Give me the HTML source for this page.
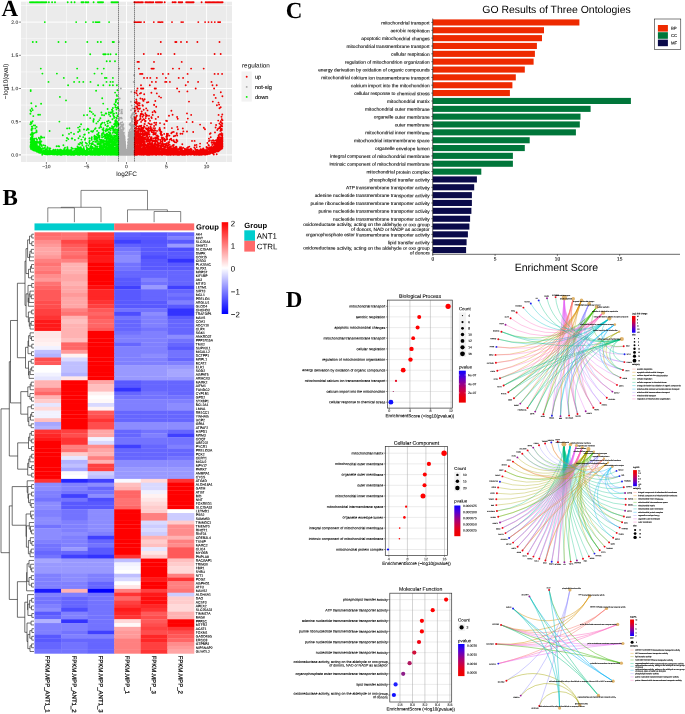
<!DOCTYPE html>
<html><head><meta charset="utf-8"><title>Figure</title>
<style>
html,body{margin:0;padding:0;background:#fff;width:685px;height:714px;overflow:hidden}
svg{display:block}
text{font-family:'Liberation Sans',Arial,sans-serif;text-rendering:geometricPrecision}
</style></head><body>
<svg width="685" height="714" viewBox="0 0 685 714">
<rect width="685" height="714" fill="#fff"/>
<rect x="21" y="1.7" width="211" height="160.3" fill="#EBEBEB"/>
<line x1="26.4" y1="1.7" x2="26.4" y2="162" stroke="#fff" stroke-width="0.5"/>
<line x1="66.5" y1="1.7" x2="66.5" y2="162" stroke="#fff" stroke-width="0.5"/>
<line x1="106.5" y1="1.7" x2="106.5" y2="162" stroke="#fff" stroke-width="0.5"/>
<line x1="146.5" y1="1.7" x2="146.5" y2="162" stroke="#fff" stroke-width="0.5"/>
<line x1="186.5" y1="1.7" x2="186.5" y2="162" stroke="#fff" stroke-width="0.5"/>
<line x1="226.6" y1="1.7" x2="226.6" y2="162" stroke="#fff" stroke-width="0.5"/>
<line x1="21" y1="138.3" x2="232" y2="138.3" stroke="#fff" stroke-width="0.5"/>
<line x1="21" y1="105.1" x2="232" y2="105.1" stroke="#fff" stroke-width="0.5"/>
<line x1="21" y1="71.9" x2="232" y2="71.9" stroke="#fff" stroke-width="0.5"/>
<line x1="21" y1="38.7" x2="232" y2="38.7" stroke="#fff" stroke-width="0.5"/>
<line x1="21" y1="5.5" x2="232" y2="5.5" stroke="#fff" stroke-width="0.5"/>
<line x1="46.4" y1="1.7" x2="46.4" y2="162" stroke="#fff" stroke-width="1"/>
<line x1="86.5" y1="1.7" x2="86.5" y2="162" stroke="#fff" stroke-width="1"/>
<line x1="126.5" y1="1.7" x2="126.5" y2="162" stroke="#fff" stroke-width="1"/>
<line x1="166.5" y1="1.7" x2="166.5" y2="162" stroke="#fff" stroke-width="1"/>
<line x1="206.6" y1="1.7" x2="206.6" y2="162" stroke="#fff" stroke-width="1"/>
<line x1="21" y1="154.9" x2="232" y2="154.9" stroke="#fff" stroke-width="1"/>
<line x1="21" y1="121.7" x2="232" y2="121.7" stroke="#fff" stroke-width="1"/>
<line x1="21" y1="88.5" x2="232" y2="88.5" stroke="#fff" stroke-width="1"/>
<line x1="21" y1="55.3" x2="232" y2="55.3" stroke="#fff" stroke-width="1"/>
<line x1="21" y1="22.1" x2="232" y2="22.1" stroke="#fff" stroke-width="1"/>
<path d="M131.3 151.6h0M131.4 153h0M123.1 152.6h0M119.4 148.5h0M124.7 154.2h0M119.3 145h0M119.3 144h0M134.4 149.4h0M128.9 150.1h0M122.3 144.2h0M125.5 150.5h0M134 153.1h0M132.8 146.3h0M132 153.3h0M124.8 153.6h0M119.5 150.9h0M127.4 150.1h0M122.9 153.1h0M132.5 153.3h0M119.6 152.8h0M129.3 147.5h0M132.4 144.3h0M122.2 140.9h0M132.8 134.9h0M132.4 148.1h0M118.9 151.5h0M129.8 143.4h0M118.6 151.2h0M125.5 153.8h0M121.8 149.6h0M131.4 153.5h0M123.6 141.4h0M120.9 152.2h0M129.6 152.8h0M131.2 143.2h0M122.3 152.3h0M131.3 134.4h0M122.3 151.2h0M118.8 152h0M133.4 154.7h0M119.9 145.8h0M132 132.7h0M133.6 154.7h0M124.9 142.1h0M133.4 152.1h0M127.4 153.5h0M122.4 134.1h0M130.3 145.7h0M129.3 145.9h0M129.4 148.9h0M125.9 152.1h0M122.1 149.3h0M128.7 150.8h0M120.3 153.2h0M129.5 152.5h0M128.6 151.7h0M124.5 154.6h0M131.2 154.4h0M121.7 152.8h0M124.8 152.1h0M131.2 125.7h0M124.6 138.2h0M129.9 137.3h0M128.3 147.3h0M133.5 144.4h0M134.3 145.8h0M130 149.1h0M131.4 117.3h0M121 146.2h0M129.9 132.2h0M132 153.4h0M124.9 141.3h0M127.3 149.8h0M133.8 148.7h0M123.6 152.7h0M118.6 132.4h0M125.2 151.2h0M128.6 147.4h0M133.4 152.2h0M133.2 149.4h0M134.2 153.5h0M121.5 152.5h0M131.6 147.6h0M121.1 130.9h0M125 152.3h0M119.7 145.1h0M132.2 138.6h0M131.7 149.2h0M120.8 146.7h0M126.9 154.6h0M122.7 134.7h0M120.3 154.4h0M132.3 151.6h0M123 153.2h0M119.5 147.5h0M118.6 134h0M121.7 149.7h0M124 150h0M133.3 148.8h0M132.7 127.7h0M125.8 151.5h0M129.1 154.8h0M132.2 137.1h0M123.9 148.9h0M131.2 153.4h0M128 154h0M130.3 137.2h0M129.6 133.9h0M118.7 142.4h0M119.2 154h0M120.9 138.6h0M122 113.4h0M121.8 150.2h0M119.4 138.3h0M122 144.1h0M128.1 153.7h0M132.6 146.9h0M124.1 152.9h0M124.4 152.9h0M125.2 149.1h0M129.4 138.9h0M131 110.1h0M133.5 144.9h0M124.5 137.5h0M129.8 147.8h0M124 149.2h0M131.6 151.6h0M122.2 150.1h0M132.4 147.5h0M130.1 152.9h0M123.6 149h0M119.4 152.6h0M119.3 153.7h0M131.8 151.7h0M118.9 132.4h0M128.1 151.7h0M130.1 153.2h0M128.3 147.3h0M122.5 149.9h0M129.2 154.9h0M121.6 146.6h0M134.3 130.8h0M130.4 146.9h0M133.7 149.4h0M123.2 154.1h0M122.7 145.8h0M119.3 151.4h0M118.8 149.7h0M122.5 127.2h0M132.2 147.9h0M121.2 141.8h0M129.5 153.1h0M122.5 153.8h0M119.6 153h0M121.6 147.6h0M129.3 154.5h0M127.3 152.1h0M122.9 147.8h0M133.2 152.7h0M121.8 153h0M130.2 152.8h0M122.6 149.5h0M121.6 148.7h0M123.7 144.1h0M120 153.2h0M133.4 149.5h0M124.4 151.9h0M121.4 151.8h0M118.6 147.7h0M119.5 142.6h0M122 154.5h0M125.2 148.5h0M134.1 147.3h0M132.7 154.1h0M122.4 148.4h0M128.3 143.5h0M133.2 147.9h0M120.2 154.2h0M132.1 148h0M124.9 152.3h0M131 150.4h0M123.7 152.1h0M128.5 148.7h0M120.2 147.1h0M130.6 152.4h0M131.6 118.8h0M124.7 153.8h0M133.6 153.5h0M124.5 141.1h0M132.5 149.4h0M125.2 152.3h0M124.5 146.3h0M124.3 154.3h0M119.5 152.4h0M123 144.9h0M122.2 146h0M119.6 138.2h0M119 153.5h0M121 152.8h0M133.1 141.8h0M120.7 152.4h0M133.6 150.8h0M120.4 138.7h0M125.1 149.2h0M131.3 146.7h0M118.9 146h0M119.7 149.4h0M133.3 112.8h0M129.4 146.5h0M122.7 143h0M122.5 152.8h0M132.7 147.7h0M133.6 146.5h0M119.7 153h0M126.9 154.2h0M121.5 145.3h0M125 149.3h0M130.3 147.9h0M129.9 146.5h0M121.6 152.8h0M123.8 137.8h0M124.7 152.9h0M129.4 150.6h0M131.1 139.1h0M125.6 152.2h0M119.6 147.3h0M124.4 154.4h0M133.6 151h0M127.4 150.5h0M131.3 145.7h0M122.7 145.3h0M123.6 148.5h0M132.6 151.5h0M133.8 148.9h0M120.8 143.2h0M131 151.8h0M126.1 154.3h0M126.1 154.6h0M132.5 153.8h0M120.6 148.6h0M122.5 154.4h0M124 143.6h0M131.5 127.5h0M124.9 142.7h0M131 117.2h0M118.8 128.5h0M134.4 148.6h0M133.7 153.2h0M129.3 149.6h0M121.7 118.4h0M129 134.8h0M121.6 148h0M124.5 145.9h0M119.1 144.9h0M119.7 134.6h0M121.1 154.5h0M121.5 136.7h0M131.9 154h0M122.4 144h0M131.7 150.5h0M118.7 151.1h0M119.5 154.1h0M119.5 147.7h0M133.3 149.3h0M131.5 147.9h0M118.8 144.6h0M133.3 152.1h0M122.2 149.3h0M122.8 151.8h0M127.8 154.8h0M121.8 149.4h0M134 137.6h0M124.4 147.1h0M127.6 150.8h0M123 151.8h0M130.2 152.5h0M134.3 145.4h0M128 150.4h0M119.9 153.5h0M131.4 147.5h0M129.1 142.3h0M128.9 141h0M122.7 138h0M123.4 135.8h0M119.7 152.6h0M127.9 150.9h0M121.5 137h0M122.6 132.5h0M132.8 147h0M122.4 154.3h0M129.7 154.7h0M134.4 138h0M132.8 153.4h0M131.2 139h0M123.8 154.8h0M127.8 154.9h0M127.8 148.4h0M120 151.8h0M129.6 148.9h0M130.3 151.4h0M119.8 142.4h0M121.9 109.8h0M134.2 142.2h0M123.3 141.2h0M122.6 125h0M119.7 138.8h0M123.5 150.8h0M127.5 151.3h0M119.2 139.7h0M123.2 150.5h0M122.6 149.1h0M121 140.9h0M131.1 141.3h0M133.8 146.5h0M133.1 143.2h0M119.6 153.8h0M124.1 154.4h0M124.6 153.4h0M130.2 149.2h0M130.4 139.7h0M132.8 148.3h0M126 153.9h0M122.4 144.8h0M133 114h0M132.6 143.7h0M120.6 144.1h0M121.9 152.4h0M129 153.9h0M131.6 145.9h0M133.8 148h0M118.9 148.8h0M121.6 153.4h0M125.3 146.8h0M130.9 152.8h0M127.4 154.7h0M122.4 143.5h0M128.9 144.3h0M127.8 152h0M133.6 137.7h0M121.6 138h0M120.6 150.9h0M124.2 145.7h0M123.7 154.5h0M121.3 146.8h0M129.8 154h0M131.6 140.6h0M118.7 147.3h0M133 154.5h0M120 147.3h0M123.4 148.5h0M125.3 153.9h0M122 146.7h0M130.1 151.5h0M131.9 152.8h0M122.2 151.4h0M121.2 141.1h0M120.9 149h0M133.5 143.3h0M132.1 154.5h0M131.8 148.3h0M125.1 145.7h0M131 152.7h0M124.8 153.3h0M120.3 149.8h0M119.2 148.6h0M129.2 150.6h0M121.6 146.5h0M133.7 143.9h0M127.5 150h0M132.8 149.1h0M123.3 129.7h0M118.7 154.1h0M122.1 151.2h0M121 151.5h0M123 140.7h0M130.3 133.8h0M124.5 153.9h0M124 141.3h0M122.3 154.8h0M134.4 152h0M121.3 153.3h0M131.9 151.4h0M130.9 137.6h0M128.1 153.8h0M120.2 150.7h0M127.6 154h0M134.3 133.6h0M130.1 154.6h0M125.6 152.4h0M132.4 148.6h0M118.7 148.3h0M121.7 149.1h0M133.8 151.5h0M128.9 151.7h0M131.7 149.7h0M127 154.3h0M119.2 152h0M127.1 154.6h0M128.6 141.2h0M120 153.8h0M133.5 150.7h0M119.6 140.8h0M119.3 145.5h0M120.2 153.9h0M129.4 151.5h0M132.7 149.1h0M121.1 154.9h0M132 154.3h0M122.1 138.9h0M130.7 152.3h0M120.4 148.4h0M132.3 146.7h0M124.2 151.2h0M131.2 146.2h0M125.8 154h0M133.5 142.9h0M124.9 154.4h0M131.6 130.9h0M119.8 149.8h0M120.9 133.4h0M125 146.8h0M122.4 141.7h0M129.4 148.4h0M122.4 151.3h0M129.8 153.9h0M129.8 150h0M125.3 150.4h0M121.3 150.5h0M131.8 152.1h0M124.2 154.2h0M123.2 144.3h0M133.3 137.7h0M123.4 151h0M121.7 149.3h0M124.9 146.7h0M129.4 150.6h0M118.9 153.5h0M133.3 137.8h0M125.9 151.8h0M125.7 154.6h0M122.9 146.4h0M131.5 115.7h0M120.1 150.4h0M124.1 135.7h0M124.3 140.6h0M120.2 147.9h0M132.7 151.8h0M121 152.9h0M130.1 153.6h0M125.3 149.6h0M129.3 145.4h0M118.8 150.9h0M125.9 152.1h0M118.6 152.6h0M118.8 154h0M123.9 154.7h0M120.4 151.9h0M124.3 151.9h0M131.6 152.8h0M130.7 152.6h0M118.6 153.8h0M123.9 141.4h0M131.5 136h0M127.5 149.7h0M131.3 141.5h0M129.5 138.3h0M119.7 149.2h0M134.1 152.6h0M127.4 153.9h0M122.7 150.2h0M132.9 141.8h0M134.4 140.1h0M124 152.8h0M119.6 150.4h0M130.7 149.3h0M128.8 146.2h0M122.3 124.9h0M131.7 154.2h0M127.2 152.5h0M133.3 139.7h0M131.6 141.2h0M120.2 150.9h0M122.3 122.1h0M132 146h0M119.1 150.2h0M120.6 151.8h0M133.1 150.2h0M131.4 145.5h0M122.6 152.1h0M123.9 147.2h0M119.2 150h0M120.6 144.6h0M118.8 147.5h0M127.9 151.2h0M128.3 151.3h0M120.9 139.3h0M131.8 137.3h0M128.1 151.4h0M129.1 152h0M121.8 145h0M131.3 125.5h0M125.1 143.1h0M120.6 144.9h0M122.6 149.8h0M130.1 153.9h0M125.8 152.2h0M130.6 133h0M125 154.5h0M118.8 152.7h0M127.5 153.7h0M133.5 126h0M119.2 154h0M125.9 154.2h0M128.9 145.6h0M120.2 153.8h0M119.8 135.7h0M119.7 117.8h0M123.9 149.5h0M121.4 152.6h0M133.5 147.8h0M122 150.5h0M134.2 148.5h0M124.1 145.8h0M131.8 141.9h0M130.9 146.4h0M132.3 142.1h0M131.9 152.8h0M120.9 143.3h0M132.7 149h0M120.5 151h0M119.3 132.5h0M123.3 146.1h0M120.7 144.9h0M128.4 151.7h0M123.6 153.3h0M127.6 151.1h0M122 138.8h0M132.9 126.7h0M128 150.8h0M130.1 147.5h0M134.3 152.6h0M123.9 140.9h0M120.3 150.3h0M122.4 148.7h0M121.1 138.6h0M125 144.5h0M130.3 152.1h0M130.7 154.6h0M120.3 151.2h0M121.1 143.5h0M124.3 154.4h0M132 145.7h0M127.1 154.5h0M123.2 141.2h0M128.2 146h0M123.9 140.8h0M128.1 142.8h0M130.5 151.5h0M124.2 144.5h0M120.6 133h0M122.7 148.6h0M119.2 138.7h0M119.5 151.2h0M119.9 139.1h0M132.8 149.4h0M130.2 154.4h0M127.9 148.5h0M131.2 154.7h0M121.4 150.1h0M124.2 154h0M132.1 114.3h0M127.1 154.5h0M120.6 150h0M119.3 139.1h0M119.1 140.8h0M130.6 144.2h0M132.8 127.1h0M120.9 147.4h0M131.4 153.3h0M119.2 140.4h0M131.8 143.1h0M129.7 139h0M122.1 146.9h0M133.3 150.8h0M122.9 153.5h0M122.8 144.3h0M130.8 144.7h0M127.7 149.4h0M127.6 154.3h0M120.3 152.3h0M120.3 154.1h0M134.1 152.7h0M129.7 130.1h0M128.3 154.5h0M122.3 154.3h0M121.1 135.6h0M127.8 152.2h0M118.7 145.3h0M119 154.8h0M124 144.6h0M127.9 150.5h0M133.3 136.4h0M123.4 144.7h0M133.7 150.8h0M123.3 151.5h0M119.3 148.1h0M120.3 151.4h0M118.7 152.7h0M131.2 144.9h0M124.6 150.8h0M129.4 153.8h0M132.3 143h0M120.2 127.8h0M129.2 133.1h0M119 154.7h0M124.4 139h0M125.3 151h0M130.1 150.3h0M131.9 121.9h0M133.8 154.5h0M130.9 137.1h0M131.6 151.6h0M133.4 149.5h0M124 137.4h0M119 139.5h0M125.8 152h0M119.5 146.9h0M122 138.8h0M125.1 144.8h0M125.1 149.6h0M130.7 151.5h0M125.9 154.6h0M129.8 141.2h0M118.9 154.5h0M130 132.6h0M130.6 141.1h0M118.8 134.7h0M124.1 145.9h0M128.7 147.2h0M120.8 149.8h0M131.4 145.9h0M134 143.3h0M131 149.8h0M131 152.9h0M133.4 142.8h0M133.7 148.2h0M123.8 141h0M128.8 150.2h0M120.1 151.8h0M133.1 151.6h0M119.5 153.3h0M123.1 136.5h0M127.7 154.2h0M122.1 150.4h0M124.1 144h0M129.1 154.7h0M131.7 141.7h0M128.4 141.2h0M130 134.6h0M118.8 149.6h0M129.3 142.6h0M133 151.6h0M120.7 129.7h0M131 143.8h0M131 153.3h0M119.9 136.4h0M123.5 151.7h0M124.4 151.2h0M134.3 154.3h0M127.6 154.8h0M131.2 128.7h0M124.8 152.2h0M120.6 145.3h0M134.1 143h0M121.1 151.8h0M132.9 131h0M134.1 152h0M120.5 152.1h0M125.9 151.8h0M131 153.4h0M134.4 150.6h0M122.5 152.1h0M119.1 147h0M134.1 130.9h0M118.6 113.8h0M133.8 143.7h0M132.7 154.8h0M132.8 140.3h0M125 154.5h0M121.8 153.4h0M125.4 148.7h0M129.8 141.3h0M121.6 132.1h0M126 153.5h0M133 153.3h0M127.9 153.1h0M133.3 154h0M130.5 151.5h0M120.7 152.2h0M128.8 152.4h0M121.5 150.9h0M119.7 151.6h0M128.1 153.5h0M118.7 151.7h0M119.4 147.1h0M121.4 149.9h0M129.1 139.4h0M123 124.8h0M122.4 137.5h0M127.3 154.4h0M126.9 154.3h0M132 153.9h0M131.6 148.4h0M133.4 135.4h0M120.3 137.5h0M119.5 134.3h0M130.5 147.8h0M124.9 145.9h0M119.4 154.7h0M123.7 134.3h0M122 131.3h0M129.1 148.1h0M130.2 148.7h0M122.7 150.2h0M129.1 153.1h0M122.2 139.8h0M132.6 151.2h0M121.2 144.8h0M123 151h0M131 128.9h0M120.7 152.5h0M125 141.7h0M133 149h0M129 144.2h0M127.5 152.9h0M120.9 150.6h0M120.2 123.7h0M128.2 153.3h0M133.2 143.9h0M119.9 149.9h0M125.3 150.8h0M124.4 154.8h0M118.9 140.9h0M131.7 146.2h0M128.4 148.1h0M122.4 146.6h0M133.8 153.7h0M133.2 154.6h0M129.6 148.9h0M120.5 153.9h0M128.6 153.9h0M118.6 145.3h0M123.1 150.4h0M131.1 139.3h0M128.8 142.9h0M125.7 153h0M130.2 136.5h0M121.5 148.5h0M132.8 140.5h0M131.9 138.7h0M133 141.8h0M133.7 126h0M131 153.6h0M123.2 150.2h0M133.1 129.8h0M131.4 154.5h0M120.1 153.3h0M134 142.6h0M122 134.9h0M121.3 142.5h0M127.4 149.1h0M132.2 144.9h0M122.9 141h0M121.9 154.6h0M131 144.9h0M127.5 151.4h0M127.6 149.1h0M131.4 148.2h0M130.9 151.9h0M124.3 140.2h0M134.4 140.7h0M131.9 146.1h0M123.6 128.8h0M132.8 141.5h0M123.1 144.9h0M125.9 153.8h0M130.7 153.8h0M129.8 148h0M129.5 152.8h0M121.9 150.2h0M123.9 154h0M130.5 135.8h0M127.7 153.3h0M133 154.7h0M119.7 150.7h0M134.2 150.6h0M123.3 124.2h0M120.2 152.4h0M119.7 154.3h0M134.3 152h0M131 149.8h0M134.1 149.8h0M132 135.9h0M125.4 151.9h0M121.6 152.9h0M127.1 153.3h0M122.4 139h0M121.1 134.7h0M127.4 149.8h0M134.2 149.7h0M131.3 141.8h0M118.9 154.3h0M121.3 124.8h0M129.8 132.4h0M134.3 154.4h0M127.3 151h0M126 154.3h0M118.7 151.7h0M125.5 152.8h0M132.2 139.3h0M119.5 148.6h0M133.6 150.2h0M133.8 150.3h0M118.8 139.9h0M121.7 152.3h0M134.1 135.1h0M131.2 148.4h0M122.8 151.7h0M124.7 149.4h0M129.3 154.7h0M119 146.6h0M121.2 148.6h0M131.1 146.5h0M123.4 151.3h0M122.3 139.8h0M133 152.1h0M130 146.7h0M132.2 153.5h0M131 154.4h0M121.5 144.3h0M129.6 151.6h0M127.3 154.6h0M130.1 151.4h0M129.3 153.8h0M131.1 149.1h0M119.5 134.3h0M121.2 131.8h0M132.6 121.7h0M129.4 147.5h0M132.3 153.4h0M119.5 142.4h0M118.8 151.6h0M121.1 145.2h0M119.3 150.8h0M121.6 151.7h0M122.6 148.6h0M119.7 118.2h0M128.9 136.3h0M127.8 151.1h0M129.4 154.8h0M134.1 152.6h0M122.4 151.3h0M123.4 153.4h0M131.5 149.7h0M128.9 151.9h0M130.5 143.8h0M122.3 151.1h0M120.7 141.1h0M126.1 154.7h0M132.9 151.2h0M122.7 153.3h0M130.7 143.9h0M129.7 150.1h0M124.4 141.3h0M129.7 146.5h0M133.2 144.8h0M121.9 150.1h0M122.7 154h0M124.8 151.2h0M121.7 150.2h0M130.2 131.9h0M132.1 124.2h0M133.2 133.9h0M121.5 151.3h0M129.6 153.8h0M124.6 148.9h0M133.4 154.8h0M121.7 147.8h0M122.6 147.4h0M120.4 142.1h0M125.8 152.8h0M129.5 150.2h0M132.8 141.3h0M131.3 154.6h0M122.9 150.4h0M128.1 147.4h0M129 152.2h0M120.7 126.4h0M128.9 147.2h0M132.4 151.3h0M123.3 149h0M120.8 152.7h0M132.2 118.8h0M120.5 148.4h0M121.9 153.5h0M120.2 151.2h0M134.2 154.3h0M130.6 152.7h0M120 152.9h0M132 146.2h0M119 147h0M119.5 152.2h0M122.5 145.4h0M119.2 144h0M121.2 154.6h0M119.6 149.2h0M120.8 150.6h0M120.1 153.7h0M125.3 152.9h0M131.7 149h0M131 154.2h0M119.6 152.6h0M133.6 153.7h0M119.6 146.1h0M118.8 151.4h0M130.4 153.7h0M128.5 154.7h0M130.6 151.2h0M122.9 154.2h0M132.7 152.8h0M132.4 154.4h0M119.3 142.9h0M133.7 142.1h0M130.8 147.3h0M132.1 144.3h0M131.2 143.6h0M133 138.5h0M132.8 133.4h0M123 144.6h0M121.3 145h0M128.9 154.5h0M125.6 154.8h0M132.2 139h0M121.1 151.1h0M124.5 145.4h0M133.8 151.8h0M129.6 152.7h0M121.2 133.9h0M121.6 152.9h0M124.7 154.3h0M133.5 149h0M122.9 154.9h0M121.9 140h0M122.5 154h0M122 153.6h0M120.3 144.4h0M131.6 149.1h0M129 153h0M122.6 154.7h0M125.2 154.3h0M132.5 154h0M122.7 152.7h0M120.1 150.6h0M124.7 153.5h0M119.9 149.8h0M130.8 154.9h0M134.4 148.4h0M119.8 151.4h0M124.3 151.9h0M133.7 125.1h0M120.5 154.8h0M131.4 149.9h0M120.3 154.7h0M131 147.3h0M131.1 145.5h0M131.3 153.4h0M123.7 142.3h0M127.1 154.3h0M120.6 148.3h0M134.3 152.4h0M130.2 148.2h0M124.8 151.6h0M123.8 154.1h0M133 150h0M121.1 152.9h0M133.6 143.8h0M125.9 154.3h0M126 154.1h0M118.8 153h0M123.7 147.7h0M119.3 151.9h0M118.8 141h0M118.7 151.9h0M128.4 148.7h0M118.7 152.3h0M133.7 152.3h0M128.5 152.8h0M130 143.1h0M119.2 143.4h0M121.9 148.8h0M133.2 140.1h0M124.2 152.3h0M121.7 149.6h0M125.4 154.4h0M123.7 148.4h0M120.9 154.2h0M130.9 151.9h0M122 140.4h0M133 152.2h0M130.2 134.1h0M132.2 154.5h0M130.1 150.5h0M132.6 142.4h0M133.7 148.8h0M118.7 149.1h0M122.7 126.5h0M132.9 114.5h0M133.2 150.1h0M124 141.5h0M131.8 151.3h0M122.7 147.5h0M125 154.3h0M131.7 154.6h0M124.8 150h0M129 152.5h0M121 137.5h0M121.9 153.2h0M134.1 108.6h0M121.6 154.2h0M121.2 142h0M118.8 143.7h0M119.8 144.8h0M128.3 148.7h0M132.5 129.3h0M134.2 147.2h0M124.2 150h0M125 141.4h0M132.1 149.5h0M130.4 147.9h0M132.1 152.5h0M124 152.7h0M120 133.9h0M129.3 137.9h0M131.2 153.7h0M128.6 151.1h0M122.9 152h0M129.7 140.2h0M122.1 150.6h0M131.3 138.2h0M133.5 147.6h0M123.7 152.4h0M128.2 151.5h0M123.8 153.9h0M132.7 140.5h0M123.6 150.2h0M131.1 147.8h0M130.5 123.3h0M120.3 134.9h0M131.7 105.6h0M124.5 152.6h0M124.9 149.8h0M130.5 138.5h0M121.1 150.2h0M130.6 149.7h0M127.1 152.7h0M121.3 117.7h0M129.3 146.5h0M128.3 150.1h0M128.7 152.6h0M133.3 151.2h0M119.8 149.4h0M119.3 150.8h0M124.4 153.2h0M128.8 153.5h0M131.5 148.9h0M123 154.4h0M132.8 154h0M133.2 132.8h0M133.2 143.9h0M128.5 152.1h0M119.7 149.5h0M122.9 154.6h0M131.8 151h0M121.4 151.9h0M125.6 149.4h0M129.3 153h0M125.1 153.8h0M127.8 153.7h0M127.5 152.5h0M120.6 147.8h0M119.2 144.3h0M128.6 150.2h0M127.4 151.5h0M134 152.9h0M121 141.1h0M119.9 127.7h0M131.8 131.5h0M132.7 151.9h0M133.9 153h0M132.7 154.2h0M124.9 152.9h0M127.6 150h0M128.7 136.1h0M131.7 149.7h0M130.8 154.8h0M119.1 149.9h0M133.1 150.7h0M125.2 147.6h0M130.2 147.8h0M134 152.7h0M128.9 153.8h0M122.8 145.5h0M128.2 154.9h0M121.5 154.8h0M121 152.1h0M130.7 141.5h0M125.4 150.6h0M125.5 153.2h0M128.2 139.2h0M128.5 153.3h0M131.2 153.6h0M123.4 142.6h0M128.1 153.3h0M120.1 142.9h0M132.2 125.7h0M128.2 142.8h0M125.1 152.6h0M131.7 144.5h0M124.6 153.8h0M130.6 148.7h0M118.8 139.2h0M123.6 147.5h0M130.4 153.4h0M129 152.3h0M120.1 146.7h0M124.3 148.1h0M131.5 138.3h0M120.3 134.2h0M121 149.9h0M123.4 154.1h0M125 154.7h0M129.8 154.1h0M124.8 152.1h0M130 134h0M122.2 149.4h0M124.3 143.2h0M130.8 147.9h0M125.5 152.5h0M125.3 152.4h0M120.1 138.8h0M119.3 148.1h0M121.1 143.2h0M130.2 133.4h0M130.4 138.3h0M134 147.7h0M130.4 125h0M121.8 145.2h0M121.9 146.9h0M122.6 152.9h0M133.1 154h0M125.4 152h0M120.4 153.5h0M128.2 148.1h0M118.7 148.2h0M128.7 141.7h0M122.2 141h0M133.8 147.5h0M128.6 136h0M120.4 141.7h0M122.9 148h0M123 152.5h0M133.3 151.7h0M124.2 136h0M129.2 146.6h0M129.9 131.9h0M128.8 134.1h0M121.4 153.5h0M133 119h0M121.3 154h0M127.5 149.2h0M133.1 146.4h0M134.2 154h0M124.2 141.9h0M127.4 152.7h0M128.9 132.5h0M122.3 154.1h0M125.1 152.7h0M128.1 152.2h0M121.9 152h0M130.6 148.7h0M134.4 149.8h0M118.6 127.9h0M134.4 153.5h0M131.1 151.5h0M119.8 150.7h0M122.9 145.3h0M119.2 148.5h0M129 154.5h0M132.8 126.3h0M133.7 116.8h0M122.4 148.8h0M123.8 148.2h0M121.7 148.9h0M122 148.9h0M129.3 153.5h0M130.7 152.3h0M133.9 140.3h0M125 153.9h0M133.6 143.7h0M119.4 110.9h0M123.3 151.5h0M130.2 147.9h0M123.7 144.1h0M120.6 153.3h0M133.7 126h0M133.8 151.3h0M133.3 151.7h0M121.1 149.7h0M123.7 148.4h0M124.6 153.5h0M125 150.6h0M131.6 153h0M134.4 147h0M130.5 154.2h0M130.7 153.6h0M123.3 151.3h0M134 150.7h0M124.8 154.6h0M133.9 141.5h0M130.4 152h0M123.8 140.7h0M121.8 153.2h0M130 148.2h0M129.2 143.5h0M127.7 153.4h0M122.9 150.4h0M133.1 147.6h0M133.1 150.6h0M131.3 151.7h0M130.4 145h0M121.2 113.3h0M120.8 154.6h0M124.4 152.3h0M133.7 154.8h0M120.6 148.9h0M119.5 150.9h0M121.7 147.5h0M122.6 150.8h0M120.5 128.1h0M130.6 145.9h0M127.8 152.3h0M131.6 152.2h0M124 141.2h0M133.6 151.6h0M125.9 152.4h0M129 135.2h0M131.1 141h0M124.5 154.3h0M131.6 152.1h0M119.2 154.8h0M127 153.8h0M120 151.5h0M127.6 154.5h0M134.1 154.6h0M129.5 144.5h0M123.6 151.8h0M128.2 149.8h0M130.9 151.4h0M130.5 134.2h0M130.4 149h0M131.3 134.7h0M125 153.4h0M130.4 153.8h0M124.1 143h0M125.6 152.3h0M134 145.1h0M130.2 145.6h0M134.2 146.8h0M128.9 154.5h0M127.6 149.3h0M128.9 148.2h0M119.2 154.9h0M125.4 154.3h0M122.5 145.9h0M133.5 151.4h0M130.1 151.3h0M120.5 143.4h0M121.4 141.7h0M119.2 133.2h0M131.1 147.7h0M130.3 149.6h0M123.8 145.9h0M121.3 152.9h0M122.7 149.2h0M128 148.4h0M120.7 122.8h0M119.1 153.4h0M123.1 150.8h0M134.4 151h0M120.8 134.4h0M129.2 149.8h0M133.4 153.2h0M132.6 145.3h0M128.8 144.4h0M130.2 141.5h0M132.4 149.5h0M124.7 144.4h0M127.4 154.1h0M118.8 153.6h0M132.3 149.8h0M132 149.3h0M132.4 142.4h0M121.3 153.6h0M122.3 150.2h0M123.3 149.5h0M121.1 152h0M118.7 152.5h0M121.3 150h0M121.3 151.7h0M132.7 129.3h0M119.5 153.7h0M119.3 143.3h0M134 145h0M118.7 145.7h0M121.7 112h0M130.4 145.9h0M128 142.5h0M125.2 144.5h0M133.7 145.9h0M120.3 144.8h0M127.8 153.4h0M131.9 150.8h0M132.8 151.7h0M120.1 151.4h0M127.6 147.2h0M122.4 139.4h0M124.3 146.8h0M120.4 143.4h0M120 153.7h0M134.1 147h0M124.1 148.1h0M132.9 151.5h0M131.8 127.7h0M128.4 154.5h0M133.7 132.5h0M122.8 154.3h0M131.6 153.6h0M119.9 152.2h0M130.2 143.6h0M130.6 154.2h0M129.7 142.7h0M128.9 149.1h0M134 150.1h0M121.6 143.3h0M123.4 154.3h0M130.7 145.1h0M131.2 138.8h0M120 150.5h0M121.6 132.8h0M128.6 141.3h0M129 141.6h0M131.1 148.8h0M124.6 149.9h0M123.2 154.7h0M130.4 146.7h0M120.5 153.2h0M125 147.2h0M132.6 153.6h0M129.4 151.4h0M120.4 144.7h0M119.4 154.3h0M132.6 126.2h0M122.1 137.1h0M128 151.9h0M122 144.3h0M133.7 144.4h0M122.9 129.8h0M128.5 149.7h0M124.1 150.1h0M121.8 147.6h0M120.7 145.1h0M123.6 150.8h0M134.1 154.1h0M125.2 146.4h0M119.8 135.6h0M132.5 148.6h0M128.7 153.7h0M125.1 148.5h0M132.3 131.5h0M128.1 149.3h0M123.8 139.9h0M120.8 152.3h0M134.2 148h0M129.5 145.3h0M125.1 149.7h0M124.4 147.3h0M122.2 151.5h0M131.8 143.6h0M119.2 150.8h0M127.3 150.5h0M127.5 149.5h0M121.1 154h0M119.3 150.3h0M127.3 151.5h0M125.4 150h0M130.4 153.1h0M127.8 153.1h0M124.7 148.1h0M128.3 145.5h0M128.4 154h0M123.2 147.9h0M122.4 145.5h0M132.5 139.3h0M127.1 153.7h0M123.1 124.9h0M132.5 145.5h0M124.5 137h0M121.2 148h0M122 150.2h0M123.1 154.3h0M130.3 153.6h0M122.9 151.8h0M133.2 151h0M120.5 144.2h0M125.2 147.5h0M129.8 153.4h0M134 153.5h0M131.7 153.8h0M124.3 151.3h0M123.6 147.2h0M119 142.6h0M121.4 144.5h0M120.3 149.1h0M129.1 145.5h0M119.4 130.2h0M119.3 139.7h0M130.7 153.6h0M119.3 133.8h0M127.9 152.3h0M119.3 119.7h0M125.5 153.3h0M134.3 154.2h0M123.4 143.4h0M134.2 153.5h0M128 151.2h0M131 152.9h0M123 128.7h0M127.4 154.6h0M124.2 145.1h0M121.1 151.8h0M133 153.3h0M134.3 146.4h0M123 151.6h0M129.8 133.6h0M119.7 109.9h0M120.8 153h0M119.3 154.4h0M128.5 143.8h0M133.4 126.6h0M127.1 153.8h0M119.3 147.3h0M131.4 147h0M121 145.7h0M124.4 152.8h0M125.6 152.6h0M124.7 154.1h0M134.2 148.2h0M129.8 152.7h0M120 141.7h0M123 152.9h0M124.6 149.7h0M125.9 154h0M129.6 124.5h0M125.8 153.9h0M120.3 148.6h0M133.2 151.2h0M128 146.6h0M120.1 141.9h0M122.8 150.6h0M128.2 152.2h0M128.2 148.6h0M118.8 149.4h0M133.1 152.8h0M123.3 154.2h0M132.7 141.4h0M132 153.5h0M133.2 152.3h0M121.5 154.7h0M121.9 146.9h0M129.5 153h0M131.6 131.5h0M122.8 152.1h0M118.8 153.4h0M133.6 149.2h0M119 151.7h0M129.2 146.4h0M132.1 151h0M124.1 154.4h0M121.5 125.8h0M124.2 146.8h0M129.3 153.6h0M132.9 154.7h0M123.4 142.6h0M121.4 150h0M120.1 152.2h0M129.7 140.9h0M123.6 142.1h0M119.3 149.5h0M124 149.7h0M121.4 148.5h0M122.5 124.6h0M121.8 150.7h0M128.6 151.5h0M124 150h0M123.8 150.6h0M130.1 152.1h0M128.7 152h0M130.6 154h0M119.3 149.8h0M131.2 147.9h0M130.2 150.7h0M132.6 153.9h0M128.9 153.1h0M121.9 146.6h0M123.2 145.7h0M119.8 151.7h0M118.9 134.4h0M122.1 153.7h0M122.6 147.9h0M122.4 131.6h0M118.7 127.4h0M118.7 153.9h0M134 138.5h0M130.2 139.4h0M123.4 145.5h0M121.3 141.7h0M122.3 142.6h0M123.1 146.9h0M118.7 144.1h0M128.3 150.8h0M123.9 139.5h0M120.6 132.4h0M132.3 138.5h0M131.3 150.7h0M130.9 146.9h0M121.9 147.6h0M134.1 148.4h0M127.2 153.2h0M119.5 151.2h0M120.6 131.2h0M124.5 149h0M130.8 142.2h0M132.3 145.4h0M134.3 153.1h0M129.1 144.2h0M132.5 151.7h0M129 140.1h0M133.3 152.5h0M134 154.7h0M123 153.1h0M122.1 150.6h0M132.3 154.3h0M132.6 152.3h0M121.6 135.5h0M119.6 151.2h0M118.7 152.5h0M127.8 145.3h0M123.1 150.2h0M130.8 149.8h0M130.2 135.8h0M123.9 132.8h0M130.7 151.3h0M123.7 141h0M131.7 150.8h0M129.5 146.3h0M123.6 153h0M127.8 152h0M132.2 153.4h0M120.2 148.4h0M133.1 154.6h0M130.7 148.5h0M122.2 154.7h0M118.8 147.5h0M127.1 152.7h0M119.6 140.6h0M133.5 125.7h0M124.6 151.6h0M118.7 124.7h0M129.5 153.7h0M127.5 153h0M133.7 151.5h0M130.4 152h0M129.6 153.8h0M127.4 153.1h0M133.9 152.2h0M132.1 153.5h0M120.6 141.9h0M120.6 150.6h0M130.2 138.8h0M123.2 150.8h0M121.3 129.8h0M119.3 154.3h0M121.9 153.5h0M130.4 152.3h0M128.2 152.6h0M130.1 151.8h0M129.2 146.9h0M121.8 132.6h0M119.3 153.9h0M119 145.6h0M119 153.3h0M121.4 141.3h0M129.4 138.7h0M119.3 109.8h0M128.4 150.1h0M124.5 154.9h0M123.7 128.2h0M131.9 151.8h0M130.7 154.3h0M128 151.2h0M134.2 142h0M131.1 154.6h0M118.6 153.6h0M131.2 154.6h0M122.6 141.2h0M129.1 154h0M134 137.1h0M120.5 145h0M129.9 152h0M129.1 146.1h0M125.1 152.2h0M133.1 147.7h0M119.9 141h0M123.1 149.2h0M131 150.6h0M132.6 154.5h0M131.4 147h0M123.9 152.8h0M122.6 147.5h0M131.6 149.6h0M133.2 137.7h0M128.9 141.2h0M121.1 142.8h0M128.5 152.8h0M132 120.8h0M132.5 141.9h0M129.8 150.2h0M130.2 145h0M123.5 147.5h0M129.6 153.8h0M124.7 139.6h0M124.9 149.9h0M129.1 150.6h0M127.1 152.1h0M127.6 154.6h0M122.1 153.4h0M129.6 151.3h0M120.1 142.8h0M124.7 147h0M121.9 149.3h0M129.9 142.1h0M120.5 148.5h0M119.6 142.7h0M120 147.8h0M128.2 146.2h0M119.2 153.6h0M119.7 150.7h0M123.7 141h0M123.7 139.7h0M120.6 148.6h0M130.2 151.8h0M131.7 146.8h0M125.6 149.6h0M128.2 147.5h0M121.7 146h0M131.8 141.8h0M119.5 134.4h0M122.9 146.4h0M127.9 150.1h0M119.9 154.4h0M127.3 154.4h0M125 147.3h0M132.2 154.3h0M124.4 145.4h0M124.6 148.9h0M131.5 148.6h0M131.5 135.5h0M133.7 152.6h0M119.8 148.4h0M118.6 148.2h0M129.8 147.8h0M131.1 150.9h0M121.8 145.4h0M120.8 154.5h0M134.4 124.4h0M130 153.4h0M119.9 153.2h0M127.9 150.3h0M124.1 152.2h0M123.1 153.3h0M123.1 147.3h0M129 151.2h0M125.3 145.6h0M127.7 150.1h0M130.8 132.6h0M119.3 137.6h0M118.9 42h0M120.9 88.5h0M131.3 91.8h0M133.7 81.9h0M119.7 98.5h0M132.5 108.4h0M121.7 111.7h0M130.9 101.8h0M134.1 75.2h0M119.3 68.6h0" stroke="#A9A9A9" stroke-width="1.9" stroke-linecap="round" fill="none"/>
<path d="M111.3 152.5h0M111 153.4h0M110 151.5h0M97.3 153h0M68 154.4h0M77.2 153.2h0M59.7 151.3h0M90 152.3h0M47.8 154.5h0M33.7 149.8h0M76.3 153.1h0M59.5 150.8h0M84.9 152.3h0M107.6 152.9h0M46.8 153.8h0M31.1 145.6h0M70 151.2h0M104.3 152.8h0M51.5 152.7h0M32.3 147.8h0M115.5 153h0M90.1 154.3h0M64.1 154.3h0M64.9 153.5h0M114.1 154.3h0M33.9 147.3h0M89.6 153.3h0M36.8 148.7h0M45.5 152.1h0M104.7 152h0M31.4 148.3h0M91.4 154h0M57.3 151.1h0M68.9 152.7h0M53.8 154.4h0M47.7 150.6h0M38.4 149.1h0M116.4 148.5h0M41.8 152.7h0M38.7 148.9h0M88.7 152.3h0M102.5 152.4h0M109 153.2h0M30.7 147.4h0M82.4 152.2h0M89.9 152.8h0M68.2 152.9h0M103.8 154.1h0M44.8 152.6h0M30.7 147.1h0M85.3 154.7h0M39.6 149.8h0M90.4 151.2h0M101.3 152.8h0M79.8 154.3h0M37.8 150.6h0M55.4 153.5h0M86.1 151.4h0M79.3 149.4h0M71.6 154.7h0M42 152.8h0M60.5 154.7h0M54.4 152.8h0M49.8 152.9h0M47.9 150.7h0M70.5 152.6h0M40.4 151.2h0M93.1 153.7h0M47.7 153.6h0M79.3 153.1h0M99.5 151.2h0M72.5 151.7h0M83.5 152.8h0M68.9 154h0M47.8 151.7h0M49.2 149.4h0M55.4 151.7h0M35.7 150.4h0M85.1 154.1h0M52.4 154.1h0M45.4 152.4h0M82.9 153h0M34.4 148.2h0M40.9 151.8h0M63 150.5h0M113.4 153.8h0M92.7 151.8h0M38.2 151.7h0M110 151.4h0M49.1 148.3h0M84 154.3h0M103.9 153.2h0M101.8 149.4h0M76.6 152.1h0M100.4 152.8h0M80.1 152.5h0M102.4 152.7h0M98.4 153.7h0M40.7 148.5h0M106.3 153.2h0M87.5 153.5h0M115.1 154.1h0M38.9 151.9h0M114.2 153.3h0M91.4 153.3h0M48.6 152.4h0M93.5 153.2h0M84.3 153.5h0M70.9 154.1h0M55.7 150.3h0M94.8 152.6h0M84.9 153.7h0M86.6 152.4h0M53.2 153.3h0M95.7 152h0M44.7 150.6h0M69 152.1h0M87.9 152.2h0M116.2 153.9h0M70.1 151.4h0M70.7 153.2h0M114.6 150.5h0M106.2 150.9h0M90.9 152h0M112.8 151.2h0M78 154.1h0M55.7 153.5h0M39.2 147.3h0M99.8 154.7h0M65 153.2h0M89.2 154.2h0M73.6 152.6h0M67.3 151.3h0M110.6 152.7h0M43.8 152.6h0M65 151.7h0M77.5 152.7h0M87.8 154h0M98.4 153.3h0M80.2 151.2h0M39.1 150.5h0M90.9 153.5h0M108.5 153.1h0M68.2 154.4h0M94.5 152.1h0M49.3 152.1h0M116.9 152.5h0M44.7 152.8h0M51.2 153h0M107.5 152.1h0M89.8 154.4h0M78.9 154.4h0M62.9 154h0M102.5 151.7h0M94.3 151h0M101.7 153.9h0M117.8 151.8h0M110.4 153.5h0M86.8 153.5h0M47.9 154h0M111.5 151.6h0M64.4 154.1h0M69.9 152.6h0M94.6 152.1h0M94.2 152.6h0M40.5 151.4h0M44.6 154h0M51.6 153.7h0M68.4 150.5h0M66.8 152.4h0M79.8 154.3h0M31.1 148.9h0M111.9 150h0M34 150.3h0M38.7 151.9h0M93.5 153.2h0M57.6 151.4h0M112.9 150.3h0M63.8 154h0M34.3 150.6h0M95.2 153.5h0M46 152.3h0M96.1 152.3h0M51.2 153.1h0M110.7 149.8h0M83.2 152.1h0M39.4 151.5h0M46.7 153.4h0M64.6 152.4h0M114 153.1h0M84.5 153.4h0M106.9 153.6h0M36.9 148.1h0M113.6 152.4h0M71.3 153h0M101.2 153.8h0M90.3 153h0M68.4 150.1h0M115.5 153h0M73.2 153.6h0M97.8 154.2h0M109.4 153.3h0M109.6 154.2h0M54 152.7h0M91.1 153.9h0M105.9 154.3h0M64.2 152.1h0M72.9 151.6h0M35.5 147.8h0M84.4 151h0M109.3 154.2h0M104.2 153.7h0M35.3 146.2h0M95.1 153.5h0M93.5 152.6h0M54.9 152.7h0M98.6 153.3h0M115.3 149h0M104.7 151h0M102.6 154.4h0M45.9 152.8h0M38.9 152.6h0M83.8 153.2h0M94.8 153.1h0M102.8 154h0M76 152.9h0M83.2 153.1h0M80.9 151.9h0M76.4 149h0M45.8 154.2h0M64.3 154.5h0M40.5 148.9h0M59.7 154.4h0M100 153.7h0M96.1 151.7h0M112.8 154.1h0M112.2 151.4h0M97.2 153h0M40.1 152.9h0M58.2 152.7h0M114.1 153.6h0M62.3 153.6h0M33.4 150.2h0M80.8 152.9h0M100.6 151h0M34.5 149.3h0M112.2 153.5h0M67 152.3h0M105.7 152.6h0M102.7 151.2h0M48.8 153h0M97.8 152.3h0M40.9 150.1h0M53.6 152.7h0M61.6 151.7h0M69.4 150.4h0M96.6 153.7h0M38.5 151h0M105.3 153.6h0M51.3 153.3h0M74 151.9h0M38.7 148.9h0M113.3 151.6h0M114.9 151.1h0M87 152.2h0M51.6 153.9h0M78.1 154.4h0M96.9 153.5h0M39.8 148.9h0M46.8 152.5h0M111.7 154h0M80.4 154.3h0M118.3 153.1h0M104.2 150h0M99.5 148.3h0M76.8 150.6h0M69.1 150.2h0M86.1 152.5h0M49.3 152.1h0M63.2 152h0M31.1 143.9h0M36.2 149.8h0M50.7 152.3h0M72.6 154.2h0M118.1 154.1h0M104.3 152.2h0M101.1 152.7h0M118 152.4h0M116.3 153.2h0M65.8 152h0M75.3 150h0M92 153.9h0M103.9 152.4h0M51 152.2h0M115.9 151.5h0M101.3 154.1h0M116.7 152.2h0M58.1 152.3h0M105 154.5h0M84 151.9h0M65.4 152.9h0M51.1 154h0M91.6 153.3h0M66.3 151.8h0M96.6 153.1h0M38.7 151.5h0M31.5 148.5h0M91.5 150.8h0M100.7 152.5h0M75.6 152.7h0M65.1 153.5h0M43.1 152.8h0M103.8 152.8h0M79.9 154.2h0M102.9 152.4h0M86.2 153.7h0M72.3 151.5h0M44.1 152.2h0M71.4 151.7h0M85.8 152.1h0M38.2 150.8h0M115.9 148h0M32.2 149.4h0M66.1 150.8h0M62.5 152.7h0M96.8 153.6h0M50.3 153.8h0M97.2 153.1h0M77.1 154.4h0M111.3 153.7h0M87.4 152.7h0M105 153.8h0M112.8 150.7h0M83.6 151.4h0M55.8 152h0M37.2 150.1h0M86.1 153.2h0M43.8 151.9h0M79.3 153.3h0M39 150.1h0M71.3 152h0M112.2 152.6h0M118.3 153.7h0M114.1 152.1h0M70.4 153.2h0M95.1 153.2h0M113 153.1h0M118.3 152.9h0M34.8 149h0M87.3 153.4h0M82.3 154.8h0M60.2 149.7h0M83.6 152.9h0M38.3 149.9h0M84 151.4h0M90.6 153h0M111.2 151.6h0M91.8 151.2h0M89.8 152.8h0M39.3 150.8h0M77.5 153.9h0M74.9 150.6h0M92.1 154.1h0M34.7 148.4h0M65.7 153.4h0M61.1 154.1h0M94.2 152.9h0M82.5 153h0M45.7 153.5h0M107.7 153.2h0M43.4 151.6h0M69.9 150.8h0M36.9 150.6h0M94.2 154.3h0M63.8 154h0M61.7 152.9h0M33.1 147.2h0M82.3 154.3h0M109.8 151.9h0M39.1 150.9h0M68.3 153h0M86.2 153.1h0M69.6 153.4h0M72.2 153.6h0M62.6 151h0M61.8 152.6h0M99.1 152.1h0M73.6 153.6h0M83.3 153.3h0M37.3 150.3h0M101.2 151.7h0M60.5 152.5h0M78.3 153.3h0M50.3 148.5h0M36.1 149.9h0M112.8 153h0M42.6 152.4h0M54.9 153.6h0M61.2 153.7h0M73.3 153.4h0M78.7 152.5h0M110.2 152.9h0M39.7 150.8h0M53.4 149.7h0M91.5 152.2h0M88.5 153.4h0M97.7 154.7h0M89.2 152.6h0M100.5 153.4h0M55.4 153.6h0M57.2 152.7h0M57.8 154.1h0M62.8 152.3h0M66.4 150.6h0M112.5 154h0M86.8 150.5h0M84.4 153.6h0M101.4 150.6h0M40.9 152h0M65.9 151.7h0M114.4 153.7h0M109 154.4h0M48.4 152.6h0M88.4 152.9h0M72.9 148.7h0M55.8 152.3h0M67.5 148.5h0M113.6 153.6h0M35.2 148.8h0M93.2 151.3h0M76.4 151.4h0M77.3 152.5h0M32.4 149.4h0M112.6 152.5h0M74.7 152.9h0M35.8 149.2h0M81 150.4h0M79.4 153.4h0M56.4 154.5h0M67 154.4h0M34.6 150.5h0M66.2 153.4h0M94.5 152.8h0M46.3 152.5h0M105.7 154.6h0M110.6 153.2h0M54.5 153h0M39 150.3h0M48.5 153.2h0M105.2 150.5h0M34.8 149.1h0M54.4 153.5h0M112.9 154.5h0M105.2 154.4h0M93.9 153h0M98.6 153h0M38.4 151.2h0M51.1 152.2h0M65.1 150.3h0M92.5 152.4h0M50.8 154h0M118.1 152.1h0M65.3 153.8h0M51.7 151.2h0M89.8 152.1h0M72.4 154.2h0M31 148.9h0M61.9 150.6h0M50.7 151.8h0M70.4 151.7h0M96.7 152.7h0M91.9 152h0M75.6 153h0M111.3 153.9h0M38.7 149.8h0M91.6 151.6h0M42.5 152.3h0M89.6 150.7h0M92.3 154.6h0M99.5 152.4h0M86.6 153.3h0M70.6 154h0M113.9 153.5h0M55 153.8h0M66.1 150.7h0M39.7 150.2h0M114.4 149.8h0M43.1 152.4h0M76.6 153.1h0M117.5 153.5h0M84.9 151.2h0M36.7 148.9h0M110.3 154h0M47.1 148.8h0M83.1 150.2h0M104.5 147.4h0M104 152.5h0M57.4 153.9h0M46.8 152.1h0M75.1 148.7h0M65.4 152.7h0M47 150.4h0M80.6 153.4h0M66 152.8h0M108 154h0M54.2 150.1h0M38.5 150.4h0M35.6 149.3h0M48.6 151.7h0M53.6 152.8h0M89.2 154.3h0M61.9 151.8h0M117.9 151.6h0M89.4 152.5h0M105.3 152.5h0M56.3 154.1h0M59.2 153.4h0M58.9 150.4h0M89.7 151.4h0M63.2 153.2h0M99.1 153.2h0M39.3 150.9h0M71.6 151.5h0M91.1 150.6h0M32.3 148.4h0M48.4 153.8h0M97.1 154.3h0M103.5 154h0M105.7 152h0M103.5 152.4h0M108.5 154.6h0M112.8 149.7h0M114.2 152.9h0M88.9 151.8h0M92.3 152.4h0M64.7 150.5h0M68.9 152.5h0M44.4 151.2h0M108.2 154h0M79.3 154.1h0M83.3 152.3h0M68.3 150.4h0M117.2 150.3h0M75.2 153.2h0M41 151.9h0M76.2 152.6h0M117.8 152.7h0M94.3 154h0M39.4 151.8h0M54.7 152.5h0M107.1 153.3h0M46.7 152.7h0M83.3 154.5h0M57.1 153.7h0M73.9 153.5h0M38.1 150.5h0M86.6 153.1h0M61 152.7h0M32.7 145.3h0M114.1 153.9h0M55 152.6h0M102.7 153.7h0M48.2 153.6h0M79.8 152.2h0M70.7 151.5h0M113.7 153.9h0M66.1 153.9h0M55.4 152.4h0M98.4 154.7h0M78.2 151.9h0M77.2 150.6h0M34.4 150.5h0M52.1 150.9h0M60.1 149.6h0M55.7 154h0M95.5 152.6h0M58.8 152.5h0M30.8 147.1h0M61.7 152.2h0M53.3 153.7h0M92.4 153.9h0M80.7 154h0M114.6 148.3h0M44.7 153.3h0M107.9 153.5h0M68.9 154h0M110.6 154.6h0M49.2 154.1h0M79.2 153.4h0M58.4 153.2h0M113.3 154h0M39 150.9h0M92.1 151.9h0M60.5 151.5h0M50.9 153.8h0M62 154.2h0M58.7 153.3h0M98.7 152.6h0M37.3 151.9h0M86 154.3h0M93.8 152.8h0M49.7 152.9h0M76.3 148.7h0M65.1 152.8h0M109 151.4h0M58.1 153.7h0M67.6 154h0M91.6 149.8h0M78.6 153.4h0M70.7 154.3h0M85.3 154h0M94.3 152.6h0M92.7 153.8h0M78.7 152.4h0M58.8 152.4h0M73.2 154h0M91 150.6h0M45.7 152.3h0M57.5 153.5h0M85.6 154.5h0M93 153.5h0M105.8 152h0M40.1 149.7h0M64.7 152.5h0M117.9 153.7h0M55.4 153.9h0M107.6 154.5h0M53.6 150.9h0M107.3 149.8h0M106.1 152h0M40.6 151.6h0M31.3 145.8h0M74.9 152.8h0M34.3 147.9h0M86.8 151.8h0M60.8 151.2h0M95 152.9h0M105.9 151.9h0M39.9 152.5h0M58.4 153.3h0M68.7 153h0M98.1 154h0M82 151.5h0M31.8 148.9h0M86.9 153.7h0M70.7 154.3h0M85.8 153h0M51.6 153.3h0M31.7 148h0M112.5 151.3h0M110 154.4h0M105.1 154.2h0M56.8 153.5h0M40.7 151.9h0M96.7 150.2h0M111.1 153.7h0M64.1 152.9h0M39.9 152.4h0M94.5 151.5h0M97.8 153h0M37.1 150.3h0M57.1 153.3h0M112.1 152.5h0M95.1 149.6h0M104.6 151.1h0M62.5 151.9h0M82.7 152.5h0M96.5 151h0M84.5 153.8h0M105.2 151.8h0M91.2 150.6h0M93 152h0M107.1 152.2h0M111.7 154h0M66.3 152.2h0M52.3 154h0M34.2 146.5h0M43.1 152.8h0M117.3 153.7h0M63.5 152.1h0M36.2 150.7h0M71.5 147.7h0M94.7 152.6h0M59.5 151.7h0M57.4 152.3h0M53.9 151.4h0M43.6 153.4h0M92.9 152.8h0M31.6 147.2h0M55.5 151.3h0M80.1 152h0M74.6 152.6h0M81.9 153.3h0M58.6 153.7h0M102.9 152.6h0M108.1 152.5h0M112.8 154h0M87 152.3h0M110.4 154.7h0M75.7 153.7h0M79.3 153.9h0M97.1 152.9h0M30.5 147h0M85 154.3h0M102.4 152.6h0M31.9 148.3h0M84.5 152.9h0M44.5 150.5h0M65.8 151.4h0M85.3 152.9h0M93.7 153h0M101.1 154.4h0M69.6 151.7h0M112.2 153.1h0M95.6 153.2h0M63.4 151.3h0M108.3 151.6h0M95 151.2h0M92.6 153.6h0M102.1 151.6h0M67.3 152h0M90.5 153.6h0M86.2 153.4h0M48.2 153.6h0M45.1 153.4h0M57.8 151.6h0M36.7 148.6h0M39.9 151.8h0M44.8 150.7h0M73.1 151.4h0M114.9 153.1h0M96.8 151.1h0M93.4 152.9h0M39.6 143.7h0M65.5 151.2h0M89.6 151.5h0M72.6 152.6h0M96.8 153h0M94.3 151.5h0M99.9 152.5h0M72.2 154.2h0M63 154.3h0M116.6 154.6h0M89.1 153.9h0M112.2 154.5h0M46.3 152.5h0M83.9 153.4h0M63.4 153.7h0M92.9 152.8h0M81 153.9h0M75 153.9h0M83 152.5h0M40.1 151.7h0M113.2 152.7h0M92.6 152.6h0M117.6 152.9h0M113.6 153.8h0M33 149.5h0M55.5 153.6h0M74.2 152.4h0M114 153.3h0M31.1 145.8h0M71.3 154h0M41.4 152.9h0M39.5 146.8h0M71.5 151.5h0M76.8 153.1h0M75.1 153.7h0M98.4 152.7h0M35.5 147.9h0M56.8 152.3h0M71.2 152.1h0M100.2 153h0M114 153.2h0M77.1 153.1h0M36.3 151.2h0M67.5 153.4h0M114.1 153.5h0M117.2 153.7h0M44.3 153.5h0M97.6 153.2h0M67.2 154.5h0M79.4 150.5h0M58 153.2h0M85 152.5h0M57.7 149.8h0M50.7 153h0M41.8 150.7h0M92.1 154.6h0M52.6 152.8h0M96.4 153.1h0M118 151.3h0M35.4 150.5h0M52.6 152.1h0M106.6 154h0M81.1 152.1h0M92.3 151.5h0M112.3 154.1h0M93.1 154.2h0M64.7 153h0M110.9 153.6h0M60.5 152.9h0M114.7 152h0M79.5 150.2h0M49.8 150.5h0M88 152.6h0M53.2 150.6h0M40.2 152.7h0M104.6 154.4h0M84.9 154h0M117.8 150.7h0M62.3 153.2h0M57.7 152.3h0M31.1 146.2h0M83.1 152.2h0M35.5 150.2h0M30.9 146.8h0M86 152.6h0M89.7 151.2h0M73.8 152.3h0M63 153.9h0M105.9 152.5h0M72.8 152.7h0M66.4 152.9h0M102.6 154.5h0M47.5 153.3h0M33.2 147.4h0M98.9 153.6h0M42.6 148.3h0M94.5 152.9h0M81.7 152h0M48.6 151.7h0M47.4 147.3h0M66.9 153h0M76.7 154.1h0M105.2 153.2h0M65.5 152.2h0M64.3 152.3h0M66.8 152.3h0M63 151.7h0M96.5 149.6h0M105.9 154.5h0M86.9 149.3h0M52.9 151.7h0M52.3 153.5h0M31.6 146.8h0M43.1 153.4h0M63.8 154h0M113.1 154.5h0M89.9 154.2h0M106.8 152h0M94.9 151.8h0M112.3 152.8h0M106.6 151.6h0M66.7 153.2h0M55.7 149.8h0M50.5 152.5h0M76.5 152.6h0M60.4 153.8h0M107.5 151.4h0M53.8 152h0M102.7 151.4h0M103.1 152.1h0M101.9 154.3h0M105.6 154.1h0M96.1 151.6h0M115.9 154.4h0M92.2 151.8h0M48.3 153h0M80.3 153.7h0M112.3 152.6h0M86.8 151.3h0M112.4 151h0M94.6 153.2h0M104.4 152h0M75.4 154.3h0M77 153.2h0M105.1 153.7h0M40.8 150.9h0M107.8 148.4h0M95.3 154.4h0M59.9 152.9h0M108.8 154h0M83.1 152.2h0M74.3 151.3h0M107.6 148.9h0M114.9 153.6h0M38.8 151.8h0M91.4 153.9h0M63.9 150.4h0M115.5 147.9h0M85.9 154.5h0M44.6 152.1h0M52.5 153.7h0M58.3 151h0M93.1 153.3h0M77.5 152.1h0M96.5 154.4h0M86.9 153.6h0M72.3 151.8h0M114.5 153.2h0M78.1 152.6h0M50.3 153.4h0M97.8 152.9h0M70.2 154.5h0M107.5 154.1h0M93.3 152.8h0M71.5 151.7h0M114 150.3h0M31.9 146.2h0M57.5 154.6h0M68.3 151.5h0M111.9 153h0M50.7 151.4h0M68.3 152h0M109.9 153.2h0M45 151.7h0M96.9 152.4h0M75.1 153.1h0M82.7 152h0M79.3 152.4h0M117.5 154.4h0M47.9 154.1h0M39.1 151.7h0M94.5 152.4h0M117.2 152.3h0M36.7 150.1h0M87.8 153.2h0M114.3 153.1h0M101.3 153.1h0M103.8 153.5h0M112.7 153h0M61.1 153h0M108.3 152.7h0M36.6 150.4h0M65.8 150.8h0M116.4 152.3h0M47.8 152.1h0M90.2 154.4h0M94.6 153.1h0M49 151.2h0M79.9 152.4h0M49.7 153.2h0M67.8 154.5h0M50.8 154.1h0M102.2 153.1h0M41.8 151.2h0M65.6 153.8h0M45.3 152.5h0M114.7 152.3h0M85.2 153.9h0M81.5 152h0M89.9 153.8h0M82.3 152.4h0M44.8 152.8h0M43.2 151.2h0M110 154.2h0M109.6 152.5h0M68.6 152.8h0M39.8 147.2h0M109.2 153.8h0M95.3 153.3h0M98.2 153h0M60.5 152.1h0M106.9 151.3h0M109.8 154.6h0M51.5 153.7h0M86.7 150.5h0M56.4 151.6h0M116.9 153.6h0M82 150.3h0M99 153.5h0M103 153.5h0M79.4 152.2h0M71.6 154.2h0M70.2 152h0M112 149h0M44.2 152.7h0M115.3 148.5h0M60.1 154.2h0M95.8 152.4h0M81.6 153.7h0M77.4 152.7h0M117.2 152.5h0M43.4 152.1h0M45.3 153.9h0M50.7 150.9h0M100.5 153.1h0M112.7 153.6h0M56.6 152.6h0M51.5 153.5h0M79.1 152h0M40.4 150.8h0M40.8 152.4h0M45.1 150.3h0M86 152.6h0M52.9 153.6h0M33.1 148.9h0M107.1 150.8h0M71.2 151.5h0M59 152.4h0M84.1 153.1h0M43.1 152.9h0M76.6 153.2h0M34.5 150.6h0M76.5 151.6h0M88.7 152.2h0M39.9 152h0M98.7 151.5h0M86.3 154.4h0M69.1 150.9h0M51.2 153h0M62.3 153.9h0M91.6 154.1h0M61.8 152.7h0M90 151.8h0M64.8 150.7h0M117.6 153.5h0M115.5 152.9h0M102.3 151.9h0M58.1 154.5h0M92.3 153.1h0M49.2 151.7h0M50.3 153h0M107.7 151h0M106.3 152.6h0M60.5 151h0M50.6 153.3h0M78.3 153h0M91.7 153h0M92.4 153.1h0M107.7 152.7h0M69.9 151.6h0M104.7 152.9h0M90.4 151.2h0M53 154.5h0M42.4 151.7h0M45.1 153h0M51.5 153.4h0M59.1 152h0M92.1 154.5h0M106.2 153.1h0M94.9 153.8h0M45.6 149.4h0M53.8 151.4h0M60 152.8h0M111.2 153.3h0M45.1 151.5h0M69.6 153.3h0M53.3 153.7h0M111.2 151.7h0M49.4 153.8h0M62.6 154.1h0M88 153.4h0M105.9 150.3h0M112.7 153.1h0M97.4 151.2h0M58.2 152h0M102.7 154.5h0M73.4 153.5h0M114.8 153.5h0M82 150h0M99.1 152.8h0M59.9 152.6h0M36.8 149.9h0M104.7 151.4h0M74.6 151.3h0M105.4 151.8h0M87.5 153.7h0M101.8 151.7h0M42.3 152.7h0M54.1 151.9h0M108.1 153.2h0M53.5 153.3h0M32.2 149.6h0M38.2 150.5h0M54 153.8h0M97.6 151.8h0M93 153h0M89.2 152.7h0M111.5 153h0M103.1 151.5h0M73.4 153.3h0M50.9 153.4h0M46.2 151.5h0M90.5 151.3h0M116.5 153.6h0M98.1 152.9h0M74.7 153.4h0M94.9 153h0M49.8 154.4h0M46.8 153.2h0M78.8 152.2h0M89.5 153h0M107.4 154.8h0M93.8 149.9h0M80.3 153.1h0M97.9 148.7h0M99.2 151.3h0M69.8 153.2h0M110 152.1h0M31.5 148.4h0M111.6 150.2h0M64.1 153.6h0M47.1 153h0M81.7 149.3h0M108.1 144.6h0M43.8 153.5h0M118.1 136.7h0M102.2 98.3h0M112.5 127.3h0M84.4 150.5h0M107.1 121.4h0M117.1 107.7h0M97 146.8h0M105.5 130.7h0M74.4 154.3h0M96.7 151.7h0M115.9 120.2h0M101 142.5h0M117.3 139.5h0M117.4 154.4h0M110.7 148.4h0M94.4 149.9h0M112.5 141.5h0M111 142.6h0M108.7 140.9h0M115.3 125.4h0M80.2 150.3h0M100.8 146h0M118.2 129.4h0M112.5 150.9h0M96.4 152.6h0M97.7 137.1h0M78.2 154.5h0M113.9 153.7h0M118.3 154.5h0M115.6 133.4h0M91.8 148.6h0M106.9 152.2h0M74.9 139.9h0M111.5 153h0M117.2 154h0M118 154.2h0M102.6 154.2h0M74.4 154.4h0M97.3 149.4h0M106.1 151.9h0M117.9 150.2h0M104.5 146.6h0M73.5 153h0M68.1 151.8h0M117.3 150.1h0M117.9 154.9h0M118.2 141.1h0M61 154.6h0M114.1 152.4h0M111.6 154.1h0M117.4 130.4h0M112.2 110h0M97.1 139h0M71.8 151h0M115.9 123.3h0M106.7 153h0M105.5 154.4h0M100.2 148.3h0M106.5 149.5h0M107.4 142h0M108.4 152.8h0M117.5 116.2h0M117.1 140.9h0M115.4 140.2h0M98.4 151.6h0M112.6 139.2h0M85.3 138.4h0M94.4 138.2h0M106.8 133.7h0M104.2 145.8h0M104.3 134.8h0M118.2 108.3h0M108.3 137.6h0M106.2 153.5h0M110.2 145.3h0M96.3 137.3h0M114.7 148.8h0M95.3 139h0M106.8 152.4h0M114.1 126.6h0M116.8 147.3h0M105.6 152.1h0M114.1 150.2h0M99.2 151.3h0M117.3 146.8h0M61.8 151.3h0M91 145.9h0M118.3 153.5h0M65.2 153.1h0M107.9 151.3h0M107.4 148h0M108.6 120.7h0M103.1 151.1h0M114 152.3h0M109.4 136.4h0M103.7 140.1h0M107.1 126.5h0M117.4 132.8h0M111 146.3h0M98 141.2h0M107.4 152.5h0M108.6 151.4h0M83.2 154.5h0M115.7 122.3h0M72.3 154h0M90.1 152h0M111.3 151.2h0M95.7 152.2h0M87.3 152.9h0M103.8 136.6h0M82.5 149.7h0M116.6 132.2h0M108.5 148.6h0M115.1 136h0M115.1 140.6h0M113.5 152.9h0M79.5 129.7h0M95.4 149.9h0M117.3 124.9h0M65.5 154.3h0M97.8 153.7h0M77.9 149.8h0M73.6 151.1h0M81 152.2h0M113.6 116.1h0M89.2 148.8h0M113.6 113.4h0M91.7 147.7h0M62.9 153.8h0M108.8 138.4h0M82.9 153.5h0M116.7 154.8h0M116.8 118.4h0M112.4 126.9h0M109 139.7h0M112.8 141.5h0M86.8 147.7h0M56.4 154.4h0M94.9 151.5h0M42.2 154.7h0M107.8 154.5h0M113.9 149.6h0M102.9 147h0M108.9 149.7h0M102.4 153h0M109 114.5h0M107.2 144.5h0M110.8 136.3h0M105.5 146.6h0M73.5 152.3h0M63.4 145.3h0M94.9 115.5h0M89.7 149.7h0M73.1 154.3h0M114.8 144.2h0M110.8 149.8h0M116.8 150.6h0M112.9 152.1h0M108.8 143.2h0M107.4 151.6h0M92.2 154.5h0M77.3 153.9h0M114.3 154.2h0M91.7 138.6h0M91.8 147.5h0M109.8 150.3h0M116.5 109.6h0M97.5 149.5h0M117.4 123.1h0M102.8 133.6h0M101.8 140.3h0M102.3 122.8h0M106.1 151.8h0M91.7 143.5h0M104.1 150.8h0M105.5 136.8h0M116.1 153.9h0M105.8 153.4h0M107.3 145.2h0M110.8 150.4h0M62.6 153.9h0M105.9 153.6h0M38 151.6h0M100.4 145.6h0M116 100.9h0M95 153.1h0M106.3 153.4h0M109.8 154.3h0M115.7 105.3h0M113 128.6h0M47.1 153.6h0M117.9 145.5h0M106.7 148.5h0M111.2 148.1h0M105.8 136.1h0M117.7 134.8h0M71.4 152.3h0M67.7 153.9h0M115.4 152.1h0M109.4 151.7h0M100.9 124.4h0M102.2 147.8h0M109.4 142.1h0M107.1 133.8h0M91.8 152.6h0M103.2 148.9h0M106.5 130.6h0M105.4 138.1h0M116 133h0M116 152.6h0M84.3 151.5h0M115.9 144.7h0M114 139.6h0M114.8 130.2h0M46.8 154.4h0M117.2 142.1h0M89.9 108.3h0M106.5 149.8h0M46.7 153.6h0M110.6 130.2h0M87.7 154.5h0M99.9 152.2h0M109.3 150.8h0M112.9 138.2h0M115 153.9h0M93.2 152.2h0M107.8 150.1h0M107.2 154.6h0M114.6 136.3h0M112.7 137.7h0M103.8 140.5h0M101.6 146.7h0M107.5 154.3h0M98.3 134h0M89.7 149.5h0M103.5 130.2h0M90.5 153.6h0M114.1 154.8h0M106.5 142.1h0M101.3 123.9h0M100.6 153.1h0M110.1 151h0M80.3 148h0M70.8 154.7h0M102.8 141.4h0M103.3 154.4h0M85 153h0M47.7 153.6h0M111.1 137.5h0M117.4 137.9h0M92.6 151.1h0M107 137.2h0M103.3 147.9h0M89.6 140.8h0M110.7 145.3h0M72.2 153.3h0M117.7 149h0M117.5 148.1h0M116.9 149.8h0M89.2 154.1h0M78.2 154.3h0M99.5 135.6h0M118.1 153.4h0M110.8 149.1h0M103 153.8h0M105.4 154.3h0M109 143.8h0M84.8 150.9h0M112.7 140.9h0M112 151.9h0M81.9 152.6h0M96.5 150.9h0M117.3 99.3h0M102 148h0M103.7 150.2h0M115.7 129.2h0M107.8 149.8h0M98.1 137.5h0M43.1 153.8h0M68.8 154.3h0M107.1 150.7h0M110.2 144.5h0M99.4 146.3h0M97.8 150.9h0M103.7 149.7h0M116.2 123.9h0M102 152h0M79 150.8h0M99.3 127.9h0M112 144h0M98.7 151.9h0M116.4 152.4h0M114.1 117.9h0M103.8 141.8h0M99.8 149.7h0M87.8 148.6h0M90.3 146.9h0M100.3 153.1h0M87.2 154.8h0M116.1 149.1h0M85.7 142.8h0M116.2 135.9h0M97.1 134.5h0M55.3 153.5h0M108.1 145.4h0M103 151.7h0M95 154.9h0M67.9 154.9h0M107.1 141.1h0M117.3 154.3h0M111.5 153.9h0M110.9 136.3h0M104 152.8h0M106.6 152.7h0M105.3 151.3h0M77.1 152.6h0M111.9 154h0M72.5 154.3h0M94.3 154.8h0M94.5 145.3h0M104.7 153.5h0M112.8 150.3h0M115.5 145.8h0M104.6 149.7h0M108.2 151.9h0M116.9 134.8h0M113.2 147.8h0M107.1 151.8h0M114.1 137h0M109.2 154h0M88.3 145.6h0M115.7 151.8h0M110 122.4h0M116.9 142.3h0M109.9 128h0M116.6 133.3h0M116.9 135.3h0M83.6 148.6h0M98.8 135.8h0M44.7 154.1h0M118.3 143.9h0M86.1 154.5h0M106.5 148.4h0M104.1 115.3h0M100 141.2h0M116.1 117.6h0M93.1 113.9h0M112.7 132.9h0M102.7 151.8h0M109.2 139.8h0M110.3 151.3h0M111.2 149h0M80.3 150.4h0M96.5 154.6h0M49.6 153.2h0M73.1 153.1h0M113.5 130.1h0M107.6 109h0M93.7 152.2h0M103.4 151.8h0M84.6 153.6h0M115.4 107.2h0M109.6 150h0M84.2 134.7h0M112.5 127h0M100.3 149.5h0M112.2 145.7h0M100.3 148.4h0M110.3 148h0M112.2 153.6h0M81.2 153.1h0M82.4 145.2h0M93.2 141.6h0M99.5 152.5h0M100.4 144.5h0M103.4 145h0M110.1 138.3h0M113.4 150.7h0M61.7 154h0M72.6 152.6h0M89.3 138.4h0M68.8 154.4h0M107.6 129.9h0M42.7 153.7h0M95 149.7h0M98.6 152.8h0M106.2 154.3h0M111.3 147.6h0M100.5 141.4h0M111.9 154.8h0M91.5 151.4h0M117.1 153.9h0M103.2 149.5h0M113.4 149.3h0M81.2 153.2h0M60.8 151.7h0M93.4 121.7h0M64.3 152.8h0M89.9 152h0M70.2 153.2h0M98 121.6h0M71.2 152.8h0M105 154.2h0M110.7 112.4h0M106 141h0M114.2 129.4h0M63.8 154.3h0M111.5 147.8h0M118.1 123.8h0M79.1 148h0M109.6 148.5h0M111.3 139.2h0M100.1 150.1h0M98.4 136h0M66.2 152.7h0M108.3 152.1h0M116.4 126.8h0M105.9 143.2h0M100.1 147.2h0M99.1 152.3h0M98.2 150.3h0M106.7 137.9h0M93.6 153.6h0M106.4 151.5h0M99.7 144.1h0M115.7 102h0M112 126.8h0M84.9 139.8h0M70.7 152.3h0M97.1 130.9h0M102.4 133.5h0M108.9 148.9h0M64.1 154.2h0M95.5 150.1h0M84.4 150.3h0M115.5 107.4h0M107 149.1h0M70.6 153.2h0M79.2 151.3h0M99.2 150.8h0M65 147.8h0M78.5 144.1h0M107.4 154.6h0M112 148.7h0M56.6 146.2h0M92.6 151.3h0M97.3 146.4h0M68.8 154.3h0M110.2 148.3h0M102 149.4h0M107.3 130.4h0M107.9 138.6h0M117.7 151.3h0M106.3 153.9h0M74.4 151.8h0M111.6 142.9h0M117.4 144.2h0M71.1 149.7h0M98.4 144h0M115.2 151.7h0M81.6 149.1h0M97.4 148.6h0M99.3 139.1h0M116.7 146.2h0M107.9 136.3h0M112.6 149.6h0M104.9 141.5h0M86.2 145.9h0M93.5 154.3h0M116.2 136.7h0M66.6 151.6h0M71.7 152.6h0M69.7 154.5h0M110.1 149.4h0M42.8 151.7h0M101.3 153h0M59.9 154.5h0M106.2 153.6h0M108.9 147.9h0M90.6 154.1h0M106.6 148.4h0M112.7 154.2h0M115.2 149.5h0M109.5 143h0M117 145.6h0M86.9 143.8h0M117.7 139.8h0M104 152.9h0M117.4 154.1h0M104.1 153.4h0M86.2 154.8h0M101.7 152.7h0M116.4 146h0M104.4 151.7h0M114.6 137.7h0M107.1 152.9h0M112 126.3h0M64.2 152.8h0M103.3 132.4h0M118.3 125.1h0M95.2 141.8h0M53.8 150.7h0M108.9 112.5h0M83.8 148.6h0M98.5 149h0M106.3 113.5h0M79 153.8h0M117.2 151.1h0M109.8 134.2h0M91.8 144.3h0M92.5 154.7h0M115.1 123.4h0M98.2 143h0M52.4 151.6h0M116.1 149.9h0M93.7 151.1h0M115.3 154.2h0M104.8 151h0M112.6 151.5h0M101 139.7h0M94.8 129.1h0M105.7 113.5h0M115.8 149.9h0M78.8 148.2h0M108.3 136.2h0M74.5 154.7h0M110.9 113.1h0M118 154.8h0M117.9 139.5h0M115 147.7h0M117.3 139.8h0M100.8 144.3h0M115 142.8h0M116 99.7h0M116.3 141.8h0M104.8 154.7h0M61.8 154.8h0M105.7 138.6h0M111.9 143h0M114.8 152h0M59.2 146.4h0M116.3 135.7h0M113.8 144.3h0M91 154.7h0M115.5 139.3h0M108.1 129.1h0M58.4 146.1h0M105 149.6h0M96.7 151.5h0M112.4 150.4h0M117.4 115.5h0M103.4 141.1h0M95.7 148.4h0M113.2 151.3h0M106.4 148.5h0M116.4 153.5h0M118.3 138.2h0M102.3 150.5h0M102.3 154.3h0M117.7 153.9h0M114.4 104.2h0M101.1 141.3h0M103.2 144.6h0M67.7 152.2h0M69.7 154.1h0M94.2 152.8h0M104 147.2h0M116.9 144.5h0M79 147.4h0M114.8 148h0M104.5 143.6h0M97.4 144h0M82.3 142.3h0M95.8 139h0M114.6 152.8h0M77.5 146.4h0M110.3 154h0M112.2 153h0M109.8 147.2h0M85.3 151.5h0M105.4 150.5h0M111 151.3h0M100 149.6h0M104.8 147.4h0M114.1 142.3h0M105.2 144.4h0M113.7 154.6h0M112 128.3h0M114.6 144.8h0M85.9 153h0M109.7 149.3h0M67.2 149.3h0M111.3 152.7h0M95.6 148.1h0M109.5 140.9h0M84.5 152.3h0M107.9 150.9h0M75.4 154.3h0M102 135.4h0M114.6 140.6h0M95.6 146.4h0M109.5 133.9h0M118.3 149.4h0M110.4 133.2h0M73.3 154.9h0M108.1 147.9h0M117.6 153.6h0M94.9 148h0M114.2 116.8h0M113.3 131.9h0M106.2 151.2h0M112.2 143.8h0M117.9 149.4h0M110.2 151.6h0M78.1 147.5h0M106.5 143.8h0M95.6 128.2h0M78.4 149.7h0M74.6 150.8h0M110.7 151.2h0M108.9 152.9h0M115.8 154.7h0M100.2 152.3h0M96 153h0M113.7 147.9h0M105.1 151.1h0M118.2 147.5h0M117.4 147.8h0M117.6 134.7h0M101.2 145.6h0M115 140.9h0M62 152.9h0M96.1 141.9h0M102 137.2h0M57.7 154.7h0M80.8 147.2h0M64.2 148.9h0M97.6 151.8h0M85.1 151.9h0M105.8 148.8h0M89.6 138.3h0M97.7 151.4h0M114.9 131.7h0M70.3 153.7h0M114.3 141.7h0M91 150.8h0M118.2 152.7h0M106.7 152.9h0M114.7 132.5h0M115.9 147.6h0M104.8 152.4h0M114.5 153.2h0M109.6 151.8h0M90.2 154.5h0M116.2 144h0M112.5 143.4h0M91.7 139.8h0M105.2 153.1h0M77.1 148.7h0M89.5 151.1h0M87.8 149.3h0M85.5 152.9h0M92.3 143.9h0M94.8 148.6h0M116.5 152.3h0M113.7 147.8h0M114.3 152.6h0M96.8 152.3h0M112.9 142.9h0M97.6 153.9h0M103.6 153.1h0M101.4 112.5h0M84.1 149.6h0M117.6 145.7h0M97.6 152.6h0M116.2 125.7h0M72.9 153.8h0M111.8 136.1h0M102 149.2h0M104.9 154.6h0M93.5 153.8h0M101.1 140.5h0M108.7 132.2h0M60.9 154.2h0M104.9 143.9h0M79.6 154.9h0M115.3 121.5h0M114 135.4h0M111.9 109.6h0M103.4 145.6h0M92.8 151.3h0M62.2 153.4h0M105.7 151.3h0M111.9 151.8h0M103.7 146h0M106.8 142.2h0M106.4 147h0M115.2 143h0M104.4 122.7h0M91.8 137.2h0M87.7 128.8h0M99.5 143.1h0M99.6 151h0M106.3 152.1h0M100.4 140.3h0M81.4 153.5h0M105.6 138.4h0M111 141.2h0M85 153.5h0M97.1 148.7h0M101.9 150.1h0M102.8 152.9h0M105.6 146.8h0M85.7 150.6h0M88.8 132.7h0M115.5 139.5h0M49 153.4h0M112.3 137h0M95.1 150.1h0M87.8 151.9h0M112 143.3h0M84 149.2h0M89.8 143.7h0M108.1 141.3h0M102 152.7h0M115.7 154.2h0M117.2 140.9h0M116.4 113h0M111.8 135.3h0M107.7 123.4h0M91.2 131.3h0M97.5 149.8h0M96 148.7h0M109 150.4h0M114.7 143.3h0M94.3 136.8h0M86.4 150.5h0M92.4 147h0M48.3 154.3h0M82.4 154.6h0M99.8 144.5h0M87.9 150.9h0M115.5 136.3h0M118.3 123.7h0M111.4 142.1h0M90.8 148.1h0M113.8 142.4h0M109 144.9h0M103.6 133.3h0M117 148h0M99.3 120.1h0M114 150.1h0M79.5 144.4h0M89 153.5h0M115.1 92.6h0M117.6 137.4h0M84.8 134.4h0M116.9 126.6h0M94.6 135.6h0M111.3 128.4h0M116.8 140.2h0M113.6 150.2h0M95.6 138h0M111 151.9h0M114.5 150.6h0M100.4 150.2h0M64.7 154.1h0M85.6 153.1h0M112.1 147.7h0M62.3 151.7h0M118 123.5h0M116.9 146.7h0M108.8 143h0M116.6 126.6h0M106.6 129.2h0M112.4 119.3h0M83.7 147.1h0M115 150.2h0M98.4 150.6h0M81.1 148.2h0M113 149.9h0M117.1 152.5h0M112.2 142.9h0M89.3 142.4h0M98.4 153.6h0M118.3 138.6h0M109.8 146.3h0M67.4 147.2h0M104.8 153.4h0M87.8 152.8h0M102.6 154.8h0M112.9 108h0M88.1 154h0M108 145.4h0M101.7 145.8h0M96.9 140.3h0M76.9 151h0M106.9 139.7h0M113 153.9h0M102.2 151h0M111.1 139.9h0M92.9 151h0M80.9 153.7h0M108.9 134.6h0M115.3 120.6h0M113.8 148.1h0M115.9 151.5h0M110.7 148.4h0M114.3 145.1h0M117.3 141.4h0M116.5 150.2h0M114.1 124.3h0M108.5 147h0M94.8 151.2h0M91.3 153h0M115.4 140.6h0M88.5 149h0M101.9 133.9h0M113.5 151.4h0M99.3 137.2h0M110.6 147.8h0M112 150.9h0M77.9 154.8h0M96.9 154.3h0M116.9 151.2h0M108.7 141.8h0M112.5 153.6h0M106.6 143.8h0M77.8 152.9h0M113.2 144.4h0M73.1 153.8h0M109.2 129.4h0M99.6 137h0M92.2 143.1h0M108.6 137h0M76.3 152.5h0M66.2 151h0M108.5 134.9h0M89.6 152.1h0M95.8 152h0M116.1 154.8h0M113.4 115.6h0M113 144.7h0M117.6 152.3h0M102.9 152.1h0M68.9 154.2h0M79.2 151.5h0M108.7 148.9h0M117.8 103.2h0M93.3 130.7h0M111.9 143.2h0M109.2 153.9h0M106.1 152.9h0M88.2 152.1h0M87.2 115h0M107.5 151.6h0M82.8 154.6h0M102.3 152.5h0M117.6 107.3h0M93 144h0M90.2 118.1h0M116.4 145.6h0M110.7 149.4h0M70.9 152.1h0M98.9 154.7h0M97.4 153.9h0M91.6 112.1h0M81.9 143.6h0M118.1 144.6h0M103 149.5h0M106.2 151.6h0M71.5 153.4h0M75.6 150.1h0M117.7 141.5h0M102.7 142.2h0M114.9 129.8h0M115.8 132.6h0M80 149.4h0M98 135.3h0M117.3 145.8h0M113.4 127.6h0M113.7 148.3h0M94.9 154.2h0M117.4 151.3h0M112.9 149.5h0M110.3 116.2h0M117.1 121.7h0M92.3 150.9h0M101.3 152.5h0M108.2 150.9h0M97.6 154.6h0M105.4 134.7h0M66 154h0M103.4 128.2h0M112.8 111h0M113.2 152.2h0M115.3 148h0M98.7 132.8h0M116.6 121.2h0M101.2 147.6h0M110.4 145.8h0M112.8 150.5h0M109.8 132.4h0M115.4 122.1h0M114.7 149.6h0M108 126h0M80.3 142.7h0M111.4 148.3h0M118 149.3h0M113.1 150.7h0M110.3 151.4h0M118.3 141.7h0M109.3 150.7h0M69.2 152.9h0M96.5 151.4h0M102.3 141.6h0M117.3 147.4h0M99.1 152.5h0M102.4 137.4h0M116.6 154.3h0M95.8 154.6h0M80.4 152h0M96.1 90.8h0M107.4 143.4h0M104 152.8h0M115.7 102.2h0M110.8 139.7h0M113.3 144.7h0M106.9 140.8h0M86.7 130.1h0M67.6 154.3h0M118.2 154.2h0M104.3 154.2h0M113.1 152h0M115 151.6h0M112.1 112h0M108.4 149.9h0M113.6 144.6h0M88.4 145.5h0M93.3 148.2h0M110.4 149.6h0M105.7 131.2h0M84.3 153.6h0M111.1 151.8h0M113 113.9h0M116.7 95.1h0M111.7 145h0M112.4 148.9h0M116 129.8h0M79.9 136.2h0M111.9 149.8h0M105.9 149.9h0M118 130.9h0M108.7 136.3h0M96.8 151h0M114.1 124.3h0M95 139.8h0M113.5 146.4h0M99.8 154.9h0M117 153.3h0M108.2 146.7h0M82.2 149.3h0M109.6 149h0M115.8 133.2h0M115.8 138.8h0M100.5 126.3h0M112.4 154.4h0M113 150.7h0M114.3 152.4h0M100.4 141.9h0M61 150h0M116.8 129.6h0M111.2 154.4h0M114 113.6h0M112.6 147.5h0M103.6 149h0M97.7 143.1h0M117 132.2h0M115.8 122.9h0M111.2 154.4h0M107.4 152.4h0M105.2 154.1h0M86.2 146h0M103.5 143.1h0M100.4 118.2h0M54.6 154.5h0M115.7 124h0M117.4 90.3h0M116.4 145.5h0M107.3 150.4h0M102.3 142.9h0M96.1 136.6h0M108.7 141.9h0M95.4 145.6h0M53.8 153.3h0M101.7 152.8h0M106.6 145.5h0M116 152.6h0M111.1 149.1h0M36.5 144.5h0M31.1 147.5h0M31.7 145.7h0M31.7 130.2h0M39.5 146.1h0M36.8 144.6h0M32.8 136.1h0M31.1 123.8h0M33.8 147.9h0M36 147.9h0M31.9 137.7h0M37.7 149h0M35.8 144.7h0M43.6 148.4h0M34.4 149.4h0M30.7 134.4h0M39 150.8h0M41.9 148.9h0M37.1 146.6h0M32.7 128.5h0M34.4 138.6h0M41.7 145.4h0M30.9 144.4h0M34.4 145h0M35.1 146h0M34.4 148.3h0M39.6 149.1h0M32.7 145.1h0M36.1 148.3h0M31.8 148.5h0M41.4 151.4h0M40.5 148h0M40.2 143.8h0M31.4 145.6h0M32.4 144.2h0M35 144.6h0M31.5 148.2h0M31.9 122.1h0M33.3 148.5h0M35.9 150.3h0M44.1 137.5h0M33.3 149.3h0M30.9 138.6h0M31 146.6h0M39.3 150.2h0M34.9 148.3h0M31 146.1h0M39.2 151.1h0M35 146.3h0M39 148.8h0M32.6 148.6h0M34.1 149.2h0M36.1 149.6h0M34.5 145.3h0M35 143.1h0M33.1 144h0M31.8 146.4h0M33.4 145.7h0M35.2 143.6h0M36.8 148.4h0M31.4 138.3h0M36.5 149.8h0M32.7 145.8h0M41.2 145h0M31.4 143.3h0M31.3 137.9h0M41.6 145.8h0M31.3 143.4h0M31.3 143.4h0M31.8 138.2h0M39.1 148.4h0M31.3 147.9h0M37.3 146h0M39.1 150.3h0M31.4 130h0M31.9 143.1h0M35.2 149.7h0M35.9 145.4h0M31.4 143h0M32.2 136.5h0M30.9 122.3h0M36 146.5h0M33 146.2h0M34.7 149.1h0M32.6 137.9h0M32.9 143.8h0M31 137.8h0M36.2 138.5h0M35.7 149.3h0M30.9 147.5h0M30.7 142.2h0M31.2 138.3h0M35 147.1h0M31.4 141.1h0M35.9 132.5h0M35.6 146h0M34.2 147.6h0M32 139.5h0M31.4 142.5h0M31.3 144.6h0M38.5 142.1h0M32.9 148.5h0M33.8 146.7h0M43 151.9h0M31.7 146.8h0M36.5 130.4h0M34.1 133h0M30.8 147.1h0M36.7 145.4h0M36.8 143.9h0M33.9 146.4h0M37.7 146.1h0M35.7 145.1h0M35.9 147.5h0M30.5 145.9h0M37.6 149.2h0M41.7 145.1h0M31.3 137.8h0M31 134.9h0M35.6 145.2h0M36 144.9h0M41.4 141.4h0M36.3 143.6h0M38.9 148.9h0M31.1 140.9h0M45.1 150.3h0M30.7 139h0M39 142h0M35.9 144.3h0M33.9 145.4h0M38.1 148.3h0M31.2 138.1h0M38 146.5h0M35.1 149.3h0M41 136.5h0M44.9 147.7h0M36.3 150h0M34.1 142.3h0M35.1 149.9h0M36.3 144.6h0M37.5 149.8h0M35.5 149.6h0M34.3 139.9h0M36.6 150.1h0M36.7 149.8h0M30.9 145.7h0M31 147.6h0M37 141.2h0M38.3 150.4h0M35.3 128.4h0M32.4 143.9h0M30.7 146.1h0M38.7 150.1h0M33.6 144.8h0M30.9 148h0M34.2 148.1h0M36.5 143.7h0M42.1 137.5h0M32.7 145.3h0M40.2 150.1h0M43.5 152.4h0M32.2 148.3h0M31.9 145.9h0M31.8 139.4h0M34.9 146.7h0M34.1 140.9h0M38.9 137.7h0M36.6 149.5h0M33.6 145.9h0M33.5 145.9h0M36.1 147.9h0M34.4 144.9h0M31.3 148.2h0M41.2 152h0M35.4 149.4h0M32 143.8h0M43.6 145.1h0M41 137.8h0M33.2 145.1h0M37.3 146.9h0M32.1 140.2h0M43.5 151h0M36.6 149.2h0M32 133.5h0M33.5 145.8h0M38.1 146.7h0M36.1 143h0M34.6 144.4h0M32.8 139.7h0M34 139.5h0M35.3 146.7h0M31.3 140.1h0M32.4 148.7h0M33.6 140.8h0M39 138.2h0M34.5 142.7h0M36.4 150h0M34.1 143h0M31.7 148.2h0M31.1 144.9h0M41.9 146.1h0M40.6 142.9h0M31.6 137.7h0M32.5 144.3h0M34.1 149.6h0M30.7 147.4h0M37 147.5h0M31.7 146.2h0M36.6 145.5h0M37.4 149.3h0M45.3 145.8h0M31 139.3h0M32.5 139.3h0M30.7 139.4h0M36.1 142.3h0M30.5 147h0M36.2 150h0M36.2 144.6h0M32.3 143.2h0M33.3 116.1h0M36 143.4h0M32.8 147h0M36.3 149.3h0M36.9 142.4h0M32.6 146.3h0M38 146.7h0M35.5 148.8h0M37.5 149.9h0M31.2 137.9h0M32.8 142.1h0M39.2 142.8h0M34.5 146.1h0M38.3 142.5h0M34.5 149h0M32.1 148.4h0M31.7 145.9h0M37.6 149.9h0M30.8 144.1h0M36.7 131.9h0M35.6 147.7h0M40 144.4h0M33.4 149.1h0M35.2 147.2h0M37.9 150.5h0M36.9 149.9h0M31.1 142.5h0M37 139.5h0M39.9 139.3h0M31.5 140h0M34 148.4h0M31.6 141.9h0M42.9 148.9h0M37.5 150.6h0M32.8 136h0M35.7 149.9h0M35.3 141.8h0M35.8 148.5h0M32.2 139.7h0M32.1 132.5h0M30.4 113.8h0M30.4 110.1h0M34.3 143.6h0M32.7 121.1h0M35.1 147.7h0M31.8 126.7h0M31.1 111.4h0M32.1 126.7h0M30.4 124.2h0M31.6 123.2h0M34 141.2h0M32.4 134.6h0M33.3 133.7h0M31.6 128.9h0M31.3 103.3h0M35.9 106.2h0M30.7 91.1h0M33.7 125.4h0M38.2 114.7h0M30.7 90.1h0M36.6 126.9h0M32.7 110.1h0M31.8 108.4h0M110.2 135h0M103.4 132.4h0M105.4 125h0M72.3 138.5h0M103.2 103.6h0M59.9 96.9h0M71.7 138.5h0M68.3 139.1h0M88.6 129.4h0M113 130h0M102.5 140.2h0M79.8 126.6h0M84 129.4h0M78.5 138.3h0M89.9 111.3h0M94.4 139.1h0M107.1 135.4h0M49.6 131h0M66.5 140.6h0M78.1 127.6h0M83.2 137.1h0M69 133.9h0M106.3 129.3h0M114.9 136.6h0M113.2 138h0M93.4 120.6h0M93.8 119.3h0M110.1 138.5h0M104.7 136.3h0M117.3 133.9h0M78.1 132h0M66 100.4h0M105 138.2h0M102.5 129.6h0M69.4 128.2h0M96.4 123.4h0M81.1 124.2h0M59.4 121.6h0M89.5 141.5h0M83.9 115.3h0M110.4 122.4h0M117 95.9h0M92.6 131.7h0M71.1 132.6h0M74 134h0M79.7 130.9h0M93.7 119.3h0M101.1 127.3h0M102 115h0M67.1 128.4h0M40 114.7h0M67 138h0M109 139h0M40.1 141h0M81.4 139.6h0M35.1 125.5h0M41.1 103.8h0M62.8 135.3h0M30 2.2h0M31.3 2.2h0M32.6 2.2h0M33.8 2.2h0M35.1 2.2h0M36.4 2.2h0M37.6 2.2h0M38.9 2.2h0M40.1 2.2h0M41.4 2.2h0M42.7 2.2h0M43.9 2.2h0M45.2 2.2h0M46.4 2.2h0M48.9 2.2h0M52.1 2.2h0M55 2.2h0M67.7 2.2h0M71.4 2.2h0M74.6 2.2h0M81.5 2.2h0M82.5 2.2h0M83.4 2.2h0M85.5 2.2h0M86.9 2.2h0M88.3 2.2h0M93.6 2.2h0M98 2.2h0M99.2 2.2h0M100.5 2.2h0M101.7 2.2h0M103 2.2h0M111.5 2.2h0M112.7 2.2h0M114 2.2h0M115.2 2.2h0M116.4 2.2h0M117.6 2.2h0M44.8 22.1h0M76.2 22.1h0M85.8 22.1h0M93.1 22.1h0M95.5 22.1h0M96.9 22.1h0M98.2 22.1h0M99.5 22.1h0M109.1 22.1h0M32.8 42h0M36.4 42h0M58.5 42h0M65.7 42h0M87.3 42h0M97.7 42h0M100.9 42h0M112.7 42h0M113.9 42h0M90.2 54.2h0M103.3 54.2h0M104.5 54.2h0M105.7 54.2h0M108.1 54.2h0M110.5 54.2h0M116.1 54.2h0M106.7 61.3h0M110 61.3h0M115 61.3h0M40.8 68.6h0M77.1 68.6h0M97.5 68.6h0M103.8 68.6h0M42.4 73.6h0M56.9 73.6h0M94.5 73.6h0M101.8 73.6h0M63.8 77.9h0M77.3 77.9h0M104.9 77.9h0M106.5 77.9h0M112.9 77.9h0M48.5 81.9h0M74.1 81.9h0M79.3 81.9h0M83.3 81.9h0M90.5 81.9h0M106.5 81.9h0M110.5 81.9h0M112.9 81.9h0M68.1 85.2h0M98.1 85.2h0M103.3 85.2h0M109.7 85.2h0M112.9 85.2h0M116.9 85.2h0" stroke="#00F000" stroke-width="1.9" stroke-linecap="round" fill="none"/>
<path d="M163.4 153.3h0M139.9 152.1h0M220.4 148h0M184 154.1h0M171.2 152.6h0M145.8 151.8h0M171.2 150.6h0M208.8 152.9h0M161.9 153.1h0M182.4 152h0M201.8 152.4h0M154.6 154.3h0M139.5 153.7h0M169.4 152.4h0M166.6 154h0M151 154.3h0M189.6 152.8h0M153.9 152.6h0M167.7 153.4h0M158.4 152.6h0M183.7 153.2h0M219.2 148.5h0M152.2 154h0M148.6 149.7h0M176 152.2h0M193.8 153.6h0M165.6 153.4h0M148.1 152.4h0M215.3 148.1h0M181.1 154.6h0M151.7 153.8h0M168.7 151.4h0M190 150.9h0M182.5 151.6h0M167.5 154.2h0M149.1 152.2h0M136.5 152.4h0M220.8 146.3h0M173.4 153.1h0M165.8 154.3h0M196.5 151.4h0M134.9 153.4h0M166.6 154.4h0M167 153.5h0M192.6 152.7h0M169.1 152.4h0M145.3 152.7h0M222.2 146.5h0M178.9 151.2h0M183.7 154.1h0M169.8 152.6h0M176.1 152.9h0M161.2 152.4h0M217.4 149.8h0M135.2 154.3h0M140.9 153.4h0M144.6 153.4h0M212.5 150.5h0M143 153.9h0M196.8 154.1h0M171.7 152.9h0M134.9 152.9h0M168.6 150.9h0M155.5 147h0M213.1 150h0M180.8 154h0M206.6 151.3h0M180 147.3h0M212.6 151h0M192.4 153.6h0M154.9 151.8h0M203.8 152.7h0M172.7 153.3h0M173 153h0M208.3 151.2h0M205.4 151.7h0M156.1 151.1h0M193.6 151.7h0M140.2 153h0M152.4 150.4h0M200.3 153.5h0M143.4 154.3h0M181.3 152.7h0M154.3 151.4h0M153.5 151.7h0M201.4 153.1h0M195.9 149.6h0M176.8 152.7h0M180.5 153.2h0M203.6 153.8h0M190.1 153.5h0M173.4 153.6h0M183 152.7h0M212.9 151.8h0M169.7 152.6h0M166.2 154.7h0M193.2 154.4h0M142 154.3h0M150.7 152.9h0M175.6 151.4h0M171.2 154.7h0M169.4 153.9h0M149.4 153.6h0M218.4 150.1h0M189.2 154h0M165 153.4h0M182.2 152.1h0M199.6 153.1h0M158.4 152.7h0M148.4 153.8h0M206.2 153h0M181.7 154.3h0M149.2 154.8h0M191.2 153.5h0M168.3 152.4h0M177 153.2h0M154.7 153h0M206.4 149.9h0M135.9 152.7h0M166.8 151.1h0M151.9 151.5h0M203.1 154.3h0M177.5 153.4h0M191.6 149.6h0M201.5 153.3h0M149.5 153.9h0M175.1 154.5h0M195 151.4h0M166.6 149.8h0M218.7 150.6h0M182.1 153.6h0M147.2 152.8h0M172.5 151.2h0M167.6 152.2h0M216 149.8h0M157 151.1h0M153.9 148.9h0M162.8 150.2h0M190 151.9h0M214.7 149.8h0M209.4 151.7h0M214.4 151.3h0M178.9 153.3h0M205.1 153.2h0M167.4 154.2h0M153.5 153.1h0M210.8 152.8h0M216.3 149.6h0M152.6 151.2h0M181.5 153.3h0M159.6 152.6h0M148.4 153.2h0M218.5 150.8h0M146 151.1h0M160.6 153.3h0M154 151.6h0M158.3 151.3h0M149 154h0M175.5 152.2h0M202 153.7h0M153.1 152.7h0M185.2 153.8h0M137 153.6h0M163.1 153h0M161.7 150.7h0M197.4 151.2h0M170.9 152h0M160.6 152.2h0M142.5 153.2h0M187.8 154.7h0M151.5 152.9h0M168.1 152.4h0M204.2 151.2h0M193.1 152.3h0M191.5 151.9h0M182.4 153.5h0M145.7 154h0M151.8 149.9h0M164 153.7h0M134.7 152.2h0M211.8 150.2h0M147.2 151.4h0M165.8 153.5h0M199 153.5h0M204.3 153.5h0M205.4 150.2h0M165.3 153.5h0M172.5 153.3h0M172.7 153h0M163.3 154.2h0M197 152.9h0M145.7 152.7h0M194.1 154.7h0M182 151.7h0M166.5 154.2h0M219.3 148.1h0M162.5 152.9h0M161.1 152.2h0M185.6 152.8h0M220.7 146.9h0M217.8 147.9h0M175.9 153.9h0M140.6 152.7h0M220.5 148.4h0M220.2 148.6h0M209.9 150.1h0M147 154.2h0M199.8 153.6h0M137.4 154.3h0M144.2 150.9h0M153.4 151.6h0M165.2 152.8h0M176.2 151.5h0M181.3 151.6h0M201.9 153.1h0M135.7 149.8h0M214.3 152h0M208.8 152.9h0M220.4 147.2h0M174.2 151.1h0M177.1 152h0M184.5 154h0M213.6 151.2h0M158.6 153.6h0M149.2 154.4h0M169.9 151.4h0M142 154.5h0M170.8 153.7h0M184.8 151.1h0M172.3 154.4h0M189.7 154.2h0M182.3 153.3h0M142.1 154h0M217.6 151.1h0M187.5 153h0M173.5 153.3h0M134.9 152.8h0M170.9 153.3h0M142 150.4h0M188 147.3h0M175.6 150.6h0M199 150.5h0M155.1 154.4h0M156.6 152.3h0M222 147.5h0M190.1 153.9h0M188 154h0M153.1 152.8h0M164.2 154h0M184.5 154.1h0M169.2 152.4h0M219.6 148.5h0M142.4 152.8h0M202 154.3h0M196.2 150.9h0M163 152.7h0M195.7 151.4h0M200.4 150.4h0M138.9 153.2h0M193.4 153.7h0M157.6 153.8h0M190.9 153h0M196 152.8h0M196.3 154.1h0M167.5 153.7h0M212.2 150.7h0M182.7 151.6h0M194.5 152.4h0M206.4 153.4h0M168.4 153.2h0M156.8 154.2h0M160.2 154.5h0M161.1 153.5h0M184.7 148.7h0M148.5 154.7h0M206.9 152.6h0M147.3 154h0M196.6 147.1h0M147.5 153.8h0M147.8 153.8h0M180.2 153.7h0M192.7 152.2h0M169.6 152.2h0M151.3 151h0M159.3 153.5h0M172.3 153.9h0M161.4 151.5h0M171.7 151.1h0M171.7 153.2h0M162.3 153.8h0M178.8 151h0M203.2 152.7h0M138.6 153.7h0M143.2 154h0M178.1 150.2h0M196.1 151.2h0M218.9 143h0M195.7 154.1h0M193.4 152.7h0M193.5 152.9h0M167.6 153.6h0M211.6 151.5h0M138.2 154.2h0M195.5 153.7h0M159.8 153.7h0M195.9 153.3h0M196.3 154.3h0M197.8 151.7h0M180.6 152.1h0M217.8 150.1h0M199.1 154.6h0M143.5 154.3h0M154.8 152.6h0M190.3 152h0M143.4 153.7h0M219.7 143.4h0M160.7 153.3h0M158.4 153.5h0M135.2 153.5h0M140.6 151.7h0M166.1 151.2h0M140.5 153.5h0M194.6 153.4h0M166.6 151.5h0M220.2 148.8h0M188.7 154.3h0M170.7 154.6h0M195.9 151.5h0M134.8 151.8h0M188.8 154.3h0M166.8 152.1h0M149.4 152h0M195 154.7h0M182.1 152.4h0M195.7 151.6h0M164.1 153.1h0M181.5 153.3h0M203.9 153.7h0M219.2 148.2h0M216.3 147.6h0M137.1 154.7h0M198.5 153.1h0M201.3 153.9h0M144.9 153.2h0M214.9 150h0M206.2 150.8h0M168.1 154h0M170 154.6h0M216.1 150.6h0M175.1 153.2h0M212.5 150.2h0M165.4 152.1h0M136.7 151.4h0M154.5 153.2h0M171.3 154.5h0M207.9 151.6h0M201.6 153h0M149.1 152.4h0M141.4 153.2h0M165.6 150h0M172.4 152.5h0M158 153.2h0M221 146.9h0M137.3 151.9h0M163.5 153.5h0M215 152.3h0M165.5 152.7h0M206.4 151.4h0M169.8 149.7h0M172.6 151.6h0M172.4 151h0M182.9 151.8h0M141.7 152.8h0M213.5 149.3h0M217 151.4h0M161.8 154.2h0M191.1 152.1h0M198.8 152.3h0M144 150.7h0M191 153.9h0M201.9 152.8h0M213.6 152.5h0M195 153.1h0M142.7 150h0M173.1 152.6h0M207 154h0M192.7 151.9h0M216.9 151.6h0M181.5 152.7h0M170.1 153.9h0M222.3 147.9h0M162.3 153.5h0M196.3 152.9h0M169.4 152.2h0M183.3 154.3h0M188.9 149.3h0M196.2 154.3h0M163.9 153.1h0M180.5 153.7h0M217.8 150.9h0M177.9 152.9h0M199.5 152.7h0M143.8 153h0M173.6 152.6h0M137.3 152.6h0M142.7 153.5h0M154.7 153.3h0M193.6 153.4h0M156 151.3h0M163 152h0M159.6 153.9h0M145.8 154h0M209.8 150.7h0M142.2 153.4h0M173.9 150.2h0M170.6 152.6h0M190.1 152.9h0M183.1 153.8h0M136.7 153.8h0M191 154.1h0M189 152.7h0M192.9 152.4h0M145.5 152.8h0M192 153.4h0M159.3 154.1h0M176.3 153.6h0M171.2 150.4h0M213.8 152.4h0M152.8 151.7h0M207.3 153.1h0M194.3 152.7h0M144 152.8h0M197.7 153.1h0M190.5 154.3h0M150 154.7h0M172.6 153.5h0M149.2 154.3h0M202.7 152.7h0M145 153.3h0M213.5 151.4h0M176.3 154.2h0M209.2 153.4h0M189 154h0M205.3 154h0M199.6 154.1h0M170.3 153.5h0M156.3 153.5h0M196.7 152.8h0M207.5 152.3h0M160.9 149.6h0M182.3 152.9h0M160.4 153.6h0M214.3 152.1h0M173 154.6h0M153.5 153.1h0M213.9 149h0M151.2 148.5h0M142.5 152.4h0M196.1 153.6h0M200.7 151.8h0M172.5 154.1h0M153 153.4h0M193 152.8h0M189.3 153.4h0M200.6 152h0M164.9 151.1h0M136 151.4h0M136.7 153.1h0M159.6 153.1h0M140.2 152.9h0M155.9 152.6h0M148.9 154h0M186.3 151.6h0M148 152.2h0M182.6 150.8h0M165.6 151.6h0M198.7 153.8h0M182.6 154.3h0M164.8 153.3h0M160.7 153.6h0M142.3 153.7h0M146.1 152.2h0M177.1 153h0M181.7 153.8h0M202.6 152.9h0M188.3 152.7h0M154.7 153.9h0M203.3 148.4h0M155.7 153.2h0M158.9 153.3h0M202.3 151.8h0M207.5 154.2h0M178 154.5h0M149 153.4h0M210.1 153.6h0M198.3 150.5h0M162 154.1h0M213.4 150.7h0M215.6 150.4h0M177.8 151.7h0M136.6 152.1h0M144.3 152.7h0M202.9 153.1h0M164.9 153.9h0M218.2 149.6h0M196 150.3h0M200.8 154.5h0M142.8 152.9h0M150.8 150.9h0M148.5 153.4h0M200.9 154.3h0M215.8 150h0M201.5 153.1h0M136.5 153.9h0M198.9 154.3h0M202.3 149.5h0M147.3 153.5h0M183.4 153.4h0M162.5 153.4h0M173.1 150.1h0M202.2 152.6h0M197.6 151.8h0M146.3 149.6h0M162.4 148.9h0M206.6 147.9h0M168.5 151.2h0M195.1 152.1h0M149.5 152.5h0M178.2 154h0M173.9 153h0M138.7 153.4h0M189.9 152h0M178.4 151.5h0M220.3 148.7h0M154.4 153.1h0M182.1 154h0M147.6 153.5h0M197 152.5h0M200.1 154.2h0M136.4 154h0M206.2 153.4h0M169.2 149.6h0M172.1 153.4h0M172.7 153.8h0M138.1 151.9h0M146.8 153.5h0M180.8 151.7h0M174.5 154.5h0M175.9 153.7h0M174.2 152.9h0M196.3 151.6h0M209.6 153.9h0M184.6 153.7h0M142.2 151.4h0M178.4 153.5h0M191.8 152.2h0M193.5 150.8h0M206.7 152.5h0M198.2 151.4h0M150.7 153h0M154.1 154h0M188.5 153.6h0M151 151.4h0M178.4 154.1h0M178.5 153.2h0M144.2 152.6h0M142.6 149.7h0M136.7 148.3h0M202.3 151.1h0M159.6 153.3h0M191.9 154h0M219.4 149.6h0M163.2 152.1h0M175.7 154.1h0M204.8 152.2h0M158.2 152.9h0M165.2 153.6h0M184.9 152.5h0M187.3 153.2h0M180.5 153.2h0M159.6 153.9h0M172.9 152.2h0M146.7 152.2h0M150.4 151h0M161.3 153.7h0M150.8 153.3h0M179.4 152h0M197.5 152.6h0M166.8 153.1h0M166 152.8h0M187.1 149.3h0M152.1 153.5h0M175.9 154.2h0M179.1 151.5h0M182 153.9h0M205 152.2h0M217.5 147.5h0M160.9 154.1h0M148.1 154.6h0M184.9 151.6h0M153.8 152.7h0M147.9 151.2h0M221.8 148.5h0M207.8 152h0M188.6 153h0M143.9 153.1h0M154.7 150.4h0M218.6 146.7h0M176.2 153.2h0M158.7 151.9h0M191.7 153.9h0M167.1 153.2h0M202 151.9h0M159.2 154.2h0M149.1 152h0M217.5 150.6h0M151.3 154.4h0M155.3 154.1h0M143.7 153.9h0M137.8 153.5h0M142.6 154.5h0M161.2 152.9h0M199.4 152.8h0M197.3 153h0M179.3 152.8h0M199.4 154.4h0M161.9 152.9h0M177 152.5h0M148.2 152.7h0M175.1 153.5h0M155.6 154.3h0M219.2 150.6h0M171.6 153.5h0M174.8 154.3h0M210.5 152.3h0M215.4 151.1h0M201.8 151h0M213 150.1h0M202.9 152.7h0M202.7 154.1h0M179.4 153.2h0M215.4 150.6h0M141.4 152.3h0M173.8 152.4h0M152.9 154.1h0M182.9 151.7h0M154.1 147.9h0M205.9 150.2h0M222 146.7h0M139.2 152.3h0M157.9 152.8h0M176 153.9h0M144.6 154.3h0M213.3 152.1h0M182.8 151.2h0M173.1 153.6h0M173.6 149.4h0M136.3 151.6h0M204.3 150.2h0M142 154.3h0M168.5 150.8h0M187.5 149.9h0M154 153.9h0M149.3 154.4h0M150.7 153.2h0M213.3 149.7h0M135.3 151.8h0M151.9 152.8h0M148.1 151.3h0M215 151.7h0M205.6 152.8h0M171 149.2h0M174.4 150.3h0M134.9 152.2h0M163.3 152.8h0M186.9 153.1h0M216.2 151.1h0M184.7 153.8h0M212.3 150.6h0M209.9 150.1h0M173.5 151h0M180.2 152.5h0M155.9 151.5h0M199.5 152.5h0M198.3 153.6h0M206.3 152.6h0M179.2 153.7h0M189.9 154.4h0M198.7 153.8h0M186.1 152.3h0M188.3 152.6h0M176.5 152.2h0M151.1 151.7h0M148.3 153.8h0M138.1 154h0M158.6 149.3h0M179.8 153.7h0M207.8 153.6h0M175.1 151.1h0M192 153.3h0M171.4 148.3h0M166.8 150.9h0M194 153.9h0M193.1 154.1h0M176.3 150.5h0M149.8 154h0M211.6 151.4h0M146.7 152.5h0M201.2 153.1h0M185.7 154h0M152.2 151.9h0M179.4 154.8h0M168.8 152.4h0M161.5 153.2h0M143 150.6h0M191.3 152.2h0M170.5 152h0M135.3 151h0M136.8 148.9h0M169.9 154.1h0M190.3 153.5h0M171.9 151.6h0M194.8 153.4h0M148.2 153.8h0M180.4 153.6h0M201 152h0M144.6 150.7h0M171.9 154.3h0M147.8 152.5h0M218.6 148.4h0M183.8 153.6h0M146.2 153.5h0M144.1 153h0M197.4 154.3h0M200.4 154.3h0M136.7 153.3h0M174.2 154h0M199.3 150.9h0M142.4 148.7h0M206.3 153.4h0M207.9 150.8h0M216.8 150.5h0M167 153.4h0M184.4 153.8h0M156.5 153.1h0M177.2 153.8h0M188.9 152.2h0M162.1 153.2h0M180.5 151.8h0M165.2 153.5h0M154.8 154h0M180.9 152.7h0M219.5 149.6h0M205.5 151.5h0M165.9 151.7h0M175.5 154.1h0M207.9 153.2h0M204.3 153.7h0M210.9 152.3h0M189.7 151.4h0M177.1 152.3h0M173.6 150.8h0M145.1 152.7h0M177.6 153.3h0M202.7 153.2h0M206 152.5h0M161.7 152.9h0M173.6 153.7h0M186.1 153.1h0M176.7 149.8h0M220.8 149.3h0M156.2 152.5h0M139.6 152.4h0M165.4 151.7h0M167 152.5h0M193 152.7h0M151.3 153.2h0M155.7 153.2h0M152.9 153.5h0M170.4 152.3h0M199.9 152.9h0M201.9 152.2h0M165.5 153.1h0M151.6 152.8h0M194.9 153.5h0M217.5 149.8h0M205.1 152.8h0M210.8 150.5h0M167.3 145h0M194 154.1h0M217.4 147h0M220.9 149h0M152.3 153.9h0M158.7 152.2h0M191.3 154.5h0M154.4 153.2h0M221.6 148.9h0M208 153.5h0M203.2 153.8h0M151.5 154.3h0M201.2 153.7h0M187.6 152.5h0M210.4 151.2h0M189.9 152.7h0M201.3 152.7h0M211.6 152.6h0M172 153.9h0M161.3 152.5h0M217 150.4h0M152.2 151.4h0M162.8 153.5h0M162.8 152.6h0M139.9 151.5h0M184.7 154.5h0M142.7 153.2h0M155.2 153.4h0M175.3 153.4h0M195.4 153.6h0M159.4 152.7h0M175.6 152.2h0M190.7 153h0M178 151h0M167.1 153.2h0M152.5 150.8h0M220.8 148.1h0M193.5 154h0M166.9 152.9h0M145.5 152.5h0M192.1 153.3h0M145.9 153.8h0M220.7 149.6h0M178.1 153.6h0M145.6 150.5h0M216.4 151.3h0M174.4 153.3h0M194 153.2h0M169.7 151.8h0M174.7 154.4h0M211.5 152.2h0M203.1 152.9h0M154.2 151.7h0M162.8 151.8h0M199 150.4h0M180.1 153.3h0M197.8 152.9h0M179.5 152.1h0M203.6 151.2h0M163.3 150.4h0M216.9 149.4h0M136.6 150.7h0M183.3 154.8h0M145.4 151h0M135.9 152.5h0M214.2 150h0M152 154.1h0M162 152.8h0M169.1 154.5h0M151.6 153.7h0M152.5 154.6h0M218.3 148.6h0M164.7 154h0M144 153h0M150.6 151.4h0M205.7 152.6h0M204.1 152.1h0M167.6 153.5h0M173.4 153.3h0M161.2 153.1h0M165.8 154.5h0M199.7 152.8h0M171.4 154.4h0M180.1 152h0M143.9 154h0M159.3 153.3h0M198.6 154.8h0M221.4 146.8h0M169.8 153.5h0M155.6 152.8h0M157.8 152.1h0M197.1 149.6h0M177.3 153.7h0M140.6 154.6h0M151.5 152.2h0M196.2 153.8h0M206.5 152.8h0M135.6 153.2h0M141.6 153.6h0M142.3 153.3h0M141.5 153.9h0M184.7 153.3h0M169.5 152.6h0M181 153.3h0M151.5 153.2h0M183.8 153.9h0M163.3 153.3h0M145.5 154.3h0M141.3 152h0M166.9 153.7h0M195.7 153h0M206 153.2h0M212.4 148.6h0M148.8 152.7h0M201.9 150.5h0M221.9 147.8h0M160.3 152.7h0M156.7 153.8h0M167.1 153.9h0M218.8 149.3h0M144 152.9h0M173.5 151.8h0M188.7 153h0M216.5 150.2h0M188.6 153h0M212.6 150.4h0M173.2 154.9h0M217.9 149.2h0M186.8 151h0M214.9 152.4h0M220.9 149h0M184.8 151.8h0M158.4 152.5h0M211.3 146.9h0M160.6 152.1h0M196.9 152.1h0M144 154.7h0M170.9 152.9h0M135.8 152.3h0M171.5 149.1h0M175.8 147h0M142.1 150h0M171.6 149.7h0M174.6 153.8h0M220.5 146.3h0M206.2 152.3h0M199.3 152.7h0M196.9 152.7h0M140.6 154.2h0M144.3 153.6h0M203.4 152.9h0M207.1 150.9h0M152.8 153.6h0M137.2 150.1h0M139.3 154.5h0M205.9 152.3h0M177.9 153.1h0M135.9 151.3h0M159.4 151.1h0M208.3 151.7h0M144 152.1h0M146.4 154.2h0M139.8 152.4h0M159.4 153.9h0M141.8 153.2h0M201 152.3h0M170 154.6h0M189.8 151.2h0M139.1 149.7h0M200.6 151.3h0M217.6 151.2h0M192.8 151.6h0M182.9 152.7h0M167.4 151.1h0M186.9 153.8h0M212.2 152.7h0M176.3 151.6h0M200.6 153.7h0M157.1 154.1h0M141.9 154.4h0M200.2 153.6h0M220 149.7h0M165.4 149.5h0M196 152.4h0M158.8 152h0M167.4 153.5h0M215.9 149.4h0M201.8 150.8h0M218.8 149.3h0M169.5 153.7h0M204.2 154.4h0M148 151.7h0M157.9 153.6h0M168.7 153.8h0M182 154.6h0M170.8 151.2h0M199.6 153.2h0M206.2 154.3h0M144.8 153.3h0M212.6 149.8h0M134.9 150.2h0M209.7 152.5h0M187.3 153.1h0M135.6 151.5h0M169.9 151.2h0M169.4 150.9h0M201.8 153.6h0M196.7 153.3h0M220.2 148.8h0M206.6 151.7h0M183.2 154.4h0M142.7 151.3h0M152 151h0M200.2 154.1h0M195.6 151.7h0M178.8 151.4h0M218.2 150h0M134.7 152.7h0M149.1 154h0M186.8 151.2h0M217.7 150h0M155.6 154h0M151.3 151.3h0M199 152.8h0M138.8 152.7h0M173.3 153.7h0M191.8 152.9h0M167.4 153.6h0M193.4 154.4h0M214.8 151.3h0M141.9 151.9h0M211.1 150h0M147.9 152.7h0M134.7 154.6h0M135 149.5h0M189.9 152h0M155.7 153.8h0M159.6 152h0M137.9 152.8h0M155.1 154.3h0M162.9 152.4h0M196.5 150.4h0M196.3 153.5h0M191.6 152.8h0M214.7 150.9h0M185.1 152h0M219.4 148.6h0M134.7 153.3h0M150.3 150.6h0M218.3 148h0M184.9 151h0M222 147.9h0M195 153.2h0M200 153.1h0M144.2 153.9h0M170.5 153.3h0M170.7 152.4h0M204.9 151.9h0M207.1 153.2h0M147.9 153h0M153.5 152.4h0M180.2 153h0M154.1 152.7h0M148.1 150.5h0M185.5 151.3h0M160.2 147.3h0M175.9 153.2h0M209.4 152.7h0M179.8 151.3h0M212.6 151.6h0M153 152.8h0M140.6 152.1h0M175.7 153h0M171.5 154.2h0M149.7 154.4h0M215.4 151.3h0M204.1 152h0M151.7 151.7h0M147.6 152.6h0M212.8 151.6h0M143 153.8h0M182.1 153.2h0M211.3 152.4h0M163 153.9h0M157.7 151.3h0M195.7 151.7h0M200.7 149.1h0M172.9 154.2h0M147.3 153.8h0M137.4 153.4h0M154.9 154.5h0M217.6 150.7h0M167.8 154.3h0M187.5 153.7h0M170.6 154.4h0M137.1 154.7h0M174.8 154.3h0M205.6 153.5h0M141.4 152.1h0M174.4 151.9h0M194.9 152.2h0M170.4 153.2h0M159.5 154.3h0M171.1 153h0M206.1 153.6h0M209.2 152.6h0M149.7 153.7h0M192.2 151.2h0M207.8 151.8h0M192.6 153.7h0M140 153.1h0M158.9 152.6h0M185 152.9h0M167.6 152.9h0M211.4 152.9h0M214.2 150.8h0M191.3 151.4h0M144.1 151.8h0M170.2 152.2h0M180.2 152.8h0M173.9 154h0M200.3 153.4h0M182.3 151.9h0M218.4 148.1h0M137.7 149.3h0M194.7 152.9h0M140.3 154.5h0M147 152h0M192.6 153.5h0M139.8 152.6h0M179.7 152h0M134.7 152h0M151.6 153h0M155.3 154.2h0M144.6 152.8h0M205.8 153.3h0M144 151h0M216.3 150.3h0M177 153.9h0M203.2 154h0M166.6 152.6h0M172.8 148.5h0M160.3 153.1h0M150.5 149.9h0M156.5 153.3h0M210.1 150.1h0M135 152h0M187.3 147.8h0M176.8 153.1h0M171.5 153.7h0M178.4 149.2h0M180.5 152.2h0M142.3 153.4h0M172.6 154h0M166.1 151.5h0M171.1 152.1h0M207.3 152.3h0M157 150.5h0M181.9 154.2h0M151.3 151.3h0M151.4 153.2h0M157.8 154h0M171.6 151.7h0M156.2 147.8h0M215.8 150.7h0M170.1 152.4h0M206.1 150.3h0M171.1 154.3h0M202.5 151.4h0M196.2 152.5h0M185.1 152.4h0M181.5 153.3h0M149.6 152.7h0M197.1 153.8h0M153.3 154.2h0M215.4 150.1h0M151 152.2h0M137.7 152.1h0M194.6 151.4h0M169.2 154.5h0M185.1 153.2h0M215.6 147.8h0M134.8 152.5h0M156 153.1h0M190 153.2h0M199.3 153.9h0M171.1 154h0M213.2 152.2h0M202.4 154.6h0M166.1 151.5h0M219.7 146.5h0M185.9 152.2h0M179.6 152.9h0M203.6 149.1h0M147.4 154.4h0M148.3 154h0M211.8 152h0M176.6 149.3h0M168.4 151.5h0M143.9 153.4h0M151.1 151.9h0M157.9 153.3h0M188.8 153.1h0M212.5 151.1h0M210.6 147.1h0M167.4 154h0M163.5 151.5h0M208.1 153.1h0M175.5 153.7h0M189.8 149.9h0M202.4 150.5h0M205.1 153.7h0M203.3 151.4h0M196 151.3h0M190.2 150.8h0M187.6 154.2h0M149.6 152.4h0M178 153.7h0M144.2 154h0M221.1 148.5h0M156.4 152.5h0M162.3 149.7h0M180.7 152.9h0M172.7 153.7h0M197.2 153.7h0M172 149.7h0M216.5 149.5h0M179.4 151.8h0M168.6 153.1h0M184.7 152.6h0M191.4 152.6h0M190.9 153.9h0M160.9 154h0M200 152.6h0M204.4 152.4h0M174.6 149.1h0M138.9 154.2h0M171.6 154.1h0M165.2 153.5h0M155.8 151.8h0M140 153.3h0M149 152.8h0M184.2 151h0M140.8 151.7h0M220.5 148.1h0M167 152.4h0M165.4 147.4h0M141.1 152.9h0M143.7 153.9h0M212.9 150.9h0M169.4 153.4h0M192.2 153.5h0M181.7 148.9h0M221.7 148.1h0M146.4 153.5h0M188.3 152.2h0M214.5 151.2h0M163 150.1h0M134.9 153h0M146 150.7h0M178.5 153.3h0M167.2 152.1h0M181.9 154.6h0M161.6 151.4h0M141.1 152.1h0M173.4 151.5h0M208.3 148.7h0M154 151.6h0M213.4 152.5h0M175.4 151.3h0M149.5 153.8h0M154.1 153.4h0M211.7 150.8h0M192.9 151.8h0M146.2 152.1h0M206.6 151.3h0M181.6 153.6h0M212.9 152.5h0M151.7 154.1h0M212 151.8h0M207.1 152.1h0M141.4 153.3h0M221.9 148.6h0M205.9 154.1h0M166.6 152.5h0M193 152.4h0M179.9 149.2h0M203.1 151.9h0M222.3 146.5h0M137 154.1h0M204.7 152.9h0M171.5 151.5h0M178.3 152.7h0M162 150.7h0M144.7 154h0M177.4 153.5h0M177.6 153.4h0M183.3 151.5h0M153.8 153.6h0M188.4 151h0M151.9 152.6h0M140.4 153.9h0M190.2 154.4h0M187.1 153.2h0M209 153.7h0M139.3 152.3h0M181.9 153.6h0M173.1 153.7h0M215.5 150.2h0M145.5 153.1h0M218.9 149.3h0M166.6 151.3h0M139.3 153.6h0M142.1 154.1h0M220.5 149.2h0M139 152.1h0M140.1 152h0M208.5 150.9h0M162.7 154.5h0M179.8 154h0M178.7 152.4h0M210.7 151.7h0M139.5 153.7h0M152 154.7h0M143.2 152.8h0M161.3 154.4h0M185.5 151.5h0M157.7 150.9h0M215.7 150h0M184.4 152.9h0M191.8 152.6h0M170.4 150.6h0M165.1 150.1h0M137.5 153.6h0M168.2 153.8h0M204.1 152.6h0M159.5 153.4h0M160 152.3h0M138.3 153.1h0M189.3 146.6h0M197.8 151.2h0M156.7 151.9h0M156.3 154.1h0M168.2 149.1h0M201.5 152.3h0M217.1 150.5h0M189.1 154.2h0M167.2 148h0M172.9 153.5h0M163.2 148.8h0M140.5 150.7h0M137 154.3h0M157.2 154.1h0M200.7 151.8h0M202.6 150.6h0M152.8 152.5h0M143 152.7h0M217 149.2h0M142.9 148h0M220.4 149.4h0M202.1 154h0M212.6 150.9h0M153.8 154.1h0M180.5 150.1h0M156.5 153.9h0M161.9 154.2h0M171.2 152.7h0M167 153.2h0M135.9 152.4h0M219.3 149.7h0M197.6 153h0M204.5 151.9h0M197.6 153.5h0M141.5 150.6h0M149.6 151.1h0M134.7 151.9h0M207 152.5h0M216.9 146.6h0M160.6 154.2h0M190.7 153.9h0M149.4 152h0M168.3 154h0M203.7 152.4h0M194.3 147.4h0M136.6 150h0M149.9 152.7h0M150 153.4h0M166 152.9h0M146.7 153.1h0M156.8 152.1h0M217 147.5h0M143.4 152.5h0M188.9 152.7h0M197.2 153.4h0M141.9 153.3h0M214.7 149.5h0M213.6 150.8h0M190.4 153.6h0M172.5 153.5h0M135.9 152.8h0M217.7 150.2h0M197 151.3h0M219 147.7h0M205.7 151.8h0M210.2 149.6h0M145.8 153.1h0M147.1 152.1h0M154.9 152.6h0M158.1 153.7h0M179.5 153.6h0M220.8 145.6h0M184.9 152.6h0M181.2 153.6h0M217.1 151.2h0M156.7 153.1h0M217.5 150.5h0M187.4 151.6h0M201.6 149.9h0M210.2 152.2h0M149.4 151.7h0M148.4 153.9h0M153.1 152.1h0M168.9 153.8h0M144.4 151.2h0M144.8 153.6h0M186.4 150.9h0M160.1 153.6h0M203.8 150.5h0M163.5 154.1h0M164.6 153.8h0M187.6 153.6h0M168.8 154.5h0M218.9 149.9h0M205.9 153.2h0M213.1 151.9h0M149.6 152h0M169 150.2h0M207.8 150.1h0M220.5 146.3h0M203.3 150.5h0M196.7 154.5h0M217.9 150.8h0M142.2 150.2h0M144.3 154.2h0M137.5 95.3h0M145.6 137.4h0M155.3 146.7h0M179.5 152.1h0M138 139.9h0M136.2 102.8h0M155.2 130.5h0M137.2 140.8h0M136.3 149.2h0M157.4 141.4h0M142.5 140.8h0M164.5 140.5h0M144.6 151.9h0M148.4 140.6h0M152.2 145.1h0M134.7 151h0M134.8 147.1h0M136.3 149.6h0M151.7 118.1h0M155 146.7h0M134.7 108.4h0M137 152.7h0M144.4 151.3h0M172.3 154.3h0M166.3 151.2h0M154.8 150h0M136.3 149.9h0M135.7 123.2h0M165.5 154.2h0M147.1 154h0M152.6 112.2h0M143.9 126.1h0M143.7 154.7h0M156.3 147.1h0M136.9 151.1h0M159.2 143.6h0M176.9 140.7h0M182.1 149.9h0M166.4 152.8h0M155.4 142.8h0M167.2 152.2h0M138.5 143h0M158.5 153.1h0M143.3 154.2h0M155.4 153.4h0M169.2 142.3h0M160.9 148.2h0M170.5 153.7h0M160.1 148.3h0M155.7 150.3h0M139.4 129.2h0M161.8 145.5h0M213.5 149h0M141.1 129.9h0M134.8 144.7h0M138.1 136.6h0M187.8 151h0M137.2 123h0M166.3 150.7h0M137.4 104.3h0M151.2 140.4h0M139.2 136.5h0M151.7 124.2h0M166.4 153h0M147.1 149.8h0M150.5 144.6h0M141.2 143h0M147.3 134.5h0M143.5 100.9h0M215 151.8h0M149.9 149.6h0M139.6 142.1h0M164.4 148.3h0M143.2 100.4h0M158.5 145.4h0M145.9 153h0M156.9 148.8h0M138 143.5h0M178.1 154.6h0M146.7 154.6h0M136.3 106.8h0M146 114.6h0M143.9 145.6h0M142 127.8h0M144.8 153.1h0M169.7 139.8h0M171.1 138.7h0M155.4 112.3h0M152.9 153.3h0M214.9 150.7h0M144 135.4h0M163.6 145.4h0M146 154.5h0M138.7 153.2h0M143.4 152h0M148.9 144.9h0M138.3 141.3h0M152.1 147.6h0M148.9 118.8h0M138.2 105.3h0M137.2 148.3h0M163.6 152h0M139.7 119.5h0M183.6 151.5h0M178.5 153.6h0M146.1 150.6h0M153.1 147.4h0M147.8 151.1h0M150.7 139.5h0M138.3 140.5h0M136.6 133.3h0M138.7 141.5h0M156.3 146.9h0M188.9 153.9h0M162.1 151.6h0M160.9 147.2h0M165.8 152.7h0M202.8 153.1h0M150.3 140.8h0M136.7 152.4h0M140.5 118.8h0M161.1 152.8h0M153 132.5h0M199.5 151.6h0M144.7 131.6h0M136.7 90.7h0M168.1 151.5h0M135.7 153.9h0M170.1 149.1h0M137.2 153.5h0M147.9 153.9h0M135.1 133.8h0M176.6 150.1h0M139.9 93.6h0M167.1 151.3h0M134.7 147.6h0M173.8 145h0M140.4 138.5h0M151.8 146.6h0M148.2 140.1h0M160.1 129.5h0M151.2 152.5h0M139.8 154.2h0M161.8 138.9h0M141.7 145.3h0M199.9 146.6h0M142.9 131.4h0M139.3 136.3h0M137.3 107.8h0M140.7 141h0M193.7 153.2h0M140.4 152.1h0M144.8 150.6h0M138.1 145.9h0M179.1 148.8h0M134.8 154.1h0M181.3 150.7h0M171.1 152.7h0M144.3 154.1h0M138 141.1h0M146.2 151h0M158.1 150.4h0M200.9 149.4h0M143 114.4h0M151.8 145.5h0M176.2 147.9h0M136.3 154.5h0M155.1 149.5h0M138.2 111.3h0M146.1 115h0M162.2 146h0M166.2 154.7h0M141.9 154.7h0M142.7 129.7h0M139.6 153.1h0M169.1 152.6h0M145.8 152.3h0M155.4 141.7h0M140.3 134.2h0M134.7 137.7h0M136.7 141.9h0M135.9 136.8h0M135.2 138.5h0M140.4 98.5h0M145 137.7h0M139.2 149.6h0M139.4 141.1h0M210.4 148.4h0M148.1 134.6h0M140.5 153.7h0M137.9 136h0M143.6 145.4h0M144.4 149.8h0M148.5 152.9h0M143.5 152.7h0M147 149.7h0M144.8 151.4h0M144.7 142.3h0M136.1 153.4h0M136.2 146.9h0M167.2 152.9h0M140.3 153h0M136.7 128.6h0M141.1 154h0M154.5 148.1h0M163 144h0M150.7 148.5h0M150 139.8h0M147.6 148.3h0M136.7 154.2h0M157.8 147.1h0M155.5 144.3h0M136 128.8h0M144.5 148.5h0M135.2 135.8h0M166.1 153.2h0M153.3 128.1h0M136.6 131.7h0M139.5 134.3h0M164.5 138.8h0M145.6 148.9h0M142.7 128.8h0M138.3 126.5h0M140.9 131.4h0M147.9 151.7h0M139.5 153.1h0M142.2 133.9h0M140.2 151.5h0M151.2 130.6h0M147.1 132.6h0M140.6 145.9h0M141.3 149.5h0M137.6 148.2h0M153.3 134.6h0M136.6 143.4h0M152.1 148h0M151.7 143.7h0M167.3 136.5h0M167.8 154.5h0M163.5 154h0M191.2 150.3h0M151 148.1h0M147.2 146.7h0M136.1 122.6h0M135.9 119h0M144.8 149.1h0M169 153.8h0M138 147.1h0M170 154.8h0M201.5 154.7h0M149.8 142.5h0M195.2 149h0M151.7 147.7h0M160.9 134.8h0M135.6 150.6h0M150.8 139.2h0M139.1 151.1h0M139 147.9h0M202.6 151.2h0M162.3 154.2h0M136.1 138.4h0M155.3 142.8h0M180.9 154.1h0M134.7 117.6h0M146.4 135.6h0M161.5 152.3h0M144.8 131.6h0M147.6 143.7h0M145.9 152.4h0M144.4 119.7h0M148.5 127.4h0M143.8 141.8h0M164.6 149.9h0M138.6 148.9h0M155.9 141.7h0M141.9 154.5h0M141 145.4h0M154.9 149.5h0M145.1 139.3h0M138.2 152h0M136 154.7h0M142.9 137.6h0M157.8 153.2h0M171.2 148.7h0M153.1 153.7h0M170.4 152.3h0M138.7 150.6h0M141.4 144.5h0M143.7 109.8h0M144.3 154.6h0M169.2 152.2h0M145.3 153.9h0M147.3 144.6h0M135 128.2h0M137.5 132.7h0M138.4 143.7h0M140.7 139.9h0M137.8 130.9h0M151.4 143.4h0M170.5 139h0M165.3 152.9h0M154 152.6h0M161.3 152.6h0M150 152.2h0M138.1 145.9h0M139.2 145.5h0M137.3 151.1h0M139.2 146.4h0M136.2 143.3h0M143.3 139.5h0M135.6 125.1h0M136.5 149.9h0M152.1 153.3h0M155.7 147.5h0M146.8 147.8h0M176.4 142.4h0M181.8 148.6h0M141.7 111.5h0M150.2 146.2h0M135.8 147.8h0M169.2 152.5h0M134.9 137.5h0M154.8 147h0M168.2 153.2h0M173.6 141.2h0M142.9 141.1h0M154.9 147.7h0M194 151.3h0M163 149.7h0M159.4 130.5h0M158.4 136.7h0M151.9 152.7h0M171.8 140.3h0M148.2 130.5h0M147.6 151.4h0M139.1 152.2h0M179.4 151h0M154 130.7h0M143 147h0M143.7 151.1h0M158.4 146.5h0M144.1 144.1h0M143.7 115.2h0M143.6 149.5h0M143.1 146.4h0M139.1 128.5h0M154.2 150.5h0M154.1 104.6h0M212.5 153.3h0M141 153.1h0M134.7 142.7h0M136.8 121.6h0M173.7 140.3h0M146.1 132.2h0M155.6 134h0M141.8 150.7h0M144.4 150.2h0M153.1 146.2h0M137.9 139.1h0M169.6 153.3h0M168.5 153.9h0M137.7 139.1h0M156.9 145.2h0M141.5 144.3h0M197.4 154.6h0M165.4 151.5h0M158.5 151.4h0M134.8 120h0M140.3 149.5h0M215 152.3h0M146.7 134.8h0M156.4 140.6h0M181.9 154.1h0M174.6 147.7h0M142.5 128.1h0M158 144.8h0M160.1 139.7h0M213.8 154.5h0M150.8 138.3h0M137.6 154.4h0M147.6 150.7h0M144.1 138.9h0M144 133.1h0M149.5 148.6h0M141.1 153.2h0M147.3 150.8h0M134.8 139.8h0M159.7 127.9h0M164.8 152.8h0M143.1 141.3h0M178.7 152.2h0M148 137.5h0M135.7 152.9h0M160.1 145.4h0M138.2 138.4h0M148.9 132.2h0M180.7 154.1h0M188.7 151.8h0M154.4 111h0M144.2 145.6h0M184.2 152.6h0M167.8 151.3h0M154.4 151.4h0M138.9 103h0M139.6 128.7h0M135.9 103.1h0M173.4 146h0M135.5 143.8h0M140.1 149.7h0M177.6 150.5h0M154.4 130.2h0M151.4 92.7h0M149.5 134.3h0M146.5 129.3h0M172.3 153.8h0M147.2 138.9h0M139.7 149h0M140.2 146h0M150 150.1h0M136.3 136.7h0M159.6 149.2h0M150.9 151.7h0M159.7 149.5h0M173 145.1h0M179.6 152.7h0M162.8 143.2h0M135.8 125.4h0M135.3 138.8h0M167.2 146.7h0M155.9 133h0M135.6 147.1h0M145.7 144.9h0M157 138.2h0M151.4 117.3h0M157.3 146.1h0M161.5 147.5h0M138.9 152.6h0M137.1 153.3h0M151.7 145.9h0M138 141.5h0M156 153.5h0M153.7 149.2h0M141.4 127.5h0M149.6 136.4h0M174.9 142.2h0M196.5 144.9h0M140.3 137.5h0M138 143.9h0M182.1 154.7h0M139.5 108.9h0M139.2 140.1h0M158.8 154.5h0M153.7 153.1h0M176.6 147.1h0M136.2 138h0M141.4 128.2h0M199.9 150.2h0M165.3 154.4h0M147.2 149.8h0M180.8 151.2h0M155.3 137.4h0M182.3 144.2h0M173.9 141.4h0M148.4 129.4h0M176.8 151.4h0M135.6 150.7h0M144.1 131.2h0M171.9 152.5h0M154.1 126h0M143.5 143h0M139.4 136.1h0M179.8 152h0M148.6 139.6h0M164.5 141h0M168.4 148.4h0M151.3 145.8h0M135.3 144.5h0M144.8 148.4h0M183.3 154.6h0M137.1 103.7h0M139 134h0M170 154.1h0M148 133.2h0M155.1 149.2h0M190.4 153.3h0M157 144.1h0M152 151.7h0M146.4 133h0M135.6 136h0M190.5 150.5h0M159.7 149.4h0M134.7 151.4h0M135.9 132.4h0M141.9 153.7h0M139.8 126h0M144.4 153.2h0M159.8 152.7h0M156.2 150.9h0M150.1 150.8h0M142.9 105.7h0M166.9 150.6h0M141.8 144.1h0M152.6 143.8h0M151.7 132.1h0M134.9 146.3h0M142.5 149.9h0M154.2 147.1h0M135.3 153.2h0M166.8 153.4h0M156 124.8h0M139.6 143.3h0M161.1 133.3h0M205.9 151.8h0M161 146.5h0M136.3 151.4h0M152.5 130h0M150.7 145h0M139.9 143.4h0M191.6 153.4h0M134.7 145.1h0M144.4 126.8h0M190.4 152.4h0M198.1 153.8h0M135.9 139.8h0M162.3 141.2h0M137.3 132h0M142.5 141.7h0M139.5 147.1h0M153.9 152.6h0M155.3 101h0M139 151h0M138.3 108.6h0M140.6 153.5h0M134.7 154.2h0M176.5 153.6h0M145.2 144.2h0M149.7 147.4h0M208.9 151.7h0M146.1 154.2h0M158.2 151.3h0M140.8 113.9h0M174.5 152.1h0M140.2 152.7h0M176.5 154.5h0M134.7 152.7h0M188.7 151h0M135.8 141.4h0M145.5 150.7h0M134.7 117.9h0M141.9 133.9h0M152.8 152h0M141.5 131.4h0M149.7 123.9h0M165.3 140.7h0M152.1 145.7h0M156.4 150.1h0M136.8 133.7h0M144.8 138.7h0M151.1 143.9h0M143.8 142.3h0M152.6 152.2h0M137.8 148h0M149.4 146.4h0M143.6 119.1h0M163.4 150.3h0M166.9 152.2h0M142.3 134.8h0M184.1 150.5h0M146.5 141.8h0M154.5 153.1h0M171.9 128.1h0M138.7 153.6h0M142.7 144.7h0M145.6 153h0M143.6 144.5h0M149.6 148.9h0M152.6 145.3h0M160.2 147.7h0M144.8 124.1h0M136 150.5h0M141.4 138.5h0M137.2 148.3h0M158.7 143.3h0M139.9 134.4h0M159.8 151.2h0M139.5 146.1h0M142.7 150h0M181 150.2h0M147.2 136h0M137.6 152.8h0M135.6 124.6h0M152 150.6h0M172.2 145.9h0M161.9 153.3h0M179.2 152.8h0M152.7 145.6h0M204.6 151.1h0M204.5 149.9h0M158.4 153.1h0M144.5 135.5h0M149 153.3h0M185.2 149.2h0M172.7 153.4h0M171.8 152.8h0M136 127.7h0M138.5 128.5h0M146 152.9h0M199.8 154.9h0M173.6 148.1h0M135.6 134.2h0M139.1 133.2h0M158.2 116.9h0M149.7 151.9h0M138.7 153.9h0M153.4 147.7h0M153.3 140.7h0M183.4 151.3h0M199.7 153.7h0M137.9 120.6h0M144.6 130.7h0M141.9 144.7h0M143.9 149.7h0M158.4 154.5h0M144.6 145.6h0M147.8 130.8h0M155.7 124.5h0M144.5 147.7h0M137.6 148.4h0M137.3 140.2h0M138 134.8h0M171.6 148.3h0M147.5 110.4h0M139.6 103.3h0M154.5 153.2h0M145.5 145.1h0M140.9 152.2h0M143.9 148h0M135 130.4h0M149.3 150.7h0M140.2 152h0M181.9 149.8h0M140.1 143.6h0M151.2 147.2h0M143.8 137.8h0M135.5 149.3h0M146.2 152.9h0M141.1 148.9h0M176.8 133.3h0M190.7 154.1h0M149.5 154.6h0M148.4 145.6h0M143.1 143.8h0M135.1 139.8h0M139.6 152.4h0M145.1 148.2h0M178.6 152.8h0M160.6 131.2h0M146.7 153.4h0M135.3 122h0M177.6 154.6h0M167.4 152.1h0M179.7 154.1h0M200.1 143.6h0M135.8 147h0M154.1 105h0M143.1 147.5h0M161.3 154.1h0M140.9 143.2h0M137.6 153.5h0M152.2 152.1h0M167.4 146.6h0M161.9 134.9h0M146.1 146.1h0M143.6 143.6h0M153.3 154.6h0M135.5 143.6h0M165.2 143.9h0M139.8 152.1h0M153.7 145.3h0M135.7 130.4h0M159.6 154.2h0M149.9 146.7h0M144.2 147.9h0M140 146.6h0M152.7 114.9h0M138 147.7h0M138.9 152.3h0M157.4 137.4h0M158.9 148.4h0M151.4 140.4h0M163.8 149.5h0M138.6 136.9h0M149.1 148.5h0M137.6 154.1h0M203.9 152.9h0M150 120.7h0M143.2 151.7h0M149.2 144.3h0M144.8 152.9h0M153.2 141.4h0M160.5 145.5h0M151.8 151.7h0M142.3 140.8h0M138.7 148.5h0M147.4 129.1h0M139.5 153.5h0M160.8 145.2h0M155.6 134.5h0M170.5 153.7h0M135.2 151.8h0M186.1 153.8h0M194.8 145.2h0M209.5 148.3h0M157.9 149.1h0M144.5 141.3h0M141.1 146.3h0M136 139.7h0M138.6 152h0M151 124.6h0M148.8 154.8h0M163.5 146.5h0M164.3 144.3h0M134.7 150.6h0M169.7 147.8h0M139.8 151.7h0M135.3 137.5h0M136 146.9h0M141.1 121.9h0M162.3 153.1h0M156.7 150.6h0M147.4 153.5h0M148.9 148.5h0M142.9 154.2h0M169.4 135.6h0M167.2 139.2h0M166.5 154.5h0M186 149.3h0M143 142.5h0M136.5 122.9h0M162.8 154.3h0M138.9 144h0M136.6 126.3h0M138.7 149.8h0M180.8 153.2h0M178.4 151.5h0M165.8 145.4h0M175.1 149h0M141.9 137.2h0M137.4 148.5h0M137.3 132.6h0M155.6 152.6h0M151.1 128h0M146.3 151.9h0M143.6 127.9h0M137.3 140.5h0M156.2 122.8h0M176.9 152.9h0M143.2 128.5h0M164.7 140.3h0M143.6 154.7h0M135.2 139.4h0M136.1 106.5h0M174.8 152.5h0M149.8 154.3h0M136.1 148.7h0M136.6 146.4h0M134.7 92.5h0M135.1 153.6h0M137.3 140.5h0M169 115.8h0M143.2 134.5h0M143.3 148.3h0M136.1 106.4h0M143 138.7h0M170 146.9h0M136.7 154.6h0M136.5 153.6h0M173.5 149.4h0M134.8 153.9h0M146.8 150.1h0M144.5 145.2h0M139 152.1h0M138.6 152.8h0M135.8 133.7h0M147.4 149.5h0M166.3 136.7h0M154 132.8h0M148.4 128.3h0M146.6 145.5h0M163.9 153.6h0M138 146h0M136.1 148.8h0M137 102.9h0M135.3 144.7h0M150.1 150.3h0M141.3 125.8h0M142.3 150.4h0M162.2 150.8h0M141.3 148.4h0M148.3 140h0M140.4 154.2h0M164.8 150.2h0M157.4 153.2h0M144.4 134.7h0M134.9 111.2h0M182 152.8h0M141.7 150.6h0M139.6 147.7h0M159.3 149h0M195.7 151.1h0M135 144.5h0M151.7 130.9h0M162 154.9h0M141.3 141.4h0M137.3 151.6h0M166.8 153.1h0M168.4 143.3h0M139.7 139.9h0M164.6 151.6h0M168.4 142.1h0M141.6 151.4h0M150.2 143.2h0M142.1 154.1h0M148.7 150.7h0M146.8 154.7h0M139.8 126.3h0M147.5 150.2h0M143 152.2h0M171.2 148h0M153.8 138.5h0M134.7 150.7h0M161.2 141.6h0M150.2 128.4h0M142.3 139.4h0M146.7 136.1h0M139 139h0M158.2 152.7h0M140.4 126.6h0M138.4 137.8h0M134.7 124h0M145.6 121h0M154 148.2h0M169.7 144.9h0M168.3 145.4h0M158.1 138.9h0M173 150.5h0M176.2 146.8h0M186.7 154.2h0M137.1 146.4h0M141.5 151.5h0M136.3 145.7h0M167.3 145.2h0M184.9 150.8h0M145.4 132.7h0M141.3 144.2h0M139.6 144.4h0M171.9 149.2h0M143.1 151.4h0M158.1 139.8h0M136.7 149.6h0M136.8 150.7h0M136.9 148.6h0M135.9 140.1h0M169.3 144.6h0M146.2 108.4h0M151.6 150.3h0M143.4 140.3h0M146.9 140h0M154.2 133.4h0M157.7 135.6h0M156.8 93.4h0M138.6 146.5h0M136 154.4h0M175.2 135.7h0M137.4 144.2h0M138.7 153.5h0M135.3 140.3h0M167 121h0M145.1 151h0M136.4 133.7h0M161.9 135.2h0M142.2 120.3h0M153.3 133h0M138.2 146.9h0M192.2 153.1h0M181.1 147.1h0M136 153.5h0M177.4 141h0M154.7 152.2h0M149 146.7h0M145.9 128.2h0M170.4 147.9h0M140.8 153.8h0M142.4 136.5h0M145.1 152.4h0M145.8 153.2h0M145.6 120.9h0M181.7 153.2h0M142.8 129.1h0M148.2 141.6h0M176.3 147.3h0M152.4 150.1h0M155.8 151.1h0M149.4 149.9h0M136.9 137.9h0M145.1 121.6h0M153.4 133.3h0M140.5 129.9h0M156.1 152h0M141.8 150.8h0M174.6 152h0M166.3 151.5h0M194.7 153.5h0M136.7 142.8h0M138.8 153.7h0M155 145.4h0M140.9 146.8h0M147.1 141.2h0M182.8 153.4h0M176.2 152.9h0M140.1 147.7h0M153.5 134.4h0M147.5 153.4h0M173.2 148h0M142.2 139.9h0M135.8 128.2h0M152.7 153.1h0M142.2 152.7h0M191 153.3h0M141.9 138.4h0M134.9 131.4h0M197.9 153.2h0M147 115.8h0M140.7 136.7h0M169.3 152.2h0M137.4 154.2h0M178.7 154.5h0M136.5 116.3h0M135.6 142.8h0M136.3 152.5h0M162.7 153.1h0M141.1 134h0M144.5 149h0M140 108.4h0M136.9 135.8h0M154.9 147.9h0M162.7 139.8h0M144.9 147.8h0M146.5 145.5h0M169.3 142.1h0M141.9 154.8h0M141.3 137.8h0M148.4 137.9h0M141.4 130.2h0M135.8 149.2h0M135.5 136h0M174.5 150.4h0M157.2 136h0M164.3 154.6h0M177.2 154.7h0M139.7 150.6h0M155.7 118.9h0M145.8 152.3h0M140.7 131.5h0M153.2 152.4h0M139.3 148.2h0M137.2 128.9h0M182.9 153.4h0M142.2 151.9h0M142.9 133.2h0M178.4 154.8h0M146.6 140.5h0M141.8 150.8h0M139.2 153.1h0M141.9 151.5h0M151.2 129.4h0M147.1 115.4h0M150.6 153.8h0M146.2 151.9h0M145.4 133h0M145.5 149.7h0M178 153.9h0M169.8 147h0M152.1 142.2h0M138.5 134.3h0M142.7 133.2h0M185.6 151.2h0M149.7 142h0M153.6 147.7h0M134.9 102.1h0M156.6 152.8h0M208.1 149.3h0M157.7 150.7h0M144.1 147.9h0M136.2 124.5h0M160.5 133.2h0M144.2 143.8h0M134.8 153.7h0M137.4 108.9h0M149.6 149.2h0M177.8 154.6h0M196.7 154.7h0M168 154.9h0M145.3 151.9h0M144.1 154.2h0M146.6 139.6h0M138.3 151.5h0M144.2 144.6h0M197.2 150h0M148.2 151.7h0M136.5 142.7h0M165.6 144.2h0M147.2 154.9h0M145.6 133.6h0M143.1 150.3h0M138.2 135.7h0M160.1 142.9h0M149.1 153.9h0M152.5 144.3h0M141.4 151.7h0M139.5 152.2h0M138.6 151.4h0M142.2 148.9h0M139.1 129.7h0M159.2 129.4h0M140.4 116.7h0M161.5 146.3h0M143.8 139.8h0M216.3 145.8h0M143.9 130.6h0M180.4 154.2h0M135.2 131h0M154.1 153.6h0M142.8 134.1h0M184.8 154.9h0M181.1 153.2h0M142.6 153.2h0M137.3 146.5h0M142.6 116.8h0M136.4 152.9h0M167.4 134.7h0M161.7 137.5h0M191.5 151.4h0M148.6 131.3h0M152.1 146.6h0M197.9 154.1h0M140.8 150.2h0M140.5 146.1h0M134.8 144.3h0M142.2 153.5h0M137.8 143.3h0M150.6 138.6h0M167 138.5h0M181.2 154h0M145.8 150.6h0M141.1 114.4h0M147.9 145h0M212.6 149.6h0M178.4 152.9h0M142.1 152.9h0M166.7 143.2h0M180.8 148.2h0M143.2 136h0M136.6 139.1h0M157.3 152.7h0M152.6 153.2h0M141.2 141.9h0M180.8 152.5h0M172.8 150.1h0M189.4 153.2h0M139.5 146.5h0M163.8 151.9h0M175.2 149.5h0M140 135.3h0M140.5 144h0M143.4 135.8h0M183.1 154.6h0M145.2 151.7h0M154.2 148.8h0M173.9 152.6h0M139.7 141h0M185.8 153.9h0M216.7 154.2h0M155 128.2h0M156.9 154.5h0M151 153.7h0M135.4 110.5h0M152.4 149.6h0M157.7 148.7h0M142.4 144.2h0M183.1 147.7h0M160.9 152.5h0M145.4 113.2h0M143.7 154.2h0M180 149.4h0M164.4 146.6h0M143.4 152.9h0M144.6 147.9h0M134.7 154.8h0M145.7 153.4h0M135.4 146.4h0M141.6 152h0M158.3 138.9h0M136.8 149.8h0M141 131.1h0M154.3 122.7h0M162.7 153.8h0M188.9 150.8h0M145.1 150h0M147.2 141.1h0M138.9 147.1h0M155.6 139h0M137.6 151.6h0M153 149.3h0M150.5 149h0M151.8 138.4h0M139.6 153.8h0M141.2 148.9h0M139.6 147.7h0M140.4 115.4h0M137.8 153.4h0M136.8 140.6h0M146 116.2h0M166.2 139.6h0M142.8 150.9h0M138.2 133.9h0M141.6 148.2h0M138 138.2h0M136.7 151.5h0M218.4 151.2h0M140.8 151.8h0M158.5 150.6h0M135.7 149.8h0M163 137.6h0M146.3 139.8h0M140.4 135.8h0M144.5 123.9h0M173.9 153h0M173.7 152.9h0M167.7 135.1h0M205.1 154.7h0M183 154.3h0M158.6 149.6h0M155.7 152.8h0M139 152.6h0M149.2 143.5h0M182.2 150.3h0M155.4 145.1h0M187.7 152.4h0M160.6 141h0M137.2 153.4h0M161.3 144h0M157.9 142.6h0M161.4 144.9h0M146.9 152.5h0M190.2 153.7h0M163.8 150.3h0M134.7 122.3h0M164.2 138.9h0M138.6 143.5h0M176.2 151.5h0M143 144.5h0M164.3 152.9h0M156.2 154.9h0M158.7 144.4h0M188.8 150.7h0M136.7 101.5h0M176.5 148.1h0M168.7 147.5h0M139.5 139.4h0M138.7 151.9h0M135.9 122.6h0M141.4 151.9h0M160.5 152.1h0M154.7 143.8h0M134.8 150.4h0M147.7 146.2h0M158.1 143.4h0M185.6 154.5h0M151.6 140.4h0M139.6 133.5h0M136 117.3h0M142.9 139.7h0M140 136.9h0M153.9 154h0M139.5 105.4h0M140.7 148.1h0M147.4 137.9h0M155.6 141.9h0M155 151.2h0M144.7 152.9h0M143.1 130.8h0M143.7 134.1h0M137.1 133.1h0M162.9 151.8h0M149.1 149.9h0M134.8 152.7h0M142.9 127.6h0M135 141.7h0M153.7 149.3h0M160.8 153.7h0M136.7 143.1h0M148.1 147h0M160 123.1h0M151.6 154.3h0M136.5 93.3h0M143.5 144.1h0M140.8 133.4h0M146.9 138.1h0M144.4 131.4h0M145.8 147.6h0M155.3 153.4h0M143 144.2h0M149.8 153.9h0M143.8 144.6h0M136.9 142h0M136.3 99.5h0M151.7 118.1h0M168.1 150.8h0M135.1 153.6h0M215.6 150.6h0M136.6 145.9h0M159.1 151.5h0M152.8 146.3h0M150 130.5h0M142.5 141.7h0M153.5 149.8h0M170.6 146.7h0M190.9 148.7h0M148.2 153h0M158.4 151.7h0M139.7 146.9h0M162.9 150.2h0M139.2 149.6h0M179.2 153.4h0M177.6 153.3h0M165.3 146.9h0M142.4 137.8h0M139.3 142h0M160.1 145.6h0M168.1 153.8h0M166 154.3h0M147.6 141.6h0M138.8 131.3h0M136.7 123.3h0M158 148.8h0M144.5 135.6h0M152.9 149.9h0M144.5 144.4h0M136 135.3h0M142.3 152.4h0M142.4 98.9h0M151.3 153.6h0M157.2 146.3h0M139.7 145.4h0M193.8 154.3h0M136.6 133.5h0M157.6 151h0M138.5 132.5h0M171 151.7h0M137.6 152.9h0M162.3 153.4h0M140.5 153h0M171 154.1h0M137.2 150.6h0M147.1 152.4h0M143.7 146.6h0M197.1 151.4h0M154 141.3h0M143.1 144.6h0M137.6 143.4h0M168.1 152.8h0M139.1 137.9h0M156.5 149.2h0M156.4 138.1h0M136.9 115.7h0M137.1 107h0M177.7 149.2h0M164 148.9h0M162.2 142h0M154 151.3h0M163.7 145.4h0M144.5 146.5h0M135.8 113.4h0M190.3 154.6h0M215.1 145.9h0M222.1 143.1h0M214.1 142.1h0M215.1 151.1h0M221 147.8h0M219.2 149.4h0M218.8 142h0M211.2 152h0M218 147h0M220.2 148.9h0M216.2 147.7h0M221.6 147.4h0M215.9 142.7h0M216.3 149.9h0M220.5 134.2h0M220.8 121.3h0M222.4 146.5h0M217.9 143h0M214.8 150.3h0M217.4 148.6h0M218.6 144.8h0M218.6 146.4h0M215.8 144.3h0M216.9 149h0M215.3 148.1h0M212 150.5h0M215.7 148.6h0M214.8 147.6h0M221.8 147.1h0M216.6 145.2h0M209.2 147.4h0M215.8 148.2h0M217.8 149.6h0M222 143.4h0M218.9 146.4h0M219.9 144.7h0M214.7 144.4h0M210.7 148.9h0M221.1 126.1h0M218.6 148.2h0M217.4 148.6h0M214.1 143.6h0M215.6 145.6h0M211.4 148.6h0M219.4 146.9h0M217.6 139.5h0M215.5 146.8h0M217.5 149.8h0M221.6 146.3h0M222.2 136.6h0M222.1 138.1h0M221.7 143.3h0M215.4 147.3h0M214.9 147.9h0M221.1 148.2h0M221.4 138.7h0M216.1 150.2h0M221.4 146.9h0M215.4 147h0M210.6 133.2h0M219.1 145.8h0M221.7 145.1h0M212.5 149.4h0M221.6 134h0M217.3 144.9h0M221.7 145.9h0M217.4 148.6h0M208.7 151.5h0M215 132.4h0M219 145h0M221.4 145.6h0M213.3 151.4h0M222.3 146.8h0M219 138h0M220.4 146.6h0M217.8 144.8h0M220.9 143.8h0M212.2 149.8h0M220.9 145.8h0M218.3 148.9h0M219.7 149h0M213.5 151.6h0M222.1 135.7h0M212.8 148.7h0M215.4 150h0M218 142h0M218 142.2h0M212.7 151.4h0M208.9 141.1h0M222.4 134h0M210.3 148.1h0M220 148.9h0M222.4 137.8h0M214.6 150.7h0M212.4 148.7h0M218.1 145.1h0M217.1 148.3h0M222.5 139.1h0M220.9 138.7h0M217.6 149.2h0M215.6 140.4h0M216.2 145.3h0M211.1 151.2h0M214.7 146.8h0M206.5 147h0M221.4 139.9h0M221.2 130.6h0M222.3 147.8h0M216.8 148.6h0M218.5 148.9h0M211.6 142.8h0M211.3 147.9h0M213.6 147.5h0M218.7 135.2h0M218.8 144.6h0M213.3 142.7h0M217.5 148.4h0M218.3 147.4h0M222.1 147.7h0M216.1 147h0M220.9 134.4h0M218.4 146.9h0M218.9 146.7h0M220.6 147.8h0M222.2 146.7h0M219.8 148.6h0M221.3 145.9h0M219.1 146.5h0M218.4 144.5h0M218.8 141.7h0M222.4 144.5h0M219.4 123.6h0M219.3 146.1h0M218.5 143.7h0M219.8 144.9h0M207.4 143h0M220.1 144.6h0M218.9 142.9h0M216.2 150.2h0M221.5 133.1h0M221.8 119.2h0M217 150.2h0M218.7 146.7h0M219.4 128.1h0M218.8 149.7h0M219.6 127.2h0M212.9 151.7h0M217.8 149.7h0M214 143.8h0M217.2 143.5h0M209.8 140.5h0M217.3 150h0M218.4 140.4h0M222.4 143.6h0M212.5 147.2h0M215.3 149.3h0M212.8 147.4h0M209.5 149h0M219.6 148.3h0M206.1 153.1h0M213.3 147.4h0M220.4 145.2h0M216.3 147.8h0M210.3 148.1h0M217.7 142.8h0M212.9 150.2h0M220.2 142.4h0M221.4 137.7h0M219.5 144.5h0M216.6 140.3h0M215.8 149.7h0M215.7 146.9h0M216.5 149.1h0M213.3 148.3h0M220.4 144.9h0M220.4 148.4h0M216.2 149.1h0M217.6 138.4h0M215.6 148.3h0M212 149.7h0M219.3 148.5h0M221.8 143.7h0M216.5 141.3h0M219.1 147.5h0M213 150.4h0M212.4 147.7h0M221.8 135.3h0M222.3 135.5h0M221.9 130h0M208.4 151.4h0M222.2 142.7h0M217 142.4h0M222.1 141.3h0M221 146.5h0M222.2 142.3h0M222.4 146.6h0M221.8 139.9h0M218.5 136h0M222.5 146.2h0M220.9 141.6h0M217.8 137.7h0M214.5 150.2h0M215.5 148.1h0M215.6 143.7h0M214.1 151h0M210.2 148.5h0M219.2 140.7h0M212.5 147.9h0M221.5 142.4h0M215.2 149.3h0M221.2 145.7h0M218.2 144.8h0M219.5 141.1h0M206.4 152.9h0M217.4 145.2h0M214.6 144.6h0M211.6 142.5h0M219.7 144.6h0M219.7 149.1h0M218.7 142.1h0M219.1 137.2h0M216.9 150.3h0M221.6 143.3h0M220.8 130h0M222.3 147.5h0M213.9 146.1h0M213.3 151.2h0M217.7 143.9h0M217 150.2h0M218.1 149.5h0M211.3 151.7h0M212 140.8h0M212.5 150.5h0M212.8 150.8h0M208.5 144.9h0M220.2 127.3h0M220.9 143.6h0M214.7 147.5h0M222.2 144.9h0M220.7 139.9h0M220.7 145h0M215.8 146.7h0M213.7 150.5h0M219.7 147.8h0M222.5 140.9h0M221.6 145.9h0M218.3 137.9h0M215.7 150.8h0M222.1 145h0M212.9 147.6h0M218.7 149.1h0M221.5 135.3h0M212.8 151.1h0M222.2 147.5h0M215.3 150.9h0M215 146.2h0M214.7 148.6h0M218.3 149.1h0M221.9 147.2h0M221.4 143.3h0M212.2 145.1h0M210.4 148.4h0M218.6 148.1h0M211.9 148.9h0M222 143.2h0M219.8 149h0M220.7 148.2h0M220.2 144.1h0M221.8 143.1h0M212.5 150.5h0M215.8 148.3h0M216.5 145.3h0M221.6 143.3h0M219.7 142.2h0M221 144.1h0M211.4 148.7h0M216.3 148h0M208.8 152h0M217.7 148.4h0M217.8 147h0M221.4 142.1h0M220.6 137.7h0M220.4 144h0M220.5 147.8h0M220.2 143.1h0M210.5 150.5h0M215.5 145h0M220.2 139.5h0M213.7 148.6h0M211.9 147.8h0M219.2 147.9h0M216.6 147.9h0M221.9 147.1h0M211.5 150.6h0M222.3 139.4h0M221.1 147.3h0M220.7 147.5h0M222.4 141.6h0M214.2 150.5h0M218.2 147.7h0M220.3 148.9h0M219.1 145.6h0M207.2 147.5h0M211.1 149.4h0M222.1 146.3h0M222.1 146.4h0M212.4 144.7h0M216.3 148.7h0M219.3 142.3h0M211.9 151.4h0M220.7 143.3h0M209.9 147.9h0M211.1 147.6h0M220 140.2h0M219.4 148h0M213.1 140.3h0M215.5 142.9h0M222.3 145.6h0M209.8 152.2h0M220.3 147.3h0M220.6 147.5h0M220.8 146.5h0M221.5 144h0M221 143.6h0M218.1 128.7h0M208.9 145.4h0M221.2 146.1h0M219.4 148.6h0M217.7 148.9h0M215.1 143.6h0M221.7 128.8h0M220.5 122.1h0M220.9 129.2h0M220.7 128.9h0M220.1 134.6h0M217.9 142.8h0M222.3 114.5h0M221.4 125.9h0M218.6 139.4h0M221.5 116.8h0M218.8 144.3h0M217.9 144.4h0M218.2 140.9h0M222.3 123.8h0M219.7 134.1h0M222.5 120.3h0M220.5 124.6h0M219.4 142.7h0M219.8 137.3h0M222.2 126.2h0M221.8 123h0M220.8 130.6h0M221.7 125.7h0M220.4 130.9h0M216.1 125h0M220.8 92.3h0M215.6 127.5h0M222.4 96.3h0M219.5 108.3h0M219.1 104.6h0M218.5 102.6h0M219.5 127.8h0M216.9 105.3h0M218.2 120.6h0M215.7 97.9h0M218.6 114.9h0M220.7 107.3h0M146.3 128.4h0M150.5 126.7h0M161 97.6h0M157.2 135.7h0M139 129.4h0M176.6 140.4h0M159.1 96.4h0M144.6 99.3h0M154.4 141h0M171.4 110.8h0M145.4 138.1h0M147 125.6h0M160.1 130.7h0M177.2 135.5h0M152 139.1h0M200.1 124.6h0M141.7 131.3h0M172.3 132.3h0M213.8 140.6h0M148.6 128.1h0M157 130.9h0M211 123.1h0M156.8 135.9h0M166.8 135.2h0M148.4 102.1h0M182.4 133.7h0M164.5 127.9h0M210.7 137.3h0M205 129.2h0M148.5 123.1h0M179.2 91.6h0M144.2 94.2h0M166.9 133.8h0M155.8 139.9h0M212.8 101.6h0M186.6 122.1h0M208.9 138.6h0M164.3 124.3h0M187.8 118.6h0M214 94.9h0M161.5 132h0M203.8 127.7h0M171.3 133.2h0M193.2 132h0M177.9 129.2h0M176.6 139.8h0M209.8 133.9h0M217.3 130h0M149 115.8h0M172.6 114.7h0M180.5 133.8h0M154.7 134h0M145.7 118.1h0M142.5 105.1h0M151.6 137.3h0M149.9 141.5h0M143.3 137.9h0M177.7 118.7h0M192.6 122h0M167.5 136h0M182.8 128.4h0M135.8 120.6h0M141.7 113.7h0M177.3 126.9h0M176.7 133.8h0M168 134h0M141 93h0M164.2 133.9h0M191.2 114.9h0M189 101.6h0M166.1 120.8h0M156.2 106.8h0M187 131.5h0M192 140.9h0M221.1 134.4h0M147 102.5h0M177.1 117h0M173.8 136.2h0M194.6 140.9h0M151.1 137.6h0M162 134.9h0M173.7 131.9h0M146.1 134.5h0M183.4 131.4h0M187 113.4h0M187.4 91.4h0M134.4 2.2h0M135.8 2.2h0M137.2 2.2h0M138.6 2.2h0M140 2.2h0M141.4 2.2h0M142.8 2.2h0M145.4 2.2h0M146.7 2.2h0M148 2.2h0M149.4 2.2h0M150.7 2.2h0M152 2.2h0M153.3 2.2h0M155.9 2.2h0M157.1 2.2h0M158.3 2.2h0M159.5 2.2h0M160.7 2.2h0M162 2.2h0M164.7 2.2h0M172.6 2.2h0M174.2 2.2h0M175.7 2.2h0M178.7 2.2h0M179.9 2.2h0M181 2.2h0M182.2 2.2h0M186.2 2.2h0M187.4 2.2h0M188.7 2.2h0M189.9 2.2h0M191.1 2.2h0M192.4 2.2h0M193.6 2.2h0M201.6 2.2h0M205.7 2.2h0M207 2.2h0M208.3 2.2h0M209.6 2.2h0M210.9 2.2h0M212.2 2.2h0M213.5 2.2h0M214.8 2.2h0M216.1 2.2h0M217.4 2.2h0M218.7 2.2h0M220 2.2h0M221.3 2.2h0M222.6 2.2h0M134.4 22.1h0M135.7 22.1h0M137.1 22.1h0M138.4 22.1h0M139.7 22.1h0M141 22.1h0M144.2 22.1h0M153.8 22.1h0M158.2 22.1h0M159.7 22.1h0M161.1 22.1h0M162.6 22.1h0M172 22.1h0M181.3 22.1h0M183 22.1h0M198.3 22.1h0M205.1 22.1h0M208.5 22.1h0M211.6 22.1h0M214.8 22.1h0M218.1 22.1h0M219.1 22.1h0M220.2 22.1h0M160.8 42h0M175.3 42h0M176.4 42h0M181 42h0M186.9 42h0M197.4 42h0M219.5 42h0M143.8 54h0M158.2 54h0M160.8 54h0M174.5 54h0M214.6 54h0M220.7 54h0M137.5 61.9h0M138.2 61.9h0M138.9 61.9h0M154 61.9h0M181.7 61.9h0M138.9 68.6h0M151.5 68.6h0M152.7 68.6h0M153.8 68.6h0M172.9 68.6h0M179.2 68.6h0M191.1 68.6h0M203.7 68.6h0M140.1 73.9h0M141.3 73.9h0M142.4 73.9h0M162.9 73.9h0M168.4 73.9h0M187.6 73.9h0M214.6 73.9h0M218.1 73.9h0M222.1 73.9h0M144 77.9h0M147.2 77.9h0M150.3 77.9h0M156.8 77.9h0M165.9 77.9h0M178.7 77.9h0M183.1 77.9h0M151.9 81.9h0M155.9 81.9h0M165.2 81.9h0M166.4 81.9h0M169.9 81.9h0M188 81.9h0M198.1 81.9h0M211.5 81.9h0M141 85.2h0M149.8 85.2h0M185.7 85.2h0M212.5 85.2h0M216.7 85.2h0M137.5 88.5h0M141 88.5h0M142.1 88.5h0M143.3 88.5h0M154.7 88.5h0M155.9 88.5h0M177.1 88.5h0M195.7 88.5h0M214.1 88.5h0" stroke="#F00000" stroke-width="1.9" stroke-linecap="round" fill="none"/>
<line x1="118.5" y1="1.7" x2="118.5" y2="162" stroke="#000" stroke-width="0.75" stroke-dasharray="0.9 1.1"/>
<line x1="134.5" y1="1.7" x2="134.5" y2="162" stroke="#000" stroke-width="0.75" stroke-dasharray="0.9 1.1"/>
<line x1="19" y1="154.9" x2="21" y2="154.9" stroke="#333" stroke-width="0.6"/>
<text x="18.2" y="156.7" font-size="5" text-anchor="end" fill="#333" transform="rotate(0.1 18.2 156.7)" stroke="#333" stroke-width="0.09">0.0</text>
<line x1="19" y1="121.7" x2="21" y2="121.7" stroke="#333" stroke-width="0.6"/>
<text x="18.2" y="123.5" font-size="5" text-anchor="end" fill="#333" transform="rotate(0.1 18.2 123.5)" stroke="#333" stroke-width="0.09">0.5</text>
<line x1="19" y1="88.5" x2="21" y2="88.5" stroke="#333" stroke-width="0.6"/>
<text x="18.2" y="90.3" font-size="5" text-anchor="end" fill="#333" transform="rotate(0.1 18.2 90.3)" stroke="#333" stroke-width="0.09">1.0</text>
<line x1="19" y1="55.3" x2="21" y2="55.3" stroke="#333" stroke-width="0.6"/>
<text x="18.2" y="57.1" font-size="5" text-anchor="end" fill="#333" transform="rotate(0.1 18.2 57.1)" stroke="#333" stroke-width="0.09">1.5</text>
<line x1="19" y1="22.1" x2="21" y2="22.1" stroke="#333" stroke-width="0.6"/>
<text x="18.2" y="23.9" font-size="5" text-anchor="end" fill="#333" transform="rotate(0.1 18.2 23.9)" stroke="#333" stroke-width="0.09">2.0</text>
<line x1="46.4" y1="162" x2="46.4" y2="164" stroke="#333" stroke-width="0.6"/>
<text x="46.4" y="168.2" font-size="5" text-anchor="middle" fill="#333" transform="rotate(0.1 46.4 168.2)" stroke="#333" stroke-width="0.09">−10</text>
<line x1="86.5" y1="162" x2="86.5" y2="164" stroke="#333" stroke-width="0.6"/>
<text x="86.5" y="168.2" font-size="5" text-anchor="middle" fill="#333" transform="rotate(0.1 86.5 168.2)" stroke="#333" stroke-width="0.09">−5</text>
<line x1="126.5" y1="162" x2="126.5" y2="164" stroke="#333" stroke-width="0.6"/>
<text x="126.5" y="168.2" font-size="5" text-anchor="middle" fill="#333" transform="rotate(0.1 126.5 168.2)" stroke="#333" stroke-width="0.09">0</text>
<line x1="166.5" y1="162" x2="166.5" y2="164" stroke="#333" stroke-width="0.6"/>
<text x="166.5" y="168.2" font-size="5" text-anchor="middle" fill="#333" transform="rotate(0.1 166.5 168.2)" stroke="#333" stroke-width="0.09">5</text>
<line x1="206.6" y1="162" x2="206.6" y2="164" stroke="#333" stroke-width="0.6"/>
<text x="206.6" y="168.2" font-size="5" text-anchor="middle" fill="#333" transform="rotate(0.1 206.6 168.2)" stroke="#333" stroke-width="0.09">10</text>
<text x="126.5" y="176" font-size="6.4" text-anchor="middle" fill="#000" transform="rotate(0.1 126.5 176)">log2FC</text>
<text x="7.7" y="81.5" font-size="6.4" text-anchor="middle" fill="#000" transform="rotate(-89.9 7.7 81.5)">−log10(qval)</text>
<text x="242" y="67.4" font-size="6.35" fill="#000" transform="rotate(0.1 242 67.4)">regulation</text>
<rect x="241.5" y="71.5" width="10.3" height="30.1" fill="#F2F2F2"/>
<circle cx="246.7" cy="76.7" r="0.95" fill="#F00000"/>
<text x="254.9" y="78.7" font-size="5.66" fill="#000" transform="rotate(0.1 254.9 78.7)" stroke="#000" stroke-width="0.09">up</text>
<circle cx="246.7" cy="86.9" r="0.95" fill="#A9A9A9"/>
<text x="254.9" y="88.9" font-size="5.66" fill="#000" transform="rotate(0.1 254.9 88.9)" stroke="#000" stroke-width="0.09">not-sig</text>
<circle cx="246.7" cy="96.9" r="0.95" fill="#00F000"/>
<text x="254.9" y="98.9" font-size="5.66" fill="#000" transform="rotate(0.1 254.9 98.9)" stroke="#000" stroke-width="0.09">down</text>
<text x="1.5" y="16.1" font-size="23" font-weight="bold" fill="#000" style="font-family:'Liberation Serif','Times New Roman',serif">A</text>
<rect x="34.5" y="232.30" width="26.88" height="4.09" fill="#FF6C6C"/>
<rect x="61.1" y="232.30" width="26.88" height="4.09" fill="#FF7373"/>
<rect x="87.7" y="232.30" width="26.88" height="4.09" fill="#FF3939"/>
<rect x="114.2" y="232.30" width="26.88" height="4.09" fill="#6060FF"/>
<rect x="140.8" y="232.30" width="26.88" height="4.09" fill="#5959FF"/>
<rect x="167.4" y="232.30" width="26.88" height="4.09" fill="#6666FF"/>
<rect x="34.5" y="236.09" width="26.88" height="4.09" fill="#FF7373"/>
<rect x="61.1" y="236.09" width="26.88" height="4.09" fill="#FF7373"/>
<rect x="87.7" y="236.09" width="26.88" height="4.09" fill="#FF3939"/>
<rect x="114.2" y="236.09" width="26.88" height="4.09" fill="#5959FF"/>
<rect x="140.8" y="236.09" width="26.88" height="4.09" fill="#5959FF"/>
<rect x="167.4" y="236.09" width="26.88" height="4.09" fill="#8080FF"/>
<rect x="34.5" y="239.89" width="26.88" height="4.09" fill="#FF8C8C"/>
<rect x="61.1" y="239.89" width="26.88" height="4.09" fill="#FF4646"/>
<rect x="87.7" y="239.89" width="26.88" height="4.09" fill="#FF2020"/>
<rect x="114.2" y="239.89" width="26.88" height="4.09" fill="#4040FF"/>
<rect x="140.8" y="239.89" width="26.88" height="4.09" fill="#5353FF"/>
<rect x="167.4" y="239.89" width="26.88" height="4.09" fill="#5959FF"/>
<rect x="34.5" y="243.68" width="26.88" height="4.09" fill="#FF9999"/>
<rect x="61.1" y="243.68" width="26.88" height="4.09" fill="#FF5959"/>
<rect x="87.7" y="243.68" width="26.88" height="4.09" fill="#FF1313"/>
<rect x="114.2" y="243.68" width="26.88" height="4.09" fill="#6060FF"/>
<rect x="140.8" y="243.68" width="26.88" height="4.09" fill="#5959FF"/>
<rect x="167.4" y="243.68" width="26.88" height="4.09" fill="#9999FF"/>
<rect x="34.5" y="247.47" width="26.88" height="4.09" fill="#FFA6A6"/>
<rect x="61.1" y="247.47" width="26.88" height="4.09" fill="#FF6666"/>
<rect x="87.7" y="247.47" width="26.88" height="4.09" fill="#FF0D0D"/>
<rect x="114.2" y="247.47" width="26.88" height="4.09" fill="#7373FF"/>
<rect x="140.8" y="247.47" width="26.88" height="4.09" fill="#5959FF"/>
<rect x="167.4" y="247.47" width="26.88" height="4.09" fill="#4D4DFF"/>
<rect x="34.5" y="251.27" width="26.88" height="4.09" fill="#FFA6A6"/>
<rect x="61.1" y="251.27" width="26.88" height="4.09" fill="#FF7373"/>
<rect x="87.7" y="251.27" width="26.88" height="4.09" fill="#FF0D0D"/>
<rect x="114.2" y="251.27" width="26.88" height="4.09" fill="#8080FF"/>
<rect x="140.8" y="251.27" width="26.88" height="4.09" fill="#5959FF"/>
<rect x="167.4" y="251.27" width="26.88" height="4.09" fill="#5959FF"/>
<rect x="34.5" y="255.06" width="26.88" height="4.09" fill="#FF9999"/>
<rect x="61.1" y="255.06" width="26.88" height="4.09" fill="#FF6666"/>
<rect x="87.7" y="255.06" width="26.88" height="4.09" fill="#FF1919"/>
<rect x="114.2" y="255.06" width="26.88" height="4.09" fill="#8C8CFF"/>
<rect x="140.8" y="255.06" width="26.88" height="4.09" fill="#4D4DFF"/>
<rect x="167.4" y="255.06" width="26.88" height="4.09" fill="#5959FF"/>
<rect x="34.5" y="258.86" width="26.88" height="4.09" fill="#FF8080"/>
<rect x="61.1" y="258.86" width="26.88" height="4.09" fill="#FF8080"/>
<rect x="87.7" y="258.86" width="26.88" height="4.09" fill="#FF1919"/>
<rect x="114.2" y="258.86" width="26.88" height="4.09" fill="#8C8CFF"/>
<rect x="140.8" y="258.86" width="26.88" height="4.09" fill="#5959FF"/>
<rect x="167.4" y="258.86" width="26.88" height="4.09" fill="#3333FF"/>
<rect x="34.5" y="262.65" width="26.88" height="4.09" fill="#FF7373"/>
<rect x="61.1" y="262.65" width="26.88" height="4.09" fill="#FFB2B2"/>
<rect x="87.7" y="262.65" width="26.88" height="4.09" fill="#FF0000"/>
<rect x="114.2" y="262.65" width="26.88" height="4.09" fill="#7373FF"/>
<rect x="140.8" y="262.65" width="26.88" height="4.09" fill="#5959FF"/>
<rect x="167.4" y="262.65" width="26.88" height="4.09" fill="#5959FF"/>
<rect x="34.5" y="266.44" width="26.88" height="4.09" fill="#FF8080"/>
<rect x="61.1" y="266.44" width="26.88" height="4.09" fill="#FFB2B2"/>
<rect x="87.7" y="266.44" width="26.88" height="4.09" fill="#FF0000"/>
<rect x="114.2" y="266.44" width="26.88" height="4.09" fill="#7373FF"/>
<rect x="140.8" y="266.44" width="26.88" height="4.09" fill="#5959FF"/>
<rect x="167.4" y="266.44" width="26.88" height="4.09" fill="#5959FF"/>
<rect x="34.5" y="270.24" width="26.88" height="4.09" fill="#FF7373"/>
<rect x="61.1" y="270.24" width="26.88" height="4.09" fill="#FFB2B2"/>
<rect x="87.7" y="270.24" width="26.88" height="4.09" fill="#FF0000"/>
<rect x="114.2" y="270.24" width="26.88" height="4.09" fill="#6666FF"/>
<rect x="140.8" y="270.24" width="26.88" height="4.09" fill="#6666FF"/>
<rect x="167.4" y="270.24" width="26.88" height="4.09" fill="#6666FF"/>
<rect x="34.5" y="274.03" width="26.88" height="4.09" fill="#FF8C8C"/>
<rect x="61.1" y="274.03" width="26.88" height="4.09" fill="#FFA6A6"/>
<rect x="87.7" y="274.03" width="26.88" height="4.09" fill="#FF0000"/>
<rect x="114.2" y="274.03" width="26.88" height="4.09" fill="#6666FF"/>
<rect x="140.8" y="274.03" width="26.88" height="4.09" fill="#6666FF"/>
<rect x="167.4" y="274.03" width="26.88" height="4.09" fill="#6666FF"/>
<rect x="34.5" y="277.82" width="26.88" height="4.09" fill="#FF9999"/>
<rect x="61.1" y="277.82" width="26.88" height="4.09" fill="#FFA6A6"/>
<rect x="87.7" y="277.82" width="26.88" height="4.09" fill="#FF0000"/>
<rect x="114.2" y="277.82" width="26.88" height="4.09" fill="#5959FF"/>
<rect x="140.8" y="277.82" width="26.88" height="4.09" fill="#8080FF"/>
<rect x="167.4" y="277.82" width="26.88" height="4.09" fill="#6666FF"/>
<rect x="34.5" y="281.62" width="26.88" height="4.09" fill="#FF7373"/>
<rect x="61.1" y="281.62" width="26.88" height="4.09" fill="#FFB2B2"/>
<rect x="87.7" y="281.62" width="26.88" height="4.09" fill="#FF0000"/>
<rect x="114.2" y="281.62" width="26.88" height="4.09" fill="#5959FF"/>
<rect x="140.8" y="281.62" width="26.88" height="4.09" fill="#7373FF"/>
<rect x="167.4" y="281.62" width="26.88" height="4.09" fill="#6666FF"/>
<rect x="34.5" y="285.41" width="26.88" height="4.09" fill="#FF6666"/>
<rect x="61.1" y="285.41" width="26.88" height="4.09" fill="#FFA6A6"/>
<rect x="87.7" y="285.41" width="26.88" height="4.09" fill="#FF0D0D"/>
<rect x="114.2" y="285.41" width="26.88" height="4.09" fill="#4040FF"/>
<rect x="140.8" y="285.41" width="26.88" height="4.09" fill="#9999FF"/>
<rect x="167.4" y="285.41" width="26.88" height="4.09" fill="#4040FF"/>
<rect x="34.5" y="289.21" width="26.88" height="4.09" fill="#FF5959"/>
<rect x="61.1" y="289.21" width="26.88" height="4.09" fill="#FFA6A6"/>
<rect x="87.7" y="289.21" width="26.88" height="4.09" fill="#FF2626"/>
<rect x="114.2" y="289.21" width="26.88" height="4.09" fill="#5959FF"/>
<rect x="140.8" y="289.21" width="26.88" height="4.09" fill="#6666FF"/>
<rect x="167.4" y="289.21" width="26.88" height="4.09" fill="#6666FF"/>
<rect x="34.5" y="293.00" width="26.88" height="4.09" fill="#FF5959"/>
<rect x="61.1" y="293.00" width="26.88" height="4.09" fill="#FF9999"/>
<rect x="87.7" y="293.00" width="26.88" height="4.09" fill="#FF2626"/>
<rect x="114.2" y="293.00" width="26.88" height="4.09" fill="#5959FF"/>
<rect x="140.8" y="293.00" width="26.88" height="4.09" fill="#6666FF"/>
<rect x="167.4" y="293.00" width="26.88" height="4.09" fill="#7373FF"/>
<rect x="34.5" y="296.79" width="26.88" height="4.09" fill="#FF5959"/>
<rect x="61.1" y="296.79" width="26.88" height="4.09" fill="#FFA6A6"/>
<rect x="87.7" y="296.79" width="26.88" height="4.09" fill="#FF2626"/>
<rect x="114.2" y="296.79" width="26.88" height="4.09" fill="#5959FF"/>
<rect x="140.8" y="296.79" width="26.88" height="4.09" fill="#6666FF"/>
<rect x="167.4" y="296.79" width="26.88" height="4.09" fill="#6666FF"/>
<rect x="34.5" y="300.59" width="26.88" height="4.09" fill="#FF4D4D"/>
<rect x="61.1" y="300.59" width="26.88" height="4.09" fill="#FFA6A6"/>
<rect x="87.7" y="300.59" width="26.88" height="4.09" fill="#FF3333"/>
<rect x="114.2" y="300.59" width="26.88" height="4.09" fill="#5959FF"/>
<rect x="140.8" y="300.59" width="26.88" height="4.09" fill="#5959FF"/>
<rect x="167.4" y="300.59" width="26.88" height="4.09" fill="#8080FF"/>
<rect x="34.5" y="304.38" width="26.88" height="4.09" fill="#FF4D4D"/>
<rect x="61.1" y="304.38" width="26.88" height="4.09" fill="#FFA6A6"/>
<rect x="87.7" y="304.38" width="26.88" height="4.09" fill="#FF4040"/>
<rect x="114.2" y="304.38" width="26.88" height="4.09" fill="#5959FF"/>
<rect x="140.8" y="304.38" width="26.88" height="4.09" fill="#5959FF"/>
<rect x="167.4" y="304.38" width="26.88" height="4.09" fill="#5959FF"/>
<rect x="34.5" y="308.17" width="26.88" height="4.09" fill="#FF4040"/>
<rect x="61.1" y="308.17" width="26.88" height="4.09" fill="#FF8080"/>
<rect x="87.7" y="308.17" width="26.88" height="4.09" fill="#FF5959"/>
<rect x="114.2" y="308.17" width="26.88" height="4.09" fill="#7373FF"/>
<rect x="140.8" y="308.17" width="26.88" height="4.09" fill="#7373FF"/>
<rect x="167.4" y="308.17" width="26.88" height="4.09" fill="#3333FF"/>
<rect x="34.5" y="311.97" width="26.88" height="4.09" fill="#FF4040"/>
<rect x="61.1" y="311.97" width="26.88" height="4.09" fill="#FF7373"/>
<rect x="87.7" y="311.97" width="26.88" height="4.09" fill="#FF6666"/>
<rect x="114.2" y="311.97" width="26.88" height="4.09" fill="#4D4DFF"/>
<rect x="140.8" y="311.97" width="26.88" height="4.09" fill="#8C8CFF"/>
<rect x="167.4" y="311.97" width="26.88" height="4.09" fill="#3333FF"/>
<rect x="34.5" y="315.76" width="26.88" height="4.09" fill="#FF3333"/>
<rect x="61.1" y="315.76" width="26.88" height="4.09" fill="#FFB2B2"/>
<rect x="87.7" y="315.76" width="26.88" height="4.09" fill="#FF5959"/>
<rect x="114.2" y="315.76" width="26.88" height="4.09" fill="#7373FF"/>
<rect x="140.8" y="315.76" width="26.88" height="4.09" fill="#8080FF"/>
<rect x="167.4" y="315.76" width="26.88" height="4.09" fill="#5959FF"/>
<rect x="34.5" y="319.55" width="26.88" height="4.09" fill="#FF1919"/>
<rect x="61.1" y="319.55" width="26.88" height="4.09" fill="#FFBFBF"/>
<rect x="87.7" y="319.55" width="26.88" height="4.09" fill="#FF6666"/>
<rect x="114.2" y="319.55" width="26.88" height="4.09" fill="#6666FF"/>
<rect x="140.8" y="319.55" width="26.88" height="4.09" fill="#8080FF"/>
<rect x="167.4" y="319.55" width="26.88" height="4.09" fill="#6666FF"/>
<rect x="34.5" y="323.35" width="26.88" height="4.09" fill="#FF1919"/>
<rect x="61.1" y="323.35" width="26.88" height="4.09" fill="#FFB2B2"/>
<rect x="87.7" y="323.35" width="26.88" height="4.09" fill="#FF6666"/>
<rect x="114.2" y="323.35" width="26.88" height="4.09" fill="#6666FF"/>
<rect x="140.8" y="323.35" width="26.88" height="4.09" fill="#8080FF"/>
<rect x="167.4" y="323.35" width="26.88" height="4.09" fill="#6666FF"/>
<rect x="34.5" y="327.14" width="26.88" height="4.09" fill="#FF1919"/>
<rect x="61.1" y="327.14" width="26.88" height="4.09" fill="#FFB2B2"/>
<rect x="87.7" y="327.14" width="26.88" height="4.09" fill="#FF5959"/>
<rect x="114.2" y="327.14" width="26.88" height="4.09" fill="#6666FF"/>
<rect x="140.8" y="327.14" width="26.88" height="4.09" fill="#7373FF"/>
<rect x="167.4" y="327.14" width="26.88" height="4.09" fill="#6666FF"/>
<rect x="34.5" y="330.94" width="26.88" height="4.09" fill="#FFE6E6"/>
<rect x="61.1" y="330.94" width="26.88" height="4.09" fill="#FFB2B2"/>
<rect x="87.7" y="330.94" width="26.88" height="4.09" fill="#FF0000"/>
<rect x="114.2" y="330.94" width="26.88" height="4.09" fill="#7373FF"/>
<rect x="140.8" y="330.94" width="26.88" height="4.09" fill="#8080FF"/>
<rect x="167.4" y="330.94" width="26.88" height="4.09" fill="#6666FF"/>
<rect x="34.5" y="334.73" width="26.88" height="4.09" fill="#FFE6E6"/>
<rect x="61.1" y="334.73" width="26.88" height="4.09" fill="#FFB2B2"/>
<rect x="87.7" y="334.73" width="26.88" height="4.09" fill="#FF0000"/>
<rect x="114.2" y="334.73" width="26.88" height="4.09" fill="#8080FF"/>
<rect x="140.8" y="334.73" width="26.88" height="4.09" fill="#8080FF"/>
<rect x="167.4" y="334.73" width="26.88" height="4.09" fill="#8C8CFF"/>
<rect x="34.5" y="338.52" width="26.88" height="4.09" fill="#FFECEC"/>
<rect x="61.1" y="338.52" width="26.88" height="4.09" fill="#FFBFBF"/>
<rect x="87.7" y="338.52" width="26.88" height="4.09" fill="#FF0000"/>
<rect x="114.2" y="338.52" width="26.88" height="4.09" fill="#8080FF"/>
<rect x="140.8" y="338.52" width="26.88" height="4.09" fill="#8080FF"/>
<rect x="167.4" y="338.52" width="26.88" height="4.09" fill="#7373FF"/>
<rect x="34.5" y="342.32" width="26.88" height="4.09" fill="#FFF2F2"/>
<rect x="61.1" y="342.32" width="26.88" height="4.09" fill="#FF6666"/>
<rect x="87.7" y="342.32" width="26.88" height="4.09" fill="#FF0000"/>
<rect x="114.2" y="342.32" width="26.88" height="4.09" fill="#6666FF"/>
<rect x="140.8" y="342.32" width="26.88" height="4.09" fill="#8080FF"/>
<rect x="167.4" y="342.32" width="26.88" height="4.09" fill="#6666FF"/>
<rect x="34.5" y="346.11" width="26.88" height="4.09" fill="#F2F2FF"/>
<rect x="61.1" y="346.11" width="26.88" height="4.09" fill="#FF6666"/>
<rect x="87.7" y="346.11" width="26.88" height="4.09" fill="#FF0000"/>
<rect x="114.2" y="346.11" width="26.88" height="4.09" fill="#8080FF"/>
<rect x="140.8" y="346.11" width="26.88" height="4.09" fill="#8080FF"/>
<rect x="167.4" y="346.11" width="26.88" height="4.09" fill="#5959FF"/>
<rect x="34.5" y="349.90" width="26.88" height="4.09" fill="#BFBFFF"/>
<rect x="61.1" y="349.90" width="26.88" height="4.09" fill="#FF9999"/>
<rect x="87.7" y="349.90" width="26.88" height="4.09" fill="#FF0000"/>
<rect x="114.2" y="349.90" width="26.88" height="4.09" fill="#8080FF"/>
<rect x="140.8" y="349.90" width="26.88" height="4.09" fill="#8080FF"/>
<rect x="167.4" y="349.90" width="26.88" height="4.09" fill="#7373FF"/>
<rect x="34.5" y="353.70" width="26.88" height="4.09" fill="#B2B2FF"/>
<rect x="61.1" y="353.70" width="26.88" height="4.09" fill="#FFF2F2"/>
<rect x="87.7" y="353.70" width="26.88" height="4.09" fill="#FF0000"/>
<rect x="114.2" y="353.70" width="26.88" height="4.09" fill="#8080FF"/>
<rect x="140.8" y="353.70" width="26.88" height="4.09" fill="#8C8CFF"/>
<rect x="167.4" y="353.70" width="26.88" height="4.09" fill="#7373FF"/>
<rect x="34.5" y="357.49" width="26.88" height="4.09" fill="#FF4D4D"/>
<rect x="61.1" y="357.49" width="26.88" height="4.09" fill="#D9D9FF"/>
<rect x="87.7" y="357.49" width="26.88" height="4.09" fill="#FF0000"/>
<rect x="114.2" y="357.49" width="26.88" height="4.09" fill="#8080FF"/>
<rect x="140.8" y="357.49" width="26.88" height="4.09" fill="#8080FF"/>
<rect x="167.4" y="357.49" width="26.88" height="4.09" fill="#6666FF"/>
<rect x="34.5" y="361.29" width="26.88" height="4.09" fill="#FF5959"/>
<rect x="61.1" y="361.29" width="26.88" height="4.09" fill="#BFBFFF"/>
<rect x="87.7" y="361.29" width="26.88" height="4.09" fill="#FF0000"/>
<rect x="114.2" y="361.29" width="26.88" height="4.09" fill="#8080FF"/>
<rect x="140.8" y="361.29" width="26.88" height="4.09" fill="#8080FF"/>
<rect x="167.4" y="361.29" width="26.88" height="4.09" fill="#8080FF"/>
<rect x="34.5" y="365.08" width="26.88" height="4.09" fill="#FFFFFF"/>
<rect x="61.1" y="365.08" width="26.88" height="4.09" fill="#BFBFFF"/>
<rect x="87.7" y="365.08" width="26.88" height="4.09" fill="#FF0000"/>
<rect x="114.2" y="365.08" width="26.88" height="4.09" fill="#9999FF"/>
<rect x="140.8" y="365.08" width="26.88" height="4.09" fill="#9999FF"/>
<rect x="167.4" y="365.08" width="26.88" height="4.09" fill="#9999FF"/>
<rect x="34.5" y="368.87" width="26.88" height="4.09" fill="#FFFFFF"/>
<rect x="61.1" y="368.87" width="26.88" height="4.09" fill="#BFBFFF"/>
<rect x="87.7" y="368.87" width="26.88" height="4.09" fill="#FF0000"/>
<rect x="114.2" y="368.87" width="26.88" height="4.09" fill="#9999FF"/>
<rect x="140.8" y="368.87" width="26.88" height="4.09" fill="#9999FF"/>
<rect x="167.4" y="368.87" width="26.88" height="4.09" fill="#A6A6FF"/>
<rect x="34.5" y="372.67" width="26.88" height="4.09" fill="#F2F2FF"/>
<rect x="61.1" y="372.67" width="26.88" height="4.09" fill="#B2B2FF"/>
<rect x="87.7" y="372.67" width="26.88" height="4.09" fill="#FF0000"/>
<rect x="114.2" y="372.67" width="26.88" height="4.09" fill="#9999FF"/>
<rect x="140.8" y="372.67" width="26.88" height="4.09" fill="#9999FF"/>
<rect x="167.4" y="372.67" width="26.88" height="4.09" fill="#A6A6FF"/>
<rect x="34.5" y="376.46" width="26.88" height="4.09" fill="#E6E6FF"/>
<rect x="61.1" y="376.46" width="26.88" height="4.09" fill="#FFE6E6"/>
<rect x="87.7" y="376.46" width="26.88" height="4.09" fill="#FF0000"/>
<rect x="114.2" y="376.46" width="26.88" height="4.09" fill="#9999FF"/>
<rect x="140.8" y="376.46" width="26.88" height="4.09" fill="#9999FF"/>
<rect x="167.4" y="376.46" width="26.88" height="4.09" fill="#9999FF"/>
<rect x="34.5" y="380.25" width="26.88" height="4.09" fill="#FFB2B2"/>
<rect x="61.1" y="380.25" width="26.88" height="4.09" fill="#FF0000"/>
<rect x="87.7" y="380.25" width="26.88" height="4.09" fill="#FFA6A6"/>
<rect x="114.2" y="380.25" width="26.88" height="4.09" fill="#5959FF"/>
<rect x="140.8" y="380.25" width="26.88" height="4.09" fill="#6666FF"/>
<rect x="167.4" y="380.25" width="26.88" height="4.09" fill="#6666FF"/>
<rect x="34.5" y="384.05" width="26.88" height="4.09" fill="#FFB2B2"/>
<rect x="61.1" y="384.05" width="26.88" height="4.09" fill="#FF0000"/>
<rect x="87.7" y="384.05" width="26.88" height="4.09" fill="#FFBFBF"/>
<rect x="114.2" y="384.05" width="26.88" height="4.09" fill="#5959FF"/>
<rect x="140.8" y="384.05" width="26.88" height="4.09" fill="#6666FF"/>
<rect x="167.4" y="384.05" width="26.88" height="4.09" fill="#6666FF"/>
<rect x="34.5" y="387.84" width="26.88" height="4.09" fill="#FF8080"/>
<rect x="61.1" y="387.84" width="26.88" height="4.09" fill="#FF0000"/>
<rect x="87.7" y="387.84" width="26.88" height="4.09" fill="#FFBFBF"/>
<rect x="114.2" y="387.84" width="26.88" height="4.09" fill="#3333FF"/>
<rect x="140.8" y="387.84" width="26.88" height="4.09" fill="#6666FF"/>
<rect x="167.4" y="387.84" width="26.88" height="4.09" fill="#6666FF"/>
<rect x="34.5" y="391.64" width="26.88" height="4.09" fill="#FF6666"/>
<rect x="61.1" y="391.64" width="26.88" height="4.09" fill="#FF0000"/>
<rect x="87.7" y="391.64" width="26.88" height="4.09" fill="#FFF2F2"/>
<rect x="114.2" y="391.64" width="26.88" height="4.09" fill="#6666FF"/>
<rect x="140.8" y="391.64" width="26.88" height="4.09" fill="#7373FF"/>
<rect x="167.4" y="391.64" width="26.88" height="4.09" fill="#6666FF"/>
<rect x="34.5" y="395.43" width="26.88" height="4.09" fill="#FFB2B2"/>
<rect x="61.1" y="395.43" width="26.88" height="4.09" fill="#FF0000"/>
<rect x="87.7" y="395.43" width="26.88" height="4.09" fill="#FFFFFF"/>
<rect x="114.2" y="395.43" width="26.88" height="4.09" fill="#7373FF"/>
<rect x="140.8" y="395.43" width="26.88" height="4.09" fill="#7373FF"/>
<rect x="167.4" y="395.43" width="26.88" height="4.09" fill="#7373FF"/>
<rect x="34.5" y="399.22" width="26.88" height="4.09" fill="#FFCCCC"/>
<rect x="61.1" y="399.22" width="26.88" height="4.09" fill="#FF0000"/>
<rect x="87.7" y="399.22" width="26.88" height="4.09" fill="#FFF9F9"/>
<rect x="114.2" y="399.22" width="26.88" height="4.09" fill="#8080FF"/>
<rect x="140.8" y="399.22" width="26.88" height="4.09" fill="#8080FF"/>
<rect x="167.4" y="399.22" width="26.88" height="4.09" fill="#8080FF"/>
<rect x="34.5" y="403.02" width="26.88" height="4.09" fill="#E6E6FF"/>
<rect x="61.1" y="403.02" width="26.88" height="4.09" fill="#FF0000"/>
<rect x="87.7" y="403.02" width="26.88" height="4.09" fill="#D9D9FF"/>
<rect x="114.2" y="403.02" width="26.88" height="4.09" fill="#8080FF"/>
<rect x="140.8" y="403.02" width="26.88" height="4.09" fill="#8080FF"/>
<rect x="167.4" y="403.02" width="26.88" height="4.09" fill="#8C8CFF"/>
<rect x="34.5" y="406.81" width="26.88" height="4.09" fill="#FFD9D9"/>
<rect x="61.1" y="406.81" width="26.88" height="4.09" fill="#FF0000"/>
<rect x="87.7" y="406.81" width="26.88" height="4.09" fill="#FFF2F2"/>
<rect x="114.2" y="406.81" width="26.88" height="4.09" fill="#8080FF"/>
<rect x="140.8" y="406.81" width="26.88" height="4.09" fill="#8080FF"/>
<rect x="167.4" y="406.81" width="26.88" height="4.09" fill="#8C8CFF"/>
<rect x="34.5" y="410.60" width="26.88" height="4.09" fill="#F2F2FF"/>
<rect x="61.1" y="410.60" width="26.88" height="4.09" fill="#FF0000"/>
<rect x="87.7" y="410.60" width="26.88" height="4.09" fill="#FF5959"/>
<rect x="114.2" y="410.60" width="26.88" height="4.09" fill="#6666FF"/>
<rect x="140.8" y="410.60" width="26.88" height="4.09" fill="#6666FF"/>
<rect x="167.4" y="410.60" width="26.88" height="4.09" fill="#6666FF"/>
<rect x="34.5" y="414.40" width="26.88" height="4.09" fill="#F2F2FF"/>
<rect x="61.1" y="414.40" width="26.88" height="4.09" fill="#FF0000"/>
<rect x="87.7" y="414.40" width="26.88" height="4.09" fill="#FF4D4D"/>
<rect x="114.2" y="414.40" width="26.88" height="4.09" fill="#6666FF"/>
<rect x="140.8" y="414.40" width="26.88" height="4.09" fill="#6666FF"/>
<rect x="167.4" y="414.40" width="26.88" height="4.09" fill="#6666FF"/>
<rect x="34.5" y="418.19" width="26.88" height="4.09" fill="#FFBFBF"/>
<rect x="61.1" y="418.19" width="26.88" height="4.09" fill="#FF0000"/>
<rect x="87.7" y="418.19" width="26.88" height="4.09" fill="#FF3333"/>
<rect x="114.2" y="418.19" width="26.88" height="4.09" fill="#6666FF"/>
<rect x="140.8" y="418.19" width="26.88" height="4.09" fill="#6666FF"/>
<rect x="167.4" y="418.19" width="26.88" height="4.09" fill="#6666FF"/>
<rect x="34.5" y="421.98" width="26.88" height="4.09" fill="#A6A6FF"/>
<rect x="61.1" y="421.98" width="26.88" height="4.09" fill="#FF0000"/>
<rect x="87.7" y="421.98" width="26.88" height="4.09" fill="#FF4D4D"/>
<rect x="114.2" y="421.98" width="26.88" height="4.09" fill="#8C8CFF"/>
<rect x="140.8" y="421.98" width="26.88" height="4.09" fill="#8C8CFF"/>
<rect x="167.4" y="421.98" width="26.88" height="4.09" fill="#8C8CFF"/>
<rect x="34.5" y="425.78" width="26.88" height="4.09" fill="#B2B2FF"/>
<rect x="61.1" y="425.78" width="26.88" height="4.09" fill="#FF0000"/>
<rect x="87.7" y="425.78" width="26.88" height="4.09" fill="#FF4D4D"/>
<rect x="114.2" y="425.78" width="26.88" height="4.09" fill="#8C8CFF"/>
<rect x="140.8" y="425.78" width="26.88" height="4.09" fill="#8C8CFF"/>
<rect x="167.4" y="425.78" width="26.88" height="4.09" fill="#8C8CFF"/>
<rect x="34.5" y="429.57" width="26.88" height="4.09" fill="#FF3333"/>
<rect x="61.1" y="429.57" width="26.88" height="4.09" fill="#FF4040"/>
<rect x="87.7" y="429.57" width="26.88" height="4.09" fill="#FFA6A6"/>
<rect x="114.2" y="429.57" width="26.88" height="4.09" fill="#6666FF"/>
<rect x="140.8" y="429.57" width="26.88" height="4.09" fill="#7373FF"/>
<rect x="167.4" y="429.57" width="26.88" height="4.09" fill="#6666FF"/>
<rect x="34.5" y="433.37" width="26.88" height="4.09" fill="#FF2626"/>
<rect x="61.1" y="433.37" width="26.88" height="4.09" fill="#FF4D4D"/>
<rect x="87.7" y="433.37" width="26.88" height="4.09" fill="#FFA6A6"/>
<rect x="114.2" y="433.37" width="26.88" height="4.09" fill="#6666FF"/>
<rect x="140.8" y="433.37" width="26.88" height="4.09" fill="#8080FF"/>
<rect x="167.4" y="433.37" width="26.88" height="4.09" fill="#4040FF"/>
<rect x="34.5" y="437.16" width="26.88" height="4.09" fill="#FF1919"/>
<rect x="61.1" y="437.16" width="26.88" height="4.09" fill="#FF3333"/>
<rect x="87.7" y="437.16" width="26.88" height="4.09" fill="#F2F2FF"/>
<rect x="114.2" y="437.16" width="26.88" height="4.09" fill="#7373FF"/>
<rect x="140.8" y="437.16" width="26.88" height="4.09" fill="#7373FF"/>
<rect x="167.4" y="437.16" width="26.88" height="4.09" fill="#7373FF"/>
<rect x="34.5" y="440.95" width="26.88" height="4.09" fill="#FF0000"/>
<rect x="61.1" y="440.95" width="26.88" height="4.09" fill="#FF3333"/>
<rect x="87.7" y="440.95" width="26.88" height="4.09" fill="#D9D9FF"/>
<rect x="114.2" y="440.95" width="26.88" height="4.09" fill="#7373FF"/>
<rect x="140.8" y="440.95" width="26.88" height="4.09" fill="#7373FF"/>
<rect x="167.4" y="440.95" width="26.88" height="4.09" fill="#7373FF"/>
<rect x="34.5" y="444.75" width="26.88" height="4.09" fill="#FF0000"/>
<rect x="61.1" y="444.75" width="26.88" height="4.09" fill="#FF8080"/>
<rect x="87.7" y="444.75" width="26.88" height="4.09" fill="#FF8C8C"/>
<rect x="114.2" y="444.75" width="26.88" height="4.09" fill="#4040FF"/>
<rect x="140.8" y="444.75" width="26.88" height="4.09" fill="#6666FF"/>
<rect x="167.4" y="444.75" width="26.88" height="4.09" fill="#8080FF"/>
<rect x="34.5" y="448.54" width="26.88" height="4.09" fill="#FF0000"/>
<rect x="61.1" y="448.54" width="26.88" height="4.09" fill="#FF7373"/>
<rect x="87.7" y="448.54" width="26.88" height="4.09" fill="#FFA6A6"/>
<rect x="114.2" y="448.54" width="26.88" height="4.09" fill="#6666FF"/>
<rect x="140.8" y="448.54" width="26.88" height="4.09" fill="#6666FF"/>
<rect x="167.4" y="448.54" width="26.88" height="4.09" fill="#6666FF"/>
<rect x="34.5" y="452.33" width="26.88" height="4.09" fill="#FF0000"/>
<rect x="61.1" y="452.33" width="26.88" height="4.09" fill="#FFCCCC"/>
<rect x="87.7" y="452.33" width="26.88" height="4.09" fill="#FFB2B2"/>
<rect x="114.2" y="452.33" width="26.88" height="4.09" fill="#6666FF"/>
<rect x="140.8" y="452.33" width="26.88" height="4.09" fill="#6666FF"/>
<rect x="167.4" y="452.33" width="26.88" height="4.09" fill="#6666FF"/>
<rect x="34.5" y="456.13" width="26.88" height="4.09" fill="#FF0000"/>
<rect x="61.1" y="456.13" width="26.88" height="4.09" fill="#E6E6FF"/>
<rect x="87.7" y="456.13" width="26.88" height="4.09" fill="#FF8080"/>
<rect x="114.2" y="456.13" width="26.88" height="4.09" fill="#6666FF"/>
<rect x="140.8" y="456.13" width="26.88" height="4.09" fill="#6666FF"/>
<rect x="167.4" y="456.13" width="26.88" height="4.09" fill="#7373FF"/>
<rect x="34.5" y="459.92" width="26.88" height="4.09" fill="#FF0000"/>
<rect x="61.1" y="459.92" width="26.88" height="4.09" fill="#B2B2FF"/>
<rect x="87.7" y="459.92" width="26.88" height="4.09" fill="#FFB2B2"/>
<rect x="114.2" y="459.92" width="26.88" height="4.09" fill="#8C8CFF"/>
<rect x="140.8" y="459.92" width="26.88" height="4.09" fill="#8C8CFF"/>
<rect x="167.4" y="459.92" width="26.88" height="4.09" fill="#8C8CFF"/>
<rect x="34.5" y="463.72" width="26.88" height="4.09" fill="#FF0000"/>
<rect x="61.1" y="463.72" width="26.88" height="4.09" fill="#BFBFFF"/>
<rect x="87.7" y="463.72" width="26.88" height="4.09" fill="#FF4040"/>
<rect x="114.2" y="463.72" width="26.88" height="4.09" fill="#8C8CFF"/>
<rect x="140.8" y="463.72" width="26.88" height="4.09" fill="#8C8CFF"/>
<rect x="167.4" y="463.72" width="26.88" height="4.09" fill="#8C8CFF"/>
<rect x="34.5" y="467.51" width="26.88" height="4.09" fill="#FF0000"/>
<rect x="61.1" y="467.51" width="26.88" height="4.09" fill="#A6A6FF"/>
<rect x="87.7" y="467.51" width="26.88" height="4.09" fill="#FF4040"/>
<rect x="114.2" y="467.51" width="26.88" height="4.09" fill="#9999FF"/>
<rect x="140.8" y="467.51" width="26.88" height="4.09" fill="#9999FF"/>
<rect x="167.4" y="467.51" width="26.88" height="4.09" fill="#9999FF"/>
<rect x="34.5" y="471.30" width="26.88" height="4.09" fill="#FF0000"/>
<rect x="61.1" y="471.30" width="26.88" height="4.09" fill="#F9F9FF"/>
<rect x="87.7" y="471.30" width="26.88" height="4.09" fill="#CCCCFF"/>
<rect x="114.2" y="471.30" width="26.88" height="4.09" fill="#9999FF"/>
<rect x="140.8" y="471.30" width="26.88" height="4.09" fill="#9999FF"/>
<rect x="167.4" y="471.30" width="26.88" height="4.09" fill="#9999FF"/>
<rect x="34.5" y="475.10" width="26.88" height="4.09" fill="#FF0000"/>
<rect x="61.1" y="475.10" width="26.88" height="4.09" fill="#FFFFFF"/>
<rect x="87.7" y="475.10" width="26.88" height="4.09" fill="#BFBFFF"/>
<rect x="114.2" y="475.10" width="26.88" height="4.09" fill="#9999FF"/>
<rect x="140.8" y="475.10" width="26.88" height="4.09" fill="#9999FF"/>
<rect x="167.4" y="475.10" width="26.88" height="4.09" fill="#9999FF"/>
<rect x="34.5" y="478.89" width="26.88" height="4.09" fill="#FF3333"/>
<rect x="61.1" y="478.89" width="26.88" height="4.09" fill="#2626FF"/>
<rect x="87.7" y="478.89" width="26.88" height="4.09" fill="#4040FF"/>
<rect x="114.2" y="478.89" width="26.88" height="4.09" fill="#F9F9FF"/>
<rect x="140.8" y="478.89" width="26.88" height="4.09" fill="#FFD9D9"/>
<rect x="167.4" y="478.89" width="26.88" height="4.09" fill="#FF3333"/>
<rect x="34.5" y="482.68" width="26.88" height="4.09" fill="#8C8CFF"/>
<rect x="61.1" y="482.68" width="26.88" height="4.09" fill="#8080FF"/>
<rect x="87.7" y="482.68" width="26.88" height="4.09" fill="#8C8CFF"/>
<rect x="114.2" y="482.68" width="26.88" height="4.09" fill="#FFBFBF"/>
<rect x="140.8" y="482.68" width="26.88" height="4.09" fill="#D9D9FF"/>
<rect x="167.4" y="482.68" width="26.88" height="4.09" fill="#FF0000"/>
<rect x="34.5" y="486.48" width="26.88" height="4.09" fill="#8C8CFF"/>
<rect x="61.1" y="486.48" width="26.88" height="4.09" fill="#8080FF"/>
<rect x="87.7" y="486.48" width="26.88" height="4.09" fill="#6666FF"/>
<rect x="114.2" y="486.48" width="26.88" height="4.09" fill="#FFB2B2"/>
<rect x="140.8" y="486.48" width="26.88" height="4.09" fill="#D9D9FF"/>
<rect x="167.4" y="486.48" width="26.88" height="4.09" fill="#FF0000"/>
<rect x="34.5" y="490.27" width="26.88" height="4.09" fill="#8080FF"/>
<rect x="61.1" y="490.27" width="26.88" height="4.09" fill="#7373FF"/>
<rect x="87.7" y="490.27" width="26.88" height="4.09" fill="#7373FF"/>
<rect x="114.2" y="490.27" width="26.88" height="4.09" fill="#FF6666"/>
<rect x="140.8" y="490.27" width="26.88" height="4.09" fill="#F2F2FF"/>
<rect x="167.4" y="490.27" width="26.88" height="4.09" fill="#FF0000"/>
<rect x="34.5" y="494.06" width="26.88" height="4.09" fill="#8080FF"/>
<rect x="61.1" y="494.06" width="26.88" height="4.09" fill="#4040FF"/>
<rect x="87.7" y="494.06" width="26.88" height="4.09" fill="#8C8CFF"/>
<rect x="114.2" y="494.06" width="26.88" height="4.09" fill="#FF6666"/>
<rect x="140.8" y="494.06" width="26.88" height="4.09" fill="#FFF2F2"/>
<rect x="167.4" y="494.06" width="26.88" height="4.09" fill="#FF0000"/>
<rect x="34.5" y="497.86" width="26.88" height="4.09" fill="#7373FF"/>
<rect x="61.1" y="497.86" width="26.88" height="4.09" fill="#7373FF"/>
<rect x="87.7" y="497.86" width="26.88" height="4.09" fill="#4D4DFF"/>
<rect x="114.2" y="497.86" width="26.88" height="4.09" fill="#FF7373"/>
<rect x="140.8" y="497.86" width="26.88" height="4.09" fill="#FFE6E6"/>
<rect x="167.4" y="497.86" width="26.88" height="4.09" fill="#FF0000"/>
<rect x="34.5" y="501.65" width="26.88" height="4.09" fill="#8C8CFF"/>
<rect x="61.1" y="501.65" width="26.88" height="4.09" fill="#5959FF"/>
<rect x="87.7" y="501.65" width="26.88" height="4.09" fill="#5959FF"/>
<rect x="114.2" y="501.65" width="26.88" height="4.09" fill="#FF7373"/>
<rect x="140.8" y="501.65" width="26.88" height="4.09" fill="#FFD9D9"/>
<rect x="167.4" y="501.65" width="26.88" height="4.09" fill="#FF0000"/>
<rect x="34.5" y="505.45" width="26.88" height="4.09" fill="#8C8CFF"/>
<rect x="61.1" y="505.45" width="26.88" height="4.09" fill="#5959FF"/>
<rect x="87.7" y="505.45" width="26.88" height="4.09" fill="#5959FF"/>
<rect x="114.2" y="505.45" width="26.88" height="4.09" fill="#FF6666"/>
<rect x="140.8" y="505.45" width="26.88" height="4.09" fill="#FFCCCC"/>
<rect x="167.4" y="505.45" width="26.88" height="4.09" fill="#FF0000"/>
<rect x="34.5" y="509.24" width="26.88" height="4.09" fill="#8080FF"/>
<rect x="61.1" y="509.24" width="26.88" height="4.09" fill="#7373FF"/>
<rect x="87.7" y="509.24" width="26.88" height="4.09" fill="#8C8CFF"/>
<rect x="114.2" y="509.24" width="26.88" height="4.09" fill="#FF0000"/>
<rect x="140.8" y="509.24" width="26.88" height="4.09" fill="#FFCCCC"/>
<rect x="167.4" y="509.24" width="26.88" height="4.09" fill="#FFFFFF"/>
<rect x="34.5" y="513.03" width="26.88" height="4.09" fill="#8080FF"/>
<rect x="61.1" y="513.03" width="26.88" height="4.09" fill="#7373FF"/>
<rect x="87.7" y="513.03" width="26.88" height="4.09" fill="#8C8CFF"/>
<rect x="114.2" y="513.03" width="26.88" height="4.09" fill="#FF0000"/>
<rect x="140.8" y="513.03" width="26.88" height="4.09" fill="#FF8080"/>
<rect x="167.4" y="513.03" width="26.88" height="4.09" fill="#CCCCFF"/>
<rect x="34.5" y="516.83" width="26.88" height="4.09" fill="#8C8CFF"/>
<rect x="61.1" y="516.83" width="26.88" height="4.09" fill="#7373FF"/>
<rect x="87.7" y="516.83" width="26.88" height="4.09" fill="#8C8CFF"/>
<rect x="114.2" y="516.83" width="26.88" height="4.09" fill="#FF0000"/>
<rect x="140.8" y="516.83" width="26.88" height="4.09" fill="#FF8080"/>
<rect x="167.4" y="516.83" width="26.88" height="4.09" fill="#CCCCFF"/>
<rect x="34.5" y="520.62" width="26.88" height="4.09" fill="#8C8CFF"/>
<rect x="61.1" y="520.62" width="26.88" height="4.09" fill="#8080FF"/>
<rect x="87.7" y="520.62" width="26.88" height="4.09" fill="#8C8CFF"/>
<rect x="114.2" y="520.62" width="26.88" height="4.09" fill="#FF0000"/>
<rect x="140.8" y="520.62" width="26.88" height="4.09" fill="#D9D9FF"/>
<rect x="167.4" y="520.62" width="26.88" height="4.09" fill="#FFCCCC"/>
<rect x="34.5" y="524.41" width="26.88" height="4.09" fill="#7373FF"/>
<rect x="61.1" y="524.41" width="26.88" height="4.09" fill="#8080FF"/>
<rect x="87.7" y="524.41" width="26.88" height="4.09" fill="#8C8CFF"/>
<rect x="114.2" y="524.41" width="26.88" height="4.09" fill="#FF0000"/>
<rect x="140.8" y="524.41" width="26.88" height="4.09" fill="#CCCCFF"/>
<rect x="167.4" y="524.41" width="26.88" height="4.09" fill="#FF8C8C"/>
<rect x="34.5" y="528.21" width="26.88" height="4.09" fill="#8C8CFF"/>
<rect x="61.1" y="528.21" width="26.88" height="4.09" fill="#8080FF"/>
<rect x="87.7" y="528.21" width="26.88" height="4.09" fill="#8C8CFF"/>
<rect x="114.2" y="528.21" width="26.88" height="4.09" fill="#FF0000"/>
<rect x="140.8" y="528.21" width="26.88" height="4.09" fill="#D9D9FF"/>
<rect x="167.4" y="528.21" width="26.88" height="4.09" fill="#FF8C8C"/>
<rect x="34.5" y="532.00" width="26.88" height="4.09" fill="#8C8CFF"/>
<rect x="61.1" y="532.00" width="26.88" height="4.09" fill="#8C8CFF"/>
<rect x="87.7" y="532.00" width="26.88" height="4.09" fill="#8080FF"/>
<rect x="114.2" y="532.00" width="26.88" height="4.09" fill="#FF0000"/>
<rect x="140.8" y="532.00" width="26.88" height="4.09" fill="#CCCCFF"/>
<rect x="167.4" y="532.00" width="26.88" height="4.09" fill="#FF8C8C"/>
<rect x="34.5" y="535.80" width="26.88" height="4.09" fill="#8C8CFF"/>
<rect x="61.1" y="535.80" width="26.88" height="4.09" fill="#8080FF"/>
<rect x="87.7" y="535.80" width="26.88" height="4.09" fill="#4040FF"/>
<rect x="114.2" y="535.80" width="26.88" height="4.09" fill="#FF0000"/>
<rect x="140.8" y="535.80" width="26.88" height="4.09" fill="#FFB2B2"/>
<rect x="167.4" y="535.80" width="26.88" height="4.09" fill="#FFB2B2"/>
<rect x="34.5" y="539.59" width="26.88" height="4.09" fill="#8080FF"/>
<rect x="61.1" y="539.59" width="26.88" height="4.09" fill="#8080FF"/>
<rect x="87.7" y="539.59" width="26.88" height="4.09" fill="#6666FF"/>
<rect x="114.2" y="539.59" width="26.88" height="4.09" fill="#FF0000"/>
<rect x="140.8" y="539.59" width="26.88" height="4.09" fill="#FFCCCC"/>
<rect x="167.4" y="539.59" width="26.88" height="4.09" fill="#FF8080"/>
<rect x="34.5" y="543.38" width="26.88" height="4.09" fill="#7373FF"/>
<rect x="61.1" y="543.38" width="26.88" height="4.09" fill="#8080FF"/>
<rect x="87.7" y="543.38" width="26.88" height="4.09" fill="#7373FF"/>
<rect x="114.2" y="543.38" width="26.88" height="4.09" fill="#FF0000"/>
<rect x="140.8" y="543.38" width="26.88" height="4.09" fill="#FFBFBF"/>
<rect x="167.4" y="543.38" width="26.88" height="4.09" fill="#FF8C8C"/>
<rect x="34.5" y="547.18" width="26.88" height="4.09" fill="#7373FF"/>
<rect x="61.1" y="547.18" width="26.88" height="4.09" fill="#9999FF"/>
<rect x="87.7" y="547.18" width="26.88" height="4.09" fill="#5959FF"/>
<rect x="114.2" y="547.18" width="26.88" height="4.09" fill="#FF0000"/>
<rect x="140.8" y="547.18" width="26.88" height="4.09" fill="#E6E6FF"/>
<rect x="167.4" y="547.18" width="26.88" height="4.09" fill="#FF5959"/>
<rect x="34.5" y="550.97" width="26.88" height="4.09" fill="#6666FF"/>
<rect x="61.1" y="550.97" width="26.88" height="4.09" fill="#6666FF"/>
<rect x="87.7" y="550.97" width="26.88" height="4.09" fill="#5959FF"/>
<rect x="114.2" y="550.97" width="26.88" height="4.09" fill="#FF0000"/>
<rect x="140.8" y="550.97" width="26.88" height="4.09" fill="#FFE6E6"/>
<rect x="167.4" y="550.97" width="26.88" height="4.09" fill="#FF5959"/>
<rect x="34.5" y="554.76" width="26.88" height="4.09" fill="#7373FF"/>
<rect x="61.1" y="554.76" width="26.88" height="4.09" fill="#4040FF"/>
<rect x="87.7" y="554.76" width="26.88" height="4.09" fill="#3333FF"/>
<rect x="114.2" y="554.76" width="26.88" height="4.09" fill="#FF3333"/>
<rect x="140.8" y="554.76" width="26.88" height="4.09" fill="#FFCCCC"/>
<rect x="167.4" y="554.76" width="26.88" height="4.09" fill="#FF5959"/>
<rect x="34.5" y="558.56" width="26.88" height="4.09" fill="#A6A6FF"/>
<rect x="61.1" y="558.56" width="26.88" height="4.09" fill="#9999FF"/>
<rect x="87.7" y="558.56" width="26.88" height="4.09" fill="#9999FF"/>
<rect x="114.2" y="558.56" width="26.88" height="4.09" fill="#BFBFFF"/>
<rect x="140.8" y="558.56" width="26.88" height="4.09" fill="#FF0000"/>
<rect x="167.4" y="558.56" width="26.88" height="4.09" fill="#FFBFBF"/>
<rect x="34.5" y="562.35" width="26.88" height="4.09" fill="#9999FF"/>
<rect x="61.1" y="562.35" width="26.88" height="4.09" fill="#9999FF"/>
<rect x="87.7" y="562.35" width="26.88" height="4.09" fill="#9999FF"/>
<rect x="114.2" y="562.35" width="26.88" height="4.09" fill="#F2F2FF"/>
<rect x="140.8" y="562.35" width="26.88" height="4.09" fill="#FF0000"/>
<rect x="167.4" y="562.35" width="26.88" height="4.09" fill="#FFCCCC"/>
<rect x="34.5" y="566.15" width="26.88" height="4.09" fill="#9999FF"/>
<rect x="61.1" y="566.15" width="26.88" height="4.09" fill="#9999FF"/>
<rect x="87.7" y="566.15" width="26.88" height="4.09" fill="#9999FF"/>
<rect x="114.2" y="566.15" width="26.88" height="4.09" fill="#F9F9FF"/>
<rect x="140.8" y="566.15" width="26.88" height="4.09" fill="#FF0000"/>
<rect x="167.4" y="566.15" width="26.88" height="4.09" fill="#FFD9D9"/>
<rect x="34.5" y="569.94" width="26.88" height="4.09" fill="#9999FF"/>
<rect x="61.1" y="569.94" width="26.88" height="4.09" fill="#9999FF"/>
<rect x="87.7" y="569.94" width="26.88" height="4.09" fill="#9999FF"/>
<rect x="114.2" y="569.94" width="26.88" height="4.09" fill="#FFFFFF"/>
<rect x="140.8" y="569.94" width="26.88" height="4.09" fill="#FF0000"/>
<rect x="167.4" y="569.94" width="26.88" height="4.09" fill="#FFD9D9"/>
<rect x="34.5" y="573.73" width="26.88" height="4.09" fill="#8080FF"/>
<rect x="61.1" y="573.73" width="26.88" height="4.09" fill="#8C8CFF"/>
<rect x="87.7" y="573.73" width="26.88" height="4.09" fill="#8080FF"/>
<rect x="114.2" y="573.73" width="26.88" height="4.09" fill="#BFBFFF"/>
<rect x="140.8" y="573.73" width="26.88" height="4.09" fill="#FF0000"/>
<rect x="167.4" y="573.73" width="26.88" height="4.09" fill="#FF8080"/>
<rect x="34.5" y="577.53" width="26.88" height="4.09" fill="#8080FF"/>
<rect x="61.1" y="577.53" width="26.88" height="4.09" fill="#8C8CFF"/>
<rect x="87.7" y="577.53" width="26.88" height="4.09" fill="#8080FF"/>
<rect x="114.2" y="577.53" width="26.88" height="4.09" fill="#D9D9FF"/>
<rect x="140.8" y="577.53" width="26.88" height="4.09" fill="#FF1919"/>
<rect x="167.4" y="577.53" width="26.88" height="4.09" fill="#FF3333"/>
<rect x="34.5" y="581.32" width="26.88" height="4.09" fill="#8080FF"/>
<rect x="61.1" y="581.32" width="26.88" height="4.09" fill="#8080FF"/>
<rect x="87.7" y="581.32" width="26.88" height="4.09" fill="#6666FF"/>
<rect x="114.2" y="581.32" width="26.88" height="4.09" fill="#FFFFFF"/>
<rect x="140.8" y="581.32" width="26.88" height="4.09" fill="#FF0000"/>
<rect x="167.4" y="581.32" width="26.88" height="4.09" fill="#FF8080"/>
<rect x="34.5" y="585.11" width="26.88" height="4.09" fill="#8080FF"/>
<rect x="61.1" y="585.11" width="26.88" height="4.09" fill="#8080FF"/>
<rect x="87.7" y="585.11" width="26.88" height="4.09" fill="#6666FF"/>
<rect x="114.2" y="585.11" width="26.88" height="4.09" fill="#FFE6E6"/>
<rect x="140.8" y="585.11" width="26.88" height="4.09" fill="#FF0000"/>
<rect x="167.4" y="585.11" width="26.88" height="4.09" fill="#FF8080"/>
<rect x="34.5" y="588.91" width="26.88" height="4.09" fill="#1919FF"/>
<rect x="61.1" y="588.91" width="26.88" height="4.09" fill="#FFB2B2"/>
<rect x="87.7" y="588.91" width="26.88" height="4.09" fill="#0000FF"/>
<rect x="114.2" y="588.91" width="26.88" height="4.09" fill="#FF8080"/>
<rect x="140.8" y="588.91" width="26.88" height="4.09" fill="#FF4040"/>
<rect x="167.4" y="588.91" width="26.88" height="4.09" fill="#FF7373"/>
<rect x="34.5" y="592.70" width="26.88" height="4.09" fill="#8080FF"/>
<rect x="61.1" y="592.70" width="26.88" height="4.09" fill="#8080FF"/>
<rect x="87.7" y="592.70" width="26.88" height="4.09" fill="#7373FF"/>
<rect x="114.2" y="592.70" width="26.88" height="4.09" fill="#FF3333"/>
<rect x="140.8" y="592.70" width="26.88" height="4.09" fill="#FF1919"/>
<rect x="167.4" y="592.70" width="26.88" height="4.09" fill="#CCCCFF"/>
<rect x="34.5" y="596.49" width="26.88" height="4.09" fill="#7373FF"/>
<rect x="61.1" y="596.49" width="26.88" height="4.09" fill="#6666FF"/>
<rect x="87.7" y="596.49" width="26.88" height="4.09" fill="#7373FF"/>
<rect x="114.2" y="596.49" width="26.88" height="4.09" fill="#FF6666"/>
<rect x="140.8" y="596.49" width="26.88" height="4.09" fill="#FF0D0D"/>
<rect x="167.4" y="596.49" width="26.88" height="4.09" fill="#FFCCCC"/>
<rect x="34.5" y="600.29" width="26.88" height="4.09" fill="#7373FF"/>
<rect x="61.1" y="600.29" width="26.88" height="4.09" fill="#6666FF"/>
<rect x="87.7" y="600.29" width="26.88" height="4.09" fill="#7373FF"/>
<rect x="114.2" y="600.29" width="26.88" height="4.09" fill="#FF4040"/>
<rect x="140.8" y="600.29" width="26.88" height="4.09" fill="#FF0D0D"/>
<rect x="167.4" y="600.29" width="26.88" height="4.09" fill="#FFCCCC"/>
<rect x="34.5" y="604.08" width="26.88" height="4.09" fill="#8080FF"/>
<rect x="61.1" y="604.08" width="26.88" height="4.09" fill="#6666FF"/>
<rect x="87.7" y="604.08" width="26.88" height="4.09" fill="#7373FF"/>
<rect x="114.2" y="604.08" width="26.88" height="4.09" fill="#FF3333"/>
<rect x="140.8" y="604.08" width="26.88" height="4.09" fill="#FF2626"/>
<rect x="167.4" y="604.08" width="26.88" height="4.09" fill="#FFD9D9"/>
<rect x="34.5" y="607.88" width="26.88" height="4.09" fill="#8C8CFF"/>
<rect x="61.1" y="607.88" width="26.88" height="4.09" fill="#4D4DFF"/>
<rect x="87.7" y="607.88" width="26.88" height="4.09" fill="#7373FF"/>
<rect x="114.2" y="607.88" width="26.88" height="4.09" fill="#FF1919"/>
<rect x="140.8" y="607.88" width="26.88" height="4.09" fill="#FF3333"/>
<rect x="167.4" y="607.88" width="26.88" height="4.09" fill="#FFD9D9"/>
<rect x="34.5" y="611.67" width="26.88" height="4.09" fill="#5959FF"/>
<rect x="61.1" y="611.67" width="26.88" height="4.09" fill="#8080FF"/>
<rect x="87.7" y="611.67" width="26.88" height="4.09" fill="#7373FF"/>
<rect x="114.2" y="611.67" width="26.88" height="4.09" fill="#FF2626"/>
<rect x="140.8" y="611.67" width="26.88" height="4.09" fill="#FF5959"/>
<rect x="167.4" y="611.67" width="26.88" height="4.09" fill="#FFB2B2"/>
<rect x="34.5" y="615.46" width="26.88" height="4.09" fill="#6666FF"/>
<rect x="61.1" y="615.46" width="26.88" height="4.09" fill="#8080FF"/>
<rect x="87.7" y="615.46" width="26.88" height="4.09" fill="#7373FF"/>
<rect x="114.2" y="615.46" width="26.88" height="4.09" fill="#FF3333"/>
<rect x="140.8" y="615.46" width="26.88" height="4.09" fill="#FF4D4D"/>
<rect x="167.4" y="615.46" width="26.88" height="4.09" fill="#FFB2B2"/>
<rect x="34.5" y="619.26" width="26.88" height="4.09" fill="#B2B2FF"/>
<rect x="61.1" y="619.26" width="26.88" height="4.09" fill="#3333FF"/>
<rect x="87.7" y="619.26" width="26.88" height="4.09" fill="#7373FF"/>
<rect x="114.2" y="619.26" width="26.88" height="4.09" fill="#FFD9D9"/>
<rect x="140.8" y="619.26" width="26.88" height="4.09" fill="#FF5959"/>
<rect x="167.4" y="619.26" width="26.88" height="4.09" fill="#FF0000"/>
<rect x="34.5" y="623.05" width="26.88" height="4.09" fill="#8080FF"/>
<rect x="61.1" y="623.05" width="26.88" height="4.09" fill="#8080FF"/>
<rect x="87.7" y="623.05" width="26.88" height="4.09" fill="#7373FF"/>
<rect x="114.2" y="623.05" width="26.88" height="4.09" fill="#FFF9F9"/>
<rect x="140.8" y="623.05" width="26.88" height="4.09" fill="#FF4D4D"/>
<rect x="167.4" y="623.05" width="26.88" height="4.09" fill="#FF0000"/>
<rect x="34.5" y="626.84" width="26.88" height="4.09" fill="#8080FF"/>
<rect x="61.1" y="626.84" width="26.88" height="4.09" fill="#8080FF"/>
<rect x="87.7" y="626.84" width="26.88" height="4.09" fill="#7373FF"/>
<rect x="114.2" y="626.84" width="26.88" height="4.09" fill="#FFA6A6"/>
<rect x="140.8" y="626.84" width="26.88" height="4.09" fill="#FF4040"/>
<rect x="167.4" y="626.84" width="26.88" height="4.09" fill="#FF3333"/>
<rect x="34.5" y="630.64" width="26.88" height="4.09" fill="#8080FF"/>
<rect x="61.1" y="630.64" width="26.88" height="4.09" fill="#7373FF"/>
<rect x="87.7" y="630.64" width="26.88" height="4.09" fill="#4040FF"/>
<rect x="114.2" y="630.64" width="26.88" height="4.09" fill="#FF9999"/>
<rect x="140.8" y="630.64" width="26.88" height="4.09" fill="#FF4D4D"/>
<rect x="167.4" y="630.64" width="26.88" height="4.09" fill="#FF4D4D"/>
<rect x="34.5" y="634.43" width="26.88" height="4.09" fill="#5959FF"/>
<rect x="61.1" y="634.43" width="26.88" height="4.09" fill="#8080FF"/>
<rect x="87.7" y="634.43" width="26.88" height="4.09" fill="#8080FF"/>
<rect x="114.2" y="634.43" width="26.88" height="4.09" fill="#FF9999"/>
<rect x="140.8" y="634.43" width="26.88" height="4.09" fill="#FF2626"/>
<rect x="167.4" y="634.43" width="26.88" height="4.09" fill="#FF5959"/>
<rect x="34.5" y="638.23" width="26.88" height="4.09" fill="#5959FF"/>
<rect x="61.1" y="638.23" width="26.88" height="4.09" fill="#6666FF"/>
<rect x="87.7" y="638.23" width="26.88" height="4.09" fill="#6666FF"/>
<rect x="114.2" y="638.23" width="26.88" height="4.09" fill="#FF8080"/>
<rect x="140.8" y="638.23" width="26.88" height="4.09" fill="#FF2626"/>
<rect x="167.4" y="638.23" width="26.88" height="4.09" fill="#FF6666"/>
<rect x="34.5" y="642.02" width="26.88" height="4.09" fill="#6666FF"/>
<rect x="61.1" y="642.02" width="26.88" height="4.09" fill="#7373FF"/>
<rect x="87.7" y="642.02" width="26.88" height="4.09" fill="#6666FF"/>
<rect x="114.2" y="642.02" width="26.88" height="4.09" fill="#FF8080"/>
<rect x="140.8" y="642.02" width="26.88" height="4.09" fill="#FF4040"/>
<rect x="167.4" y="642.02" width="26.88" height="4.09" fill="#FF8C8C"/>
<rect x="34.5" y="645.81" width="26.88" height="4.09" fill="#6666FF"/>
<rect x="61.1" y="645.81" width="26.88" height="4.09" fill="#7373FF"/>
<rect x="87.7" y="645.81" width="26.88" height="4.09" fill="#6666FF"/>
<rect x="114.2" y="645.81" width="26.88" height="4.09" fill="#FF8080"/>
<rect x="140.8" y="645.81" width="26.88" height="4.09" fill="#FF4040"/>
<rect x="167.4" y="645.81" width="26.88" height="4.09" fill="#FF9999"/>
<rect x="34.5" y="649.61" width="26.88" height="4.09" fill="#7373FF"/>
<rect x="61.1" y="649.61" width="26.88" height="4.09" fill="#7373FF"/>
<rect x="87.7" y="649.61" width="26.88" height="4.09" fill="#6666FF"/>
<rect x="114.2" y="649.61" width="26.88" height="4.09" fill="#FF8080"/>
<rect x="140.8" y="649.61" width="26.88" height="4.09" fill="#FF3333"/>
<rect x="167.4" y="649.61" width="26.88" height="4.09" fill="#FFA6A6"/>
<text x="195.8" y="235.4" font-size="3.4" fill="#000" transform="rotate(0.1 195.8 235.4)" stroke="#000" stroke-width="0.1">AK4</text>
<text x="195.8" y="239.2" font-size="3.4" fill="#000" transform="rotate(0.1 195.8 239.2)" stroke="#000" stroke-width="0.1">MNT</text>
<text x="195.8" y="243" font-size="3.4" fill="#000" transform="rotate(0.1 195.8 243)" stroke="#000" stroke-width="0.1">SLC25A4</text>
<text x="195.8" y="246.8" font-size="3.4" fill="#000" transform="rotate(0.1 195.8 246.8)" stroke="#000" stroke-width="0.1">SHMT2</text>
<text x="195.8" y="250.6" font-size="3.4" fill="#000" transform="rotate(0.1 195.8 250.6)" stroke="#000" stroke-width="0.1">SLC25A40</text>
<text x="195.8" y="254.4" font-size="3.4" fill="#000" transform="rotate(0.1 195.8 254.4)" stroke="#000" stroke-width="0.1">DMPK</text>
<text x="195.8" y="258.2" font-size="3.4" fill="#000" transform="rotate(0.1 195.8 258.2)" stroke="#000" stroke-width="0.1">COX15</text>
<text x="195.8" y="262" font-size="3.4" fill="#000" transform="rotate(0.1 195.8 262)" stroke="#000" stroke-width="0.1">CISD3</text>
<text x="195.8" y="265.7" font-size="3.4" fill="#000" transform="rotate(0.1 195.8 265.7)" stroke="#000" stroke-width="0.1">PLA2G4C</text>
<text x="195.8" y="269.5" font-size="3.4" fill="#000" transform="rotate(0.1 195.8 269.5)" stroke="#000" stroke-width="0.1">NLRX1</text>
<text x="195.8" y="273.3" font-size="3.4" fill="#000" transform="rotate(0.1 195.8 273.3)" stroke="#000" stroke-width="0.1">MRPS7</text>
<text x="195.8" y="277.1" font-size="3.4" fill="#000" transform="rotate(0.1 195.8 277.1)" stroke="#000" stroke-width="0.1">KIF1BP</text>
<text x="195.8" y="280.9" font-size="3.4" fill="#000" transform="rotate(0.1 195.8 280.9)" stroke="#000" stroke-width="0.1">AK3</text>
<text x="195.8" y="284.7" font-size="3.4" fill="#000" transform="rotate(0.1 195.8 284.7)" stroke="#000" stroke-width="0.1">MTIF3</text>
<text x="195.8" y="288.5" font-size="3.4" fill="#000" transform="rotate(0.1 195.8 288.5)" stroke="#000" stroke-width="0.1">LETM1</text>
<text x="195.8" y="292.3" font-size="3.4" fill="#000" transform="rotate(0.1 195.8 292.3)" stroke="#000" stroke-width="0.1">SIRT3</text>
<text x="195.8" y="296.1" font-size="3.4" fill="#000" transform="rotate(0.1 195.8 296.1)" stroke="#000" stroke-width="0.1">MCL1</text>
<text x="195.8" y="299.9" font-size="3.4" fill="#000" transform="rotate(0.1 195.8 299.9)" stroke="#000" stroke-width="0.1">PRELID1</text>
<text x="195.8" y="303.7" font-size="3.4" fill="#000" transform="rotate(0.1 195.8 303.7)" stroke="#000" stroke-width="0.1">ARGLU1</text>
<text x="195.8" y="307.5" font-size="3.4" fill="#000" transform="rotate(0.1 195.8 307.5)" stroke="#000" stroke-width="0.1">GLOD4</text>
<text x="195.8" y="311.3" font-size="3.4" fill="#000" transform="rotate(0.1 195.8 311.3)" stroke="#000" stroke-width="0.1">CHCHD3</text>
<text x="195.8" y="315.1" font-size="3.4" fill="#000" transform="rotate(0.1 195.8 315.1)" stroke="#000" stroke-width="0.1">TRAF3IP1</text>
<text x="195.8" y="318.9" font-size="3.4" fill="#000" transform="rotate(0.1 195.8 318.9)" stroke="#000" stroke-width="0.1">MAVS</text>
<text x="195.8" y="322.7" font-size="3.4" fill="#000" transform="rotate(0.1 195.8 322.7)" stroke="#000" stroke-width="0.1">COA1</text>
<text x="195.8" y="326.4" font-size="3.4" fill="#000" transform="rotate(0.1 195.8 326.4)" stroke="#000" stroke-width="0.1">ADCY10</text>
<text x="195.8" y="330.2" font-size="3.4" fill="#000" transform="rotate(0.1 195.8 330.2)" stroke="#000" stroke-width="0.1">CLPX</text>
<text x="195.8" y="334" font-size="3.4" fill="#000" transform="rotate(0.1 195.8 334)" stroke="#000" stroke-width="0.1">SGK1</text>
<text x="195.8" y="337.8" font-size="3.4" fill="#000" transform="rotate(0.1 195.8 337.8)" stroke="#000" stroke-width="0.1">ANKRD37</text>
<text x="195.8" y="341.6" font-size="3.4" fill="#000" transform="rotate(0.1 195.8 341.6)" stroke="#000" stroke-width="0.1">PPP1R15A</text>
<text x="195.8" y="345.4" font-size="3.4" fill="#000" transform="rotate(0.1 195.8 345.4)" stroke="#000" stroke-width="0.1">TMX2</text>
<text x="195.8" y="349.2" font-size="3.4" fill="#000" transform="rotate(0.1 195.8 349.2)" stroke="#000" stroke-width="0.1">SUPV3L1</text>
<text x="195.8" y="353" font-size="3.4" fill="#000" transform="rotate(0.1 195.8 353)" stroke="#000" stroke-width="0.1">MICALL2</text>
<text x="195.8" y="356.8" font-size="3.4" fill="#000" transform="rotate(0.1 195.8 356.8)" stroke="#000" stroke-width="0.1">DCTPP1</text>
<text x="195.8" y="360.6" font-size="3.4" fill="#000" transform="rotate(0.1 195.8 360.6)" stroke="#000" stroke-width="0.1">MRPL1</text>
<text x="195.8" y="364.4" font-size="3.4" fill="#000" transform="rotate(0.1 195.8 364.4)" stroke="#000" stroke-width="0.1">BCAT2</text>
<text x="195.8" y="368.2" font-size="3.4" fill="#000" transform="rotate(0.1 195.8 368.2)" stroke="#000" stroke-width="0.1">ELK1</text>
<text x="195.8" y="372" font-size="3.4" fill="#000" transform="rotate(0.1 195.8 372)" stroke="#000" stroke-width="0.1">SOD2</text>
<text x="195.8" y="375.8" font-size="3.4" fill="#000" transform="rotate(0.1 195.8 375.8)" stroke="#000" stroke-width="0.1">AGPAT5</text>
<text x="195.8" y="379.6" font-size="3.4" fill="#000" transform="rotate(0.1 195.8 379.6)" stroke="#000" stroke-width="0.1">ARMCX3</text>
<text x="195.8" y="383.4" font-size="3.4" fill="#000" transform="rotate(0.1 195.8 383.4)" stroke="#000" stroke-width="0.1">MARK2</text>
<text x="195.8" y="387.1" font-size="3.4" fill="#000" transform="rotate(0.1 195.8 387.1)" stroke="#000" stroke-width="0.1">AIFM1</text>
<text x="195.8" y="390.9" font-size="3.4" fill="#000" transform="rotate(0.1 195.8 390.9)" stroke="#000" stroke-width="0.1">FUNDC2</text>
<text x="195.8" y="394.7" font-size="3.4" fill="#000" transform="rotate(0.1 195.8 394.7)" stroke="#000" stroke-width="0.1">CYP1B1</text>
<text x="195.8" y="398.5" font-size="3.4" fill="#000" transform="rotate(0.1 195.8 398.5)" stroke="#000" stroke-width="0.1">GPD2</text>
<text x="195.8" y="402.3" font-size="3.4" fill="#000" transform="rotate(0.1 195.8 402.3)" stroke="#000" stroke-width="0.1">STXBP1</text>
<text x="195.8" y="406.1" font-size="3.4" fill="#000" transform="rotate(0.1 195.8 406.1)" stroke="#000" stroke-width="0.1">BCL2A1</text>
<text x="195.8" y="409.9" font-size="3.4" fill="#000" transform="rotate(0.1 195.8 409.9)" stroke="#000" stroke-width="0.1">LMNA</text>
<text x="195.8" y="413.7" font-size="3.4" fill="#000" transform="rotate(0.1 195.8 413.7)" stroke="#000" stroke-width="0.1">RB1CC1</text>
<text x="195.8" y="417.5" font-size="3.4" fill="#000" transform="rotate(0.1 195.8 417.5)" stroke="#000" stroke-width="0.1">YWHAG</text>
<text x="195.8" y="421.3" font-size="3.4" fill="#000" transform="rotate(0.1 195.8 421.3)" stroke="#000" stroke-width="0.1">UCP2</text>
<text x="195.8" y="425.1" font-size="3.4" fill="#000" transform="rotate(0.1 195.8 425.1)" stroke="#000" stroke-width="0.1">OPA1</text>
<text x="195.8" y="428.9" font-size="3.4" fill="#000" transform="rotate(0.1 195.8 428.9)" stroke="#000" stroke-width="0.1">ATPAF2</text>
<text x="195.8" y="432.7" font-size="3.4" fill="#000" transform="rotate(0.1 195.8 432.7)" stroke="#000" stroke-width="0.1">HSPD1</text>
<text x="195.8" y="436.5" font-size="3.4" fill="#000" transform="rotate(0.1 195.8 436.5)" stroke="#000" stroke-width="0.1">MRM3</text>
<text x="195.8" y="440.3" font-size="3.4" fill="#000" transform="rotate(0.1 195.8 440.3)" stroke="#000" stroke-width="0.1">COQ7</text>
<text x="195.8" y="444.1" font-size="3.4" fill="#000" transform="rotate(0.1 195.8 444.1)" stroke="#000" stroke-width="0.1">UBE2J2</text>
<text x="195.8" y="447.8" font-size="3.4" fill="#000" transform="rotate(0.1 195.8 447.8)" stroke="#000" stroke-width="0.1">PYCR1</text>
<text x="195.8" y="451.6" font-size="3.4" fill="#000" transform="rotate(0.1 195.8 451.6)" stroke="#000" stroke-width="0.1">PRELID3A</text>
<text x="195.8" y="455.4" font-size="3.4" fill="#000" transform="rotate(0.1 195.8 455.4)" stroke="#000" stroke-width="0.1">PCK2</text>
<text x="195.8" y="459.2" font-size="3.4" fill="#000" transform="rotate(0.1 195.8 459.2)" stroke="#000" stroke-width="0.1">CERT1</text>
<text x="195.8" y="463" font-size="3.4" fill="#000" transform="rotate(0.1 195.8 463)" stroke="#000" stroke-width="0.1">MICU2</text>
<text x="195.8" y="466.8" font-size="3.4" fill="#000" transform="rotate(0.1 195.8 466.8)" stroke="#000" stroke-width="0.1">MPV17</text>
<text x="195.8" y="470.6" font-size="3.4" fill="#000" transform="rotate(0.1 195.8 470.6)" stroke="#000" stroke-width="0.1">PARK7</text>
<text x="195.8" y="474.4" font-size="3.4" fill="#000" transform="rotate(0.1 195.8 474.4)" stroke="#000" stroke-width="0.1">AMBRA1</text>
<text x="195.8" y="478.2" font-size="3.4" fill="#000" transform="rotate(0.1 195.8 478.2)" stroke="#000" stroke-width="0.1">CYCS</text>
<text x="195.8" y="482" font-size="3.4" fill="#000" transform="rotate(0.1 195.8 482)" stroke="#000" stroke-width="0.1">ATG4D</text>
<text x="195.8" y="485.8" font-size="3.4" fill="#000" transform="rotate(0.1 195.8 485.8)" stroke="#000" stroke-width="0.1">ALDH18A1</text>
<text x="195.8" y="489.6" font-size="3.4" fill="#000" transform="rotate(0.1 195.8 489.6)" stroke="#000" stroke-width="0.1">GATM</text>
<text x="195.8" y="493.4" font-size="3.4" fill="#000" transform="rotate(0.1 195.8 493.4)" stroke="#000" stroke-width="0.1">ATG7</text>
<text x="195.8" y="497.2" font-size="3.4" fill="#000" transform="rotate(0.1 195.8 497.2)" stroke="#000" stroke-width="0.1">BID</text>
<text x="195.8" y="501" font-size="3.4" fill="#000" transform="rotate(0.1 195.8 501)" stroke="#000" stroke-width="0.1">NNT</text>
<text x="195.8" y="504.7" font-size="3.4" fill="#000" transform="rotate(0.1 195.8 504.7)" stroke="#000" stroke-width="0.1">FOXRED1</text>
<text x="195.8" y="508.5" font-size="3.4" fill="#000" transform="rotate(0.1 195.8 508.5)" stroke="#000" stroke-width="0.1">SLC25A33</text>
<text x="195.8" y="512.3" font-size="3.4" fill="#000" transform="rotate(0.1 195.8 512.3)" stroke="#000" stroke-width="0.1">LETMD1</text>
<text x="195.8" y="516.1" font-size="3.4" fill="#000" transform="rotate(0.1 195.8 516.1)" stroke="#000" stroke-width="0.1">PSS2</text>
<text x="195.8" y="519.9" font-size="3.4" fill="#000" transform="rotate(0.1 195.8 519.9)" stroke="#000" stroke-width="0.1">SAMM50</text>
<text x="195.8" y="523.7" font-size="3.4" fill="#000" transform="rotate(0.1 195.8 523.7)" stroke="#000" stroke-width="0.1">TIMMDC1</text>
<text x="195.8" y="527.5" font-size="3.4" fill="#000" transform="rotate(0.1 195.8 527.5)" stroke="#000" stroke-width="0.1">TMEM70</text>
<text x="195.8" y="531.3" font-size="3.4" fill="#000" transform="rotate(0.1 195.8 531.3)" stroke="#000" stroke-width="0.1">RHOT1</text>
<text x="195.8" y="535.1" font-size="3.4" fill="#000" transform="rotate(0.1 195.8 535.1)" stroke="#000" stroke-width="0.1">RNF31</text>
<text x="195.8" y="538.9" font-size="3.4" fill="#000" transform="rotate(0.1 195.8 538.9)" stroke="#000" stroke-width="0.1">CREB3L4</text>
<text x="195.8" y="542.7" font-size="3.4" fill="#000" transform="rotate(0.1 195.8 542.7)" stroke="#000" stroke-width="0.1">TXNIP</text>
<text x="195.8" y="546.5" font-size="3.4" fill="#000" transform="rotate(0.1 195.8 546.5)" stroke="#000" stroke-width="0.1">MARC2</text>
<text x="195.8" y="550.3" font-size="3.4" fill="#000" transform="rotate(0.1 195.8 550.3)" stroke="#000" stroke-width="0.1">CLIC4</text>
<text x="195.8" y="554.1" font-size="3.4" fill="#000" transform="rotate(0.1 195.8 554.1)" stroke="#000" stroke-width="0.1">MYO5B</text>
<text x="195.8" y="557.9" font-size="3.4" fill="#000" transform="rotate(0.1 195.8 557.9)" stroke="#000" stroke-width="0.1">PNPLA8</text>
<text x="195.8" y="561.7" font-size="3.4" fill="#000" transform="rotate(0.1 195.8 561.7)" stroke="#000" stroke-width="0.1">RACGAP1</text>
<text x="195.8" y="565.4" font-size="3.4" fill="#000" transform="rotate(0.1 195.8 565.4)" stroke="#000" stroke-width="0.1">TRIM30</text>
<text x="195.8" y="569.2" font-size="3.4" fill="#000" transform="rotate(0.1 195.8 569.2)" stroke="#000" stroke-width="0.1">FBP1</text>
<text x="195.8" y="573" font-size="3.4" fill="#000" transform="rotate(0.1 195.8 573)" stroke="#000" stroke-width="0.1">SYBU</text>
<text x="195.8" y="576.8" font-size="3.4" fill="#000" transform="rotate(0.1 195.8 576.8)" stroke="#000" stroke-width="0.1">NIT1</text>
<text x="195.8" y="580.6" font-size="3.4" fill="#000" transform="rotate(0.1 195.8 580.6)" stroke="#000" stroke-width="0.1">POGZ</text>
<text x="195.8" y="584.4" font-size="3.4" fill="#000" transform="rotate(0.1 195.8 584.4)" stroke="#000" stroke-width="0.1">AGPHD1</text>
<text x="195.8" y="588.2" font-size="3.4" fill="#000" transform="rotate(0.1 195.8 588.2)" stroke="#000" stroke-width="0.1">ATF3</text>
<text x="195.8" y="592" font-size="3.4" fill="#000" transform="rotate(0.1 195.8 592)" stroke="#000" stroke-width="0.1">MAVS2</text>
<text x="195.8" y="595.8" font-size="3.4" fill="#000" transform="rotate(0.1 195.8 595.8)" stroke="#000" stroke-width="0.1">ALDH4A1</text>
<text x="195.8" y="599.6" font-size="3.4" fill="#000" transform="rotate(0.1 195.8 599.6)" stroke="#000" stroke-width="0.1">DAO</text>
<text x="195.8" y="603.4" font-size="3.4" fill="#000" transform="rotate(0.1 195.8 603.4)" stroke="#000" stroke-width="0.1">ACSF3</text>
<text x="195.8" y="607.2" font-size="3.4" fill="#000" transform="rotate(0.1 195.8 607.2)" stroke="#000" stroke-width="0.1">APEX2</text>
<text x="195.8" y="611" font-size="3.4" fill="#000" transform="rotate(0.1 195.8 611)" stroke="#000" stroke-width="0.1">SLC25A23</text>
<text x="195.8" y="614.8" font-size="3.4" fill="#000" transform="rotate(0.1 195.8 614.8)" stroke="#000" stroke-width="0.1">TIMM17A</text>
<text x="195.8" y="618.6" font-size="3.4" fill="#000" transform="rotate(0.1 195.8 618.6)" stroke="#000" stroke-width="0.1">BAG6</text>
<text x="195.8" y="622.4" font-size="3.4" fill="#000" transform="rotate(0.1 195.8 622.4)" stroke="#000" stroke-width="0.1">PPP3C</text>
<text x="195.8" y="626.1" font-size="3.4" fill="#000" transform="rotate(0.1 195.8 626.1)" stroke="#000" stroke-width="0.1">MTFR2</text>
<text x="195.8" y="629.9" font-size="3.4" fill="#000" transform="rotate(0.1 195.8 629.9)" stroke="#000" stroke-width="0.1">ACAT1</text>
<text x="195.8" y="633.7" font-size="3.4" fill="#000" transform="rotate(0.1 195.8 633.7)" stroke="#000" stroke-width="0.1">FOXM1</text>
<text x="195.8" y="637.5" font-size="3.4" fill="#000" transform="rotate(0.1 195.8 637.5)" stroke="#000" stroke-width="0.1">GADD45G</text>
<text x="195.8" y="641.3" font-size="3.4" fill="#000" transform="rotate(0.1 195.8 641.3)" stroke="#000" stroke-width="0.1">ERCC8</text>
<text x="195.8" y="645.1" font-size="3.4" fill="#000" transform="rotate(0.1 195.8 645.1)" stroke="#000" stroke-width="0.1">GTPBP3</text>
<text x="195.8" y="648.9" font-size="3.4" fill="#000" transform="rotate(0.1 195.8 648.9)" stroke="#000" stroke-width="0.1">NIPSNAP2</text>
<text x="195.8" y="652.7" font-size="3.4" fill="#000" transform="rotate(0.1 195.8 652.7)" stroke="#000" stroke-width="0.1">GLYATL2</text>
<rect x="34.5" y="223.4" width="79.8" height="7" fill="#00CDCD"/>
<rect x="114.2" y="223.4" width="80" height="7" fill="#FF6A6A"/>
<text x="196.1" y="229.5" font-size="7.6" font-weight="bold" fill="#000" transform="rotate(0.1 196.1 229.5)">Group</text>
<text x="45.6" y="655.6" font-size="6.05" fill="#000" transform="rotate(90.1 45.6 655.6)" stroke="#000" stroke-width="0.22">FPKM.MPP_ANT1_1</text>
<text x="72.2" y="655.6" font-size="6.05" fill="#000" transform="rotate(90.1 72.2 655.6)" stroke="#000" stroke-width="0.22">FPKM.MPP_ANT1_2</text>
<text x="98.8" y="655.6" font-size="6.05" fill="#000" transform="rotate(90.1 98.8 655.6)" stroke="#000" stroke-width="0.22">FPKM.MPP_ANT1_3</text>
<text x="125.3" y="655.6" font-size="6.05" fill="#000" transform="rotate(90.1 125.3 655.6)" stroke="#000" stroke-width="0.22">FPKM.MPP_1</text>
<text x="151.9" y="655.6" font-size="6.05" fill="#000" transform="rotate(90.1 151.9 655.6)" stroke="#000" stroke-width="0.22">FPKM.MPP_3</text>
<text x="178.5" y="655.6" font-size="6.05" fill="#000" transform="rotate(90.1 178.5 655.6)" stroke="#000" stroke-width="0.22">FPKM.MPP_2</text>
<path d="M47.8 222.2L47.8 207.8M74.4 222.2L74.4 207.8M47.8 207.8L74.4 207.8M61.1 207.8L61.1 207.3M101 222.2L101 207.3M61.1 207.3L101 207.3M154.1 222.2L154.1 211.5M180.7 222.2L180.7 211.5M154.1 211.5L180.7 211.5M167.4 211.5L167.4 209.8M127.5 222.2L127.5 209.8M127.5 209.8L167.4 209.8M81 207.3L81 190.4M147.5 209.8L147.5 190.4M81 190.4L147.5 190.4" stroke="#333" stroke-width="0.6" fill="none"/>
<path d="M34 234.20H31.8M34 237.99H31.8M31.8 234.20V237.99M34 241.78H31.8M34 245.58H31.8M31.8 241.78V245.58M31.8 236.09H29.5M31.8 243.68H29.5M29.5 236.09V243.68M34 249.37H31.3M34 253.17H31.3M31.3 249.37V253.17M31.3 251.27H29.9M34 256.96H29.9M29.9 251.27V256.96M29.9 254.11H29.5M34 260.75H29.5M29.5 254.11V260.75M29.5 239.89H27.6M29.5 257.43H27.6M27.6 239.89V257.43M34 264.55H31.5M34 268.34H31.5M31.5 264.55V268.34M31.5 266.44H30.5M34 272.13H30.5M30.5 266.44V272.13M34 275.93H31.7M34 279.72H31.7M31.7 275.93V279.72M30.5 269.29H28.5M31.7 277.82H28.5M28.5 269.29V277.82M27.6 248.66H26M28.5 273.56H26M26 248.66V273.56M34 283.51H31.7M34 287.31H31.7M31.7 283.51V287.31M34 294.90H31.3M34 298.69H31.3M31.3 294.90V298.69M34 291.10H30M31.3 296.79H30M30 291.10V296.79M30 293.95H29.1M34 302.48H29.1M29.1 293.95V302.48M29.1 298.22H28.4M34 306.28H28.4M28.4 298.22V306.28M31.7 285.41H28M28.4 302.25H28M28 285.41V302.25M34 310.07H31.7M34 313.86H31.7M31.7 310.07V313.86M34 321.45H31.2M34 325.25H31.2M31.2 321.45V325.25M31.2 323.35H30.1M34 329.04H30.1M30.1 323.35V329.04M34 317.66H29.3M30.1 326.19H29.3M29.3 317.66V326.19M31.7 311.97H28.4M29.3 321.93H28.4M28.4 311.97V321.93M28 293.83H26.1M28.4 316.95H26.1M26.1 293.83V316.95M26 261.11H25M26.1 305.39H25M25 261.11V305.39M34 336.63H31.5M34 340.42H31.5M31.5 336.63V340.42M34 332.83H30.1M31.5 338.52H30.1M30.1 332.83V338.52M34 344.21H31.8M34 348.01H31.8M31.8 344.21V348.01M30.1 335.68H28.6M31.8 346.11H28.6M28.6 335.68V346.11M34 351.80H31.5M34 355.60H31.5M31.5 351.80V355.60M28.6 340.89H28M31.5 353.70H28M28 340.89V353.70M34 359.39H31.2M34 363.18H31.2M31.2 359.39V363.18M34 366.98H31.7M34 370.77H31.7M31.7 366.98V370.77M31.7 368.87H30.2M34 374.56H30.2M30.2 368.87V374.56M30.2 371.72H29.1M34 378.36H29.1M29.1 371.72V378.36M31.2 361.29H28.5M29.1 375.04H28.5M28.5 361.29V375.04M28 347.30H25.5M28.5 368.16H25.5M25.5 347.30V368.16M25 283.25H17.4M25.5 357.73H17.4M17.4 283.25V357.73M34 382.15H31.2M34 385.94H31.2M31.2 382.15V385.94M31.2 384.05H30.2M34 389.74H30.2M30.2 384.05V389.74M34 397.33H31.5M34 401.12H31.5M31.5 397.33V401.12M34 393.53H30M31.5 399.22H30M30 393.53V399.22M30.2 386.89H27.8M30 396.38H27.8M27.8 386.89V396.38M34 404.91H31.4M34 408.71H31.4M31.4 404.91V408.71M34 412.50H31.7M34 416.29H31.7M31.7 412.50V416.29M31.7 414.40H30.5M34 420.09H30.5M30.5 414.40V420.09M34 423.88H31.2M34 427.68H31.2M31.2 423.88V427.68M30.5 417.24H28.8M31.2 425.78H28.8M28.8 417.24V425.78M31.4 406.81H27.8M28.8 421.51H27.8M27.8 406.81V421.51M27.8 391.64H20.8M27.8 414.16H20.8M20.8 391.64V414.16M17.4 320.49H10.5M20.8 402.90H10.5M10.5 320.49V402.90M34 431.47H31.4M34 435.26H31.4M31.4 431.47V435.26M34 439.06H31.7M34 442.85H31.7M31.7 439.06V442.85M31.4 433.37H29.8M31.7 440.95H29.8M29.8 433.37V440.95M34 446.64H31.5M34 450.44H31.5M31.5 446.64V450.44M29.8 437.16H28.5M31.5 448.54H28.5M28.5 437.16V448.54M34 454.23H31.7M34 458.02H31.7M31.7 454.23V458.02M31.7 456.13H29.9M34 461.82H29.9M29.9 456.13V461.82M34 465.61H31.6M34 469.41H31.6M31.6 465.61V469.41M29.9 458.97H28.8M31.6 467.51H28.8M28.8 458.97V467.51M34 473.20H31.7M34 476.99H31.7M31.7 473.20V476.99M28.8 463.24H27.7M31.7 475.10H27.7M27.7 463.24V475.10M28.5 442.85H17.7M27.7 469.17H17.7M17.7 442.85V469.17M10.5 361.69H9.3M17.7 456.01H9.3M9.3 361.69V456.01M34 484.58H31.6M34 488.37H31.6M31.6 484.58V488.37M34 492.17H31.6M34 495.96H31.6M31.6 492.17V495.96M34 503.55H31.2M34 507.34H31.2M31.2 503.55V507.34M34 499.76H30.2M31.2 505.45H30.2M30.2 499.76V505.45M31.6 494.06H28.5M30.2 502.60H28.5M28.5 494.06V502.60M31.6 486.48H27.9M28.5 498.33H27.9M27.9 486.48V498.33M34 480.79H27.2M27.9 492.41H27.2M27.2 480.79V492.41M34 514.93H31.7M34 518.72H31.7M31.7 514.93V518.72M34 511.14H30.6M31.7 516.83H30.6M30.6 511.14V516.83M34 530.10H31.6M34 533.90H31.6M31.6 530.10V533.90M34 526.31H30.5M31.6 532.00H30.5M30.5 526.31V532.00M34 522.52H29.3M30.5 529.16H29.3M29.3 522.52V529.16M34 541.49H31.9M34 545.28H31.9M31.9 541.49V545.28M34 537.69H30.3M31.9 543.38H30.3M30.3 537.69V543.38M34 549.07H31.2M34 552.87H31.2M31.2 549.07V552.87M31.2 550.97H30.1M34 556.66H30.1M30.1 550.97V556.66M30.3 540.54H28.4M30.1 553.82H28.4M28.4 540.54V553.82M29.3 525.84H26.4M28.4 547.18H26.4M26.4 525.84V547.18M30.6 513.98H26.1M26.4 536.51H26.1M26.1 513.98V536.51M27.2 486.60H12.2M26.1 525.24H12.2M12.2 486.60V525.24M34 568.04H31.7M34 571.84H31.7M31.7 568.04V571.84M34 564.25H30.7M31.7 569.94H30.7M30.7 564.25V569.94M34 560.45H29M30.7 567.09H29M29 560.45V567.09M34 575.63H31.3M34 579.42H31.3M31.3 575.63V579.42M34 583.22H31.6M34 587.01H31.6M31.6 583.22V587.01M31.3 577.53H29M31.6 585.11H29M29 577.53V585.11M29 563.77H27.1M29 581.32H27.1M27.1 563.77V581.32M27.1 572.55H26.6M34 590.80H26.6M26.6 572.55V590.80M34 598.39H31.7M34 602.19H31.7M31.7 598.39V602.19M34 605.98H31.5M34 609.77H31.5M31.5 605.98V609.77M31.7 600.29H29.6M31.5 607.88H29.6M29.6 600.29V607.88M34 613.57H31.8M34 617.36H31.8M31.8 613.57V617.36M29.6 604.08H27.9M31.8 615.46H27.9M27.9 604.08V615.46M34 594.60H27.6M27.9 609.77H27.6M27.6 594.60V609.77M34 621.15H31.1M34 624.95H31.1M31.1 621.15V624.95M34 628.74H31.9M34 632.53H31.9M31.9 628.74V632.53M34 636.33H31.8M34 640.12H31.8M31.8 636.33V640.12M31.9 630.64H29.8M31.8 638.23H29.8M29.8 630.64V638.23M34 643.92H31.6M34 647.71H31.6M31.6 643.92V647.71M31.6 645.81H30M34 651.50H30M30 645.81V651.50M29.8 634.43H27.8M30 648.66H27.8M27.8 634.43V648.66M31.1 623.05H27M27.8 641.54H27M27 623.05V641.54M27.6 602.19H24.8M27 632.30H24.8M24.8 602.19V632.30M26.6 581.68H17.4M24.8 617.24H17.4M17.4 581.68V617.24M12.2 505.92H9.3M17.4 599.46H9.3M9.3 505.92V599.46M9.3 408.85H1M9.3 552.69H1M1 408.85V552.69" stroke="#222" stroke-width="0.65" fill="none"/>
<defs><linearGradient id="hmg" x1="0" y1="0" x2="0" y2="1"><stop offset="0" stop-color="#FF0000"/><stop offset="0.5" stop-color="#FFFFFF"/><stop offset="1" stop-color="#0000FF"/></linearGradient></defs>
<rect x="221.7" y="222.2" width="6.5" height="91.8" fill="url(#hmg)"/>
<text x="230.8" y="226.2" font-size="7.9" fill="#000" transform="rotate(0.1 230.8 226.2)">2</text>
<text x="230.8" y="248.7" font-size="7.9" fill="#000" transform="rotate(0.1 230.8 248.7)">1</text>
<text x="230.8" y="271.4" font-size="7.9" fill="#000" transform="rotate(0.1 230.8 271.4)">0</text>
<text x="230.8" y="294.6" font-size="7.9" fill="#000" transform="rotate(0.1 230.8 294.6)">−1</text>
<text x="230.8" y="317.2" font-size="7.9" fill="#000" transform="rotate(0.1 230.8 317.2)">−2</text>
<text x="244.3" y="227.9" font-size="7.6" font-weight="bold" fill="#000" transform="rotate(0.1 244.3 227.9)">Group</text>
<rect x="244.3" y="230.3" width="10.7" height="10.5" fill="#00CDCD"/>
<rect x="244.3" y="240.8" width="10.7" height="10.8" fill="#FF6A6A"/>
<text x="256.8" y="238.8" font-size="7.9" fill="#000" transform="rotate(0.1 256.8 238.8)">ANT1</text>
<text x="256.8" y="249.3" font-size="7.9" fill="#000" transform="rotate(0.1 256.8 249.3)">CTRL</text>
<text x="2.5" y="205.1" font-size="23" font-weight="bold" fill="#000" style="font-family:'Liberation Serif','Times New Roman',serif">B</text>
<rect x="432.8" y="19.4" width="146.6" height="6.1" fill="#EE2A00"/>
<line x1="431.2" y1="22.4" x2="432.8" y2="22.4" stroke="#000" stroke-width="0.5"/>
<text x="429.7" y="24.6" font-size="4.77" text-anchor="end" fill="#000" transform="rotate(0.1 429.7 24.6)" stroke="#000" stroke-width="0.09">mitochondrial transport</text>
<rect x="432.8" y="27.2" width="111.2" height="6.1" fill="#EE2A00"/>
<line x1="431.2" y1="30.3" x2="432.8" y2="30.3" stroke="#000" stroke-width="0.5"/>
<text x="429.7" y="32.4" font-size="4.77" text-anchor="end" fill="#000" transform="rotate(0.1 429.7 32.4)" stroke="#000" stroke-width="0.09">aerobic respiration</text>
<rect x="432.8" y="35.1" width="109.2" height="6.1" fill="#EE2A00"/>
<line x1="431.2" y1="38.1" x2="432.8" y2="38.1" stroke="#000" stroke-width="0.5"/>
<text x="429.7" y="40.2" font-size="4.77" text-anchor="end" fill="#000" transform="rotate(0.1 429.7 40.2)" stroke="#000" stroke-width="0.09">apoptotic mitochondrial changes</text>
<rect x="432.8" y="42.9" width="104.1" height="6.1" fill="#EE2A00"/>
<line x1="431.2" y1="46" x2="432.8" y2="46" stroke="#000" stroke-width="0.5"/>
<text x="429.7" y="48.1" font-size="4.77" text-anchor="end" fill="#000" transform="rotate(0.1 429.7 48.1)" stroke="#000" stroke-width="0.09">mitochondrial transmembrane transport</text>
<rect x="432.8" y="50.8" width="102.1" height="6.1" fill="#EE2A00"/>
<line x1="431.2" y1="53.8" x2="432.8" y2="53.8" stroke="#000" stroke-width="0.5"/>
<text x="429.7" y="55.9" font-size="4.77" text-anchor="end" fill="#000" transform="rotate(0.1 429.7 55.9)" stroke="#000" stroke-width="0.09">cellular respiration</text>
<rect x="432.8" y="58.6" width="100.8" height="6.1" fill="#EE2A00"/>
<line x1="431.2" y1="61.7" x2="432.8" y2="61.7" stroke="#000" stroke-width="0.5"/>
<text x="429.7" y="63.8" font-size="4.77" text-anchor="end" fill="#000" transform="rotate(0.1 429.7 63.8)" stroke="#000" stroke-width="0.09">regulation of mitochondrion organization</text>
<rect x="432.8" y="66.5" width="92" height="6.1" fill="#EE2A00"/>
<line x1="431.2" y1="69.5" x2="432.8" y2="69.5" stroke="#000" stroke-width="0.5"/>
<text x="429.7" y="71.6" font-size="4.77" text-anchor="end" fill="#000" transform="rotate(0.1 429.7 71.6)" stroke="#000" stroke-width="0.09">energy derivation by oxidation of organic compounds</text>
<rect x="432.8" y="74.3" width="83" height="6.1" fill="#EE2A00"/>
<line x1="431.2" y1="77.4" x2="432.8" y2="77.4" stroke="#000" stroke-width="0.5"/>
<text x="429.7" y="79.5" font-size="4.77" text-anchor="end" fill="#000" transform="rotate(0.1 429.7 79.5)" stroke="#000" stroke-width="0.09">mitochondrial calcium ion transmembrane transport</text>
<rect x="432.8" y="82.2" width="79.6" height="6.1" fill="#EE2A00"/>
<line x1="431.2" y1="85.2" x2="432.8" y2="85.2" stroke="#000" stroke-width="0.5"/>
<text x="429.7" y="87.3" font-size="4.77" text-anchor="end" fill="#000" transform="rotate(0.1 429.7 87.3)" stroke="#000" stroke-width="0.09">calcium import into the mitochondrion</text>
<rect x="432.8" y="90" width="77.1" height="6.1" fill="#EE2A00"/>
<line x1="431.2" y1="93.1" x2="432.8" y2="93.1" stroke="#000" stroke-width="0.5"/>
<text x="429.7" y="95.2" font-size="4.77" text-anchor="end" fill="#000" transform="rotate(0.1 429.7 95.2)" stroke="#000" stroke-width="0.09">cellular response to chemical stress</text>
<rect x="432.8" y="97.9" width="198.1" height="6.1" fill="#00763A"/>
<line x1="431.2" y1="101" x2="432.8" y2="101" stroke="#000" stroke-width="0.5"/>
<text x="429.7" y="103" font-size="4.77" text-anchor="end" fill="#000" transform="rotate(0.1 429.7 103)" stroke="#000" stroke-width="0.09">mitochondrial matrix</text>
<rect x="432.8" y="105.8" width="157.8" height="6.1" fill="#00763A"/>
<line x1="431.2" y1="108.8" x2="432.8" y2="108.8" stroke="#000" stroke-width="0.5"/>
<text x="429.7" y="110.9" font-size="4.77" text-anchor="end" fill="#000" transform="rotate(0.1 429.7 110.9)" stroke="#000" stroke-width="0.09">mitochondrial outer membrane</text>
<rect x="432.8" y="113.6" width="147.7" height="6.1" fill="#00763A"/>
<line x1="431.2" y1="116.6" x2="432.8" y2="116.6" stroke="#000" stroke-width="0.5"/>
<text x="429.7" y="118.7" font-size="4.77" text-anchor="end" fill="#000" transform="rotate(0.1 429.7 118.7)" stroke="#000" stroke-width="0.09">organelle outer membrane</text>
<rect x="432.8" y="121.4" width="147" height="6.1" fill="#00763A"/>
<line x1="431.2" y1="124.5" x2="432.8" y2="124.5" stroke="#000" stroke-width="0.5"/>
<text x="429.7" y="126.6" font-size="4.77" text-anchor="end" fill="#000" transform="rotate(0.1 429.7 126.6)" stroke="#000" stroke-width="0.09">outer membrane</text>
<rect x="432.8" y="129.3" width="143.1" height="6.1" fill="#00763A"/>
<line x1="431.2" y1="132.3" x2="432.8" y2="132.3" stroke="#000" stroke-width="0.5"/>
<text x="429.7" y="134.4" font-size="4.77" text-anchor="end" fill="#000" transform="rotate(0.1 429.7 134.4)" stroke="#000" stroke-width="0.09">mitochondrial inner membrane</text>
<rect x="432.8" y="137.2" width="96.9" height="6.1" fill="#00763A"/>
<line x1="431.2" y1="140.2" x2="432.8" y2="140.2" stroke="#000" stroke-width="0.5"/>
<text x="429.7" y="142.3" font-size="4.77" text-anchor="end" fill="#000" transform="rotate(0.1 429.7 142.3)" stroke="#000" stroke-width="0.09">mitochondrial intermembrane space</text>
<rect x="432.8" y="145" width="92" height="6.1" fill="#00763A"/>
<line x1="431.2" y1="148.1" x2="432.8" y2="148.1" stroke="#000" stroke-width="0.5"/>
<text x="429.7" y="150.2" font-size="4.77" text-anchor="end" fill="#000" transform="rotate(0.1 429.7 150.2)" stroke="#000" stroke-width="0.09">organelle envelope lumen</text>
<rect x="432.8" y="152.8" width="80.1" height="6.1" fill="#00763A"/>
<line x1="431.2" y1="155.9" x2="432.8" y2="155.9" stroke="#000" stroke-width="0.5"/>
<text x="429.7" y="158" font-size="4.77" text-anchor="end" fill="#000" transform="rotate(0.1 429.7 158)" stroke="#000" stroke-width="0.09">integral component of mitochondrial membrane</text>
<rect x="432.8" y="160.7" width="80.1" height="6.1" fill="#00763A"/>
<line x1="431.2" y1="163.8" x2="432.8" y2="163.8" stroke="#000" stroke-width="0.5"/>
<text x="429.7" y="165.8" font-size="4.77" text-anchor="end" fill="#000" transform="rotate(0.1 429.7 165.8)" stroke="#000" stroke-width="0.09">intrinsic component of mitochondrial membrane</text>
<rect x="432.8" y="168.6" width="48.5" height="6.1" fill="#00763A"/>
<line x1="431.2" y1="171.6" x2="432.8" y2="171.6" stroke="#000" stroke-width="0.5"/>
<text x="429.7" y="173.7" font-size="4.77" text-anchor="end" fill="#000" transform="rotate(0.1 429.7 173.7)" stroke="#000" stroke-width="0.09">mitochondrial protein complex</text>
<rect x="432.8" y="176.4" width="44.1" height="6.1" fill="#0A0A4A"/>
<line x1="431.2" y1="179.5" x2="432.8" y2="179.5" stroke="#000" stroke-width="0.5"/>
<text x="429.7" y="181.6" font-size="4.77" text-anchor="end" fill="#000" transform="rotate(0.1 429.7 181.6)" stroke="#000" stroke-width="0.09">phospholipid transfer activity</text>
<rect x="432.8" y="184.2" width="41.4" height="6.1" fill="#0A0A4A"/>
<line x1="431.2" y1="187.3" x2="432.8" y2="187.3" stroke="#000" stroke-width="0.5"/>
<text x="429.7" y="189.4" font-size="4.77" text-anchor="end" fill="#000" transform="rotate(0.1 429.7 189.4)" stroke="#000" stroke-width="0.09">ATP transmembrane transporter activity</text>
<rect x="432.8" y="192.1" width="39.1" height="6.1" fill="#0A0A4A"/>
<line x1="431.2" y1="195.2" x2="432.8" y2="195.2" stroke="#000" stroke-width="0.5"/>
<text x="429.7" y="197.2" font-size="4.77" text-anchor="end" fill="#000" transform="rotate(0.1 429.7 197.2)" stroke="#000" stroke-width="0.09">adenine nucleotide transmembrane transporter activity</text>
<rect x="432.8" y="199.9" width="39.1" height="6.1" fill="#0A0A4A"/>
<line x1="431.2" y1="203" x2="432.8" y2="203" stroke="#000" stroke-width="0.5"/>
<text x="429.7" y="205.1" font-size="4.77" text-anchor="end" fill="#000" transform="rotate(0.1 429.7 205.1)" stroke="#000" stroke-width="0.09">purine ribonucleotide transmembrane transporter activity</text>
<rect x="432.8" y="207.8" width="38.6" height="6.1" fill="#0A0A4A"/>
<line x1="431.2" y1="210.8" x2="432.8" y2="210.8" stroke="#000" stroke-width="0.5"/>
<text x="429.7" y="212.9" font-size="4.77" text-anchor="end" fill="#000" transform="rotate(0.1 429.7 212.9)" stroke="#000" stroke-width="0.09">purine nucleotide transmembrane transporter activity</text>
<rect x="432.8" y="215.7" width="37.3" height="6.1" fill="#0A0A4A"/>
<line x1="431.2" y1="218.7" x2="432.8" y2="218.7" stroke="#000" stroke-width="0.5"/>
<text x="429.7" y="220.8" font-size="4.77" text-anchor="end" fill="#000" transform="rotate(0.1 429.7 220.8)" stroke="#000" stroke-width="0.09">nucleotide transmembrane transporter activity</text>
<rect x="432.8" y="223.5" width="36.6" height="6.1" fill="#0A0A4A"/>
<line x1="431.2" y1="226.6" x2="432.8" y2="226.6" stroke="#000" stroke-width="0.5"/>
<text x="429.7" y="226.2" font-size="4.77" text-anchor="end" fill="#000" transform="rotate(0.1 429.7 226.2)" stroke="#000" stroke-width="0.09">oxidoreductase activity, acting on the aldehyde or oxo group</text>
<text x="429.7" y="231" font-size="4.77" text-anchor="end" fill="#000" transform="rotate(0.1 429.7 231)" stroke="#000" stroke-width="0.09">of donors, NAD or NADP as acceptor</text>
<rect x="432.8" y="231.3" width="35.1" height="6.1" fill="#0A0A4A"/>
<line x1="431.2" y1="234.4" x2="432.8" y2="234.4" stroke="#000" stroke-width="0.5"/>
<text x="429.7" y="236.5" font-size="4.77" text-anchor="end" fill="#000" transform="rotate(0.1 429.7 236.5)" stroke="#000" stroke-width="0.09">organophosphate ester transmembrane transporter activity</text>
<rect x="432.8" y="239.2" width="33.8" height="6.1" fill="#0A0A4A"/>
<line x1="431.2" y1="242.2" x2="432.8" y2="242.2" stroke="#000" stroke-width="0.5"/>
<text x="429.7" y="244.3" font-size="4.77" text-anchor="end" fill="#000" transform="rotate(0.1 429.7 244.3)" stroke="#000" stroke-width="0.09">lipid transfer activity</text>
<rect x="432.8" y="247" width="33.3" height="6.1" fill="#0A0A4A"/>
<line x1="431.2" y1="250.1" x2="432.8" y2="250.1" stroke="#000" stroke-width="0.5"/>
<text x="429.7" y="249.8" font-size="4.77" text-anchor="end" fill="#000" transform="rotate(0.1 429.7 249.8)" stroke="#000" stroke-width="0.09">oxidoreductase activity, acting on the aldehyde or oxo group</text>
<text x="429.7" y="254.5" font-size="4.77" text-anchor="end" fill="#000" transform="rotate(0.1 429.7 254.5)" stroke="#000" stroke-width="0.09">of donors</text>
<line x1="432.7" y1="18.5" x2="432.7" y2="254.6" stroke="#000" stroke-width="0.6"/>
<line x1="432.4" y1="254.3" x2="680" y2="254.3" stroke="#000" stroke-width="0.6"/>
<line x1="432.8" y1="254.3" x2="432.8" y2="256" stroke="#000" stroke-width="0.5"/>
<text x="432.8" y="260.5" font-size="4.77" text-anchor="middle" fill="#000" transform="rotate(0.1 432.8 260.5)" stroke="#000" stroke-width="0.09">0</text>
<line x1="495.1" y1="254.3" x2="495.1" y2="256" stroke="#000" stroke-width="0.5"/>
<text x="495.1" y="260.5" font-size="4.77" text-anchor="middle" fill="#000" transform="rotate(0.1 495.1 260.5)" stroke="#000" stroke-width="0.09">5</text>
<line x1="557.4" y1="254.3" x2="557.4" y2="256" stroke="#000" stroke-width="0.5"/>
<text x="557.4" y="260.5" font-size="4.77" text-anchor="middle" fill="#000" transform="rotate(0.1 557.4 260.5)" stroke="#000" stroke-width="0.09">10</text>
<line x1="619.7" y1="254.3" x2="619.7" y2="256" stroke="#000" stroke-width="0.5"/>
<text x="619.7" y="260.5" font-size="4.77" text-anchor="middle" fill="#000" transform="rotate(0.1 619.7 260.5)" stroke="#000" stroke-width="0.09">15</text>
<text x="556.4" y="271.2" font-size="10.5" text-anchor="middle" fill="#000">Enrichment Score</text>
<text x="556.5" y="13.1" font-size="10.44" text-anchor="middle" fill="#000">GO Results of Three Ontologies</text>
<rect x="654.5" y="19" width="26.3" height="30.3" fill="#fff" stroke="#000" stroke-width="0.5"/>
<rect x="657.9" y="25" width="10" height="6.6" fill="#EE2A00"/>
<text x="671" y="29.8" font-size="4.3" fill="#000" transform="rotate(0.1 671 29.8)" stroke="#000" stroke-width="0.09">BP</text>
<rect x="657.9" y="32.2" width="10" height="6.6" fill="#00763A"/>
<text x="671" y="37" font-size="4.3" fill="#000" transform="rotate(0.1 671 37)" stroke="#000" stroke-width="0.09">CC</text>
<rect x="657.9" y="39.6" width="10" height="6.6" fill="#0A0A4A"/>
<text x="671" y="44.4" font-size="4.3" fill="#000" transform="rotate(0.1 671 44.4)" stroke="#000" stroke-width="0.09">MF</text>
<text x="285.7" y="18.4" font-size="23" font-weight="bold" fill="#000" style="font-family:'Liberation Serif','Times New Roman',serif">C</text>
<rect x="387.4" y="300.1" width="64.9" height="108" fill="#fff"/>
<line x1="387.4" y1="306.3" x2="452.3" y2="306.3" stroke="#DDD" stroke-width="0.6"/>
<line x1="387.4" y1="316.9" x2="452.3" y2="316.9" stroke="#DDD" stroke-width="0.6"/>
<line x1="387.4" y1="327.6" x2="452.3" y2="327.6" stroke="#DDD" stroke-width="0.6"/>
<line x1="387.4" y1="338.2" x2="452.3" y2="338.2" stroke="#DDD" stroke-width="0.6"/>
<line x1="387.4" y1="348.9" x2="452.3" y2="348.9" stroke="#DDD" stroke-width="0.6"/>
<line x1="387.4" y1="359.6" x2="452.3" y2="359.6" stroke="#DDD" stroke-width="0.6"/>
<line x1="387.4" y1="370.2" x2="452.3" y2="370.2" stroke="#DDD" stroke-width="0.6"/>
<line x1="387.4" y1="380.9" x2="452.3" y2="380.9" stroke="#DDD" stroke-width="0.6"/>
<line x1="387.4" y1="391.5" x2="452.3" y2="391.5" stroke="#DDD" stroke-width="0.6"/>
<line x1="387.4" y1="402.2" x2="452.3" y2="402.2" stroke="#DDD" stroke-width="0.6"/>
<line x1="389.3" y1="300.1" x2="389.3" y2="408.1" stroke="#A8A8A8" stroke-width="0.5"/>
<line x1="409.9" y1="300.1" x2="409.9" y2="408.1" stroke="#A8A8A8" stroke-width="0.5"/>
<line x1="430.4" y1="300.1" x2="430.4" y2="408.1" stroke="#A8A8A8" stroke-width="0.5"/>
<line x1="451" y1="300.1" x2="451" y2="408.1" stroke="#A8A8A8" stroke-width="0.5"/>
<rect x="387.4" y="300.1" width="64.9" height="108" fill="none" stroke="#333" stroke-width="0.7"/>
<line x1="385.8" y1="306.3" x2="387.4" y2="306.3" stroke="#333" stroke-width="0.5"/>
<text x="385.3" y="307.6" font-size="3.56" text-anchor="end" fill="#000" transform="rotate(0.1 385.3 307.6)" stroke="#000" stroke-width="0.09">mitochondrial transport</text>
<line x1="385.8" y1="316.9" x2="387.4" y2="316.9" stroke="#333" stroke-width="0.5"/>
<text x="385.3" y="318.2" font-size="3.56" text-anchor="end" fill="#000" transform="rotate(0.1 385.3 318.2)" stroke="#000" stroke-width="0.09">aerobic respiration</text>
<line x1="385.8" y1="327.6" x2="387.4" y2="327.6" stroke="#333" stroke-width="0.5"/>
<text x="385.3" y="328.9" font-size="3.56" text-anchor="end" fill="#000" transform="rotate(0.1 385.3 328.9)" stroke="#000" stroke-width="0.09">apoptotic mitochondrial changes</text>
<line x1="385.8" y1="338.2" x2="387.4" y2="338.2" stroke="#333" stroke-width="0.5"/>
<text x="385.3" y="339.5" font-size="3.56" text-anchor="end" fill="#000" transform="rotate(0.1 385.3 339.5)" stroke="#000" stroke-width="0.09">mitochondrial transmembrane transport</text>
<line x1="385.8" y1="348.9" x2="387.4" y2="348.9" stroke="#333" stroke-width="0.5"/>
<text x="385.3" y="350.2" font-size="3.56" text-anchor="end" fill="#000" transform="rotate(0.1 385.3 350.2)" stroke="#000" stroke-width="0.09">cellular respiration</text>
<line x1="385.8" y1="359.6" x2="387.4" y2="359.6" stroke="#333" stroke-width="0.5"/>
<text x="385.3" y="360.8" font-size="3.56" text-anchor="end" fill="#000" transform="rotate(0.1 385.3 360.8)" stroke="#000" stroke-width="0.09">regulation of mitochondrion organization</text>
<line x1="385.8" y1="370.2" x2="387.4" y2="370.2" stroke="#333" stroke-width="0.5"/>
<text x="385.3" y="371.5" font-size="3.56" text-anchor="end" fill="#000" transform="rotate(0.1 385.3 371.5)" stroke="#000" stroke-width="0.09">energy derivation by oxidation of organic compounds</text>
<line x1="385.8" y1="380.9" x2="387.4" y2="380.9" stroke="#333" stroke-width="0.5"/>
<text x="385.3" y="382.1" font-size="3.56" text-anchor="end" fill="#000" transform="rotate(0.1 385.3 382.1)" stroke="#000" stroke-width="0.09">mitochondrial calcium ion transmembrane transport</text>
<line x1="385.8" y1="391.5" x2="387.4" y2="391.5" stroke="#333" stroke-width="0.5"/>
<text x="385.3" y="392.8" font-size="3.56" text-anchor="end" fill="#000" transform="rotate(0.1 385.3 392.8)" stroke="#000" stroke-width="0.09">calcium import into the mitochondrion</text>
<line x1="385.8" y1="402.2" x2="387.4" y2="402.2" stroke="#333" stroke-width="0.5"/>
<text x="385.3" y="403.4" font-size="3.56" text-anchor="end" fill="#000" transform="rotate(0.1 385.3 403.4)" stroke="#000" stroke-width="0.09">cellular response to chemical stress</text>
<line x1="389.3" y1="408.1" x2="389.3" y2="409.5" stroke="#333" stroke-width="0.5"/>
<text x="389.3" y="411.9" font-size="3.6" text-anchor="middle" fill="#222" transform="rotate(0.1 389.3 411.9)" stroke="#222" stroke-width="0.09">0</text>
<line x1="409.9" y1="408.1" x2="409.9" y2="409.5" stroke="#333" stroke-width="0.5"/>
<text x="409.9" y="411.9" font-size="3.6" text-anchor="middle" fill="#222" transform="rotate(0.1 409.9 411.9)" stroke="#222" stroke-width="0.09">4</text>
<line x1="430.4" y1="408.1" x2="430.4" y2="409.5" stroke="#333" stroke-width="0.5"/>
<text x="430.4" y="411.9" font-size="3.6" text-anchor="middle" fill="#222" transform="rotate(0.1 430.4 411.9)" stroke="#222" stroke-width="0.09">8</text>
<line x1="451" y1="408.1" x2="451" y2="409.5" stroke="#333" stroke-width="0.5"/>
<text x="451" y="411.9" font-size="3.6" text-anchor="middle" fill="#222" transform="rotate(0.1 451 411.9)" stroke="#222" stroke-width="0.09">12</text>
<circle cx="448.1" cy="306.3" r="2.6" fill="#FF0000"/>
<circle cx="419.2" cy="316.9" r="2" fill="#FF0000"/>
<circle cx="417.6" cy="327.6" r="2" fill="#FF0000"/>
<circle cx="413.2" cy="338.2" r="1.9" fill="#FF0000"/>
<circle cx="411.5" cy="348.9" r="2.2" fill="#FF0000"/>
<circle cx="410.5" cy="359.6" r="2.2" fill="#FF0000"/>
<circle cx="403.2" cy="370.2" r="2.4" fill="#FF0000"/>
<circle cx="396" cy="380.9" r="1.1" fill="#E8001A"/>
<circle cx="393.3" cy="391.5" r="0.6" fill="#A0205F"/>
<circle cx="390.9" cy="402.2" r="2.4" fill="#1010FF"/>
<text x="420" y="297.9" font-size="5.15" text-anchor="middle" fill="#000" transform="rotate(0.1 420 297.9)" stroke="#000" stroke-width="0.09">Biological Process</text>
<text x="419.9" y="417.4" font-size="4.5" text-anchor="middle" fill="#000" transform="rotate(0.1 419.9 417.4)" stroke="#000" stroke-width="0.09">EnrichmentScore (−log10(pvalue))</text>
<text x="458.9" y="310.2" font-size="4.4" fill="#000" transform="rotate(0.1 458.9 310.2)" stroke="#000" stroke-width="0.09">Count</text>
<rect x="458.9" y="312.4" width="7.2" height="44.6" fill="#F2F2F2"/>
<circle cx="462.5" cy="315.6" r="0.6" fill="#000"/>
<text x="468.2" y="316.8" font-size="3.3" fill="#000" transform="rotate(0.1 468.2 316.8)" stroke="#000" stroke-width="0.09">4</text>
<circle cx="462.5" cy="322.1" r="1.1" fill="#000"/>
<text x="468.2" y="323.3" font-size="3.3" fill="#000" transform="rotate(0.1 468.2 323.3)" stroke="#000" stroke-width="0.09">6</text>
<circle cx="462.5" cy="328.3" r="1.4" fill="#000"/>
<text x="468.2" y="329.5" font-size="3.3" fill="#000" transform="rotate(0.1 468.2 329.5)" stroke="#000" stroke-width="0.09">8</text>
<circle cx="462.5" cy="334.5" r="1.7" fill="#000"/>
<text x="468.2" y="335.7" font-size="3.3" fill="#000" transform="rotate(0.1 468.2 335.7)" stroke="#000" stroke-width="0.09">10</text>
<circle cx="462.5" cy="340.9" r="1.9" fill="#000"/>
<text x="468.2" y="342.1" font-size="3.3" fill="#000" transform="rotate(0.1 468.2 342.1)" stroke="#000" stroke-width="0.09">12</text>
<circle cx="462.5" cy="347.3" r="2.1" fill="#000"/>
<text x="468.2" y="348.5" font-size="3.3" fill="#000" transform="rotate(0.1 468.2 348.5)" stroke="#000" stroke-width="0.09">14</text>
<circle cx="462.5" cy="353.8" r="2.4" fill="#000"/>
<text x="468.2" y="355" font-size="3.3" fill="#000" transform="rotate(0.1 468.2 355)" stroke="#000" stroke-width="0.09">16</text>
<text x="458.9" y="368.6" font-size="4.4" fill="#000" transform="rotate(0.1 458.9 368.6)" stroke="#000" stroke-width="0.09">pvalue</text>
<defs><linearGradient id="pvg" x1="0" y1="0" x2="0" y2="1"><stop offset="0" stop-color="#0A00FF"/><stop offset="0.2" stop-color="#5000D8"/><stop offset="0.4" stop-color="#900090"/><stop offset="0.55" stop-color="#B80060"/><stop offset="0.7" stop-color="#D80030"/><stop offset="0.85" stop-color="#EC0008"/><stop offset="1" stop-color="#F00000"/></linearGradient></defs>
<rect x="458.9" y="370.7" width="6.9" height="31.9" fill="url(#pvg)"/>
<path d="M458.9 375h1.2M464.6 375h1.2" stroke="#fff" stroke-width="0.4"/>
<text x="468" y="376.2" font-size="3.3" fill="#000" transform="rotate(0.1 468 376.2)" stroke="#000" stroke-width="0.09">6e-07</text>
<path d="M458.9 384h1.2M464.6 384h1.2" stroke="#fff" stroke-width="0.4"/>
<text x="468" y="385.2" font-size="3.3" fill="#000" transform="rotate(0.1 468 385.2)" stroke="#000" stroke-width="0.09">4e-07</text>
<path d="M458.9 392.9h1.2M464.6 392.9h1.2" stroke="#fff" stroke-width="0.4"/>
<text x="468" y="394.1" font-size="3.3" fill="#000" transform="rotate(0.1 468 394.1)" stroke="#000" stroke-width="0.09">2e-07</text>
<rect x="385.3" y="446.5" width="62.3" height="108.9" fill="#fff"/>
<line x1="385.3" y1="453.2" x2="447.6" y2="453.2" stroke="#DDD" stroke-width="0.6"/>
<line x1="385.3" y1="463.9" x2="447.6" y2="463.9" stroke="#DDD" stroke-width="0.6"/>
<line x1="385.3" y1="474.6" x2="447.6" y2="474.6" stroke="#DDD" stroke-width="0.6"/>
<line x1="385.3" y1="485.3" x2="447.6" y2="485.3" stroke="#DDD" stroke-width="0.6"/>
<line x1="385.3" y1="496" x2="447.6" y2="496" stroke="#DDD" stroke-width="0.6"/>
<line x1="385.3" y1="506.7" x2="447.6" y2="506.7" stroke="#DDD" stroke-width="0.6"/>
<line x1="385.3" y1="517.4" x2="447.6" y2="517.4" stroke="#DDD" stroke-width="0.6"/>
<line x1="385.3" y1="528.1" x2="447.6" y2="528.1" stroke="#DDD" stroke-width="0.6"/>
<line x1="385.3" y1="538.8" x2="447.6" y2="538.8" stroke="#DDD" stroke-width="0.6"/>
<line x1="385.3" y1="549.5" x2="447.6" y2="549.5" stroke="#DDD" stroke-width="0.6"/>
<line x1="388.8" y1="446.5" x2="388.8" y2="555.4" stroke="#A8A8A8" stroke-width="0.5"/>
<line x1="407.4" y1="446.5" x2="407.4" y2="555.4" stroke="#A8A8A8" stroke-width="0.5"/>
<line x1="425.9" y1="446.5" x2="425.9" y2="555.4" stroke="#A8A8A8" stroke-width="0.5"/>
<line x1="444.5" y1="446.5" x2="444.5" y2="555.4" stroke="#A8A8A8" stroke-width="0.5"/>
<rect x="385.3" y="446.5" width="62.3" height="108.9" fill="none" stroke="#333" stroke-width="0.7"/>
<line x1="383.7" y1="453.2" x2="385.3" y2="453.2" stroke="#333" stroke-width="0.5"/>
<text x="383.2" y="454.5" font-size="3.56" text-anchor="end" fill="#000" transform="rotate(0.1 383.2 454.5)" stroke="#000" stroke-width="0.09">mitochondrial matrix</text>
<line x1="383.7" y1="463.9" x2="385.3" y2="463.9" stroke="#333" stroke-width="0.5"/>
<text x="383.2" y="465.2" font-size="3.56" text-anchor="end" fill="#000" transform="rotate(0.1 383.2 465.2)" stroke="#000" stroke-width="0.09">mitochondrial outer membrane</text>
<line x1="383.7" y1="474.6" x2="385.3" y2="474.6" stroke="#333" stroke-width="0.5"/>
<text x="383.2" y="475.9" font-size="3.56" text-anchor="end" fill="#000" transform="rotate(0.1 383.2 475.9)" stroke="#000" stroke-width="0.09">organelle outer membrane</text>
<line x1="383.7" y1="485.3" x2="385.3" y2="485.3" stroke="#333" stroke-width="0.5"/>
<text x="383.2" y="486.6" font-size="3.56" text-anchor="end" fill="#000" transform="rotate(0.1 383.2 486.6)" stroke="#000" stroke-width="0.09">outer membrane</text>
<line x1="383.7" y1="496" x2="385.3" y2="496" stroke="#333" stroke-width="0.5"/>
<text x="383.2" y="497.3" font-size="3.56" text-anchor="end" fill="#000" transform="rotate(0.1 383.2 497.3)" stroke="#000" stroke-width="0.09">mitochondrial inner membrane</text>
<line x1="383.7" y1="506.7" x2="385.3" y2="506.7" stroke="#333" stroke-width="0.5"/>
<text x="383.2" y="508" font-size="3.56" text-anchor="end" fill="#000" transform="rotate(0.1 383.2 508)" stroke="#000" stroke-width="0.09">mitochondrial intermembrane space</text>
<line x1="383.7" y1="517.4" x2="385.3" y2="517.4" stroke="#333" stroke-width="0.5"/>
<text x="383.2" y="518.7" font-size="3.56" text-anchor="end" fill="#000" transform="rotate(0.1 383.2 518.7)" stroke="#000" stroke-width="0.09">organelle envelope lumen</text>
<line x1="383.7" y1="528.1" x2="385.3" y2="528.1" stroke="#333" stroke-width="0.5"/>
<text x="383.2" y="529.4" font-size="3.56" text-anchor="end" fill="#000" transform="rotate(0.1 383.2 529.4)" stroke="#000" stroke-width="0.09">integral component of mitochondrial membrane</text>
<line x1="383.7" y1="538.8" x2="385.3" y2="538.8" stroke="#333" stroke-width="0.5"/>
<text x="383.2" y="540.1" font-size="3.56" text-anchor="end" fill="#000" transform="rotate(0.1 383.2 540.1)" stroke="#000" stroke-width="0.09">intrinsic component of mitochondrial membrane</text>
<line x1="383.7" y1="549.5" x2="385.3" y2="549.5" stroke="#333" stroke-width="0.5"/>
<text x="383.2" y="550.8" font-size="3.56" text-anchor="end" fill="#000" transform="rotate(0.1 383.2 550.8)" stroke="#000" stroke-width="0.09">mitochondrial protein complex</text>
<line x1="388.8" y1="555.4" x2="388.8" y2="556.8" stroke="#333" stroke-width="0.5"/>
<text x="388.8" y="560.3" font-size="3.6" text-anchor="middle" fill="#222" transform="rotate(0.1 388.8 560.3)" stroke="#222" stroke-width="0.09">4</text>
<line x1="407.4" y1="555.4" x2="407.4" y2="556.8" stroke="#333" stroke-width="0.5"/>
<text x="407.4" y="560.3" font-size="3.6" text-anchor="middle" fill="#222" transform="rotate(0.1 407.4 560.3)" stroke="#222" stroke-width="0.09">8</text>
<line x1="425.9" y1="555.4" x2="425.9" y2="556.8" stroke="#333" stroke-width="0.5"/>
<text x="425.9" y="560.3" font-size="3.6" text-anchor="middle" fill="#222" transform="rotate(0.1 425.9 560.3)" stroke="#222" stroke-width="0.09">12</text>
<line x1="444.5" y1="555.4" x2="444.5" y2="556.8" stroke="#333" stroke-width="0.5"/>
<text x="444.5" y="560.3" font-size="3.6" text-anchor="middle" fill="#222" transform="rotate(0.1 444.5 560.3)" stroke="#222" stroke-width="0.09">16</text>
<circle cx="444.1" cy="453.2" r="2.7" fill="#FF0000"/>
<circle cx="428.9" cy="463.9" r="2.1" fill="#FF0000"/>
<circle cx="424.8" cy="474.6" r="2" fill="#FF0000"/>
<circle cx="424.5" cy="485.3" r="2" fill="#FF0000"/>
<circle cx="423" cy="496" r="2.5" fill="#FF0000"/>
<circle cx="406.1" cy="506.7" r="1.1" fill="#FF0000"/>
<circle cx="404.4" cy="517.4" r="1.3" fill="#FF0000"/>
<circle cx="399.7" cy="528.1" r="0.8" fill="#FF0000"/>
<circle cx="399.4" cy="538.8" r="0.8" fill="#FF0000"/>
<circle cx="388" cy="549.5" r="1.1" fill="#0000FF"/>
<text x="416.4" y="444.8" font-size="5.15" text-anchor="middle" fill="#000" transform="rotate(0.1 416.4 444.8)" stroke="#000" stroke-width="0.09">Cellular Component</text>
<text x="416.5" y="565" font-size="4.5" text-anchor="middle" fill="#000" transform="rotate(0.1 416.5 565)" stroke="#000" stroke-width="0.09">EnrichmentScore (−log10(pvalue))</text>
<text x="454.3" y="470" font-size="4.4" fill="#000" transform="rotate(0.1 454.3 470)" stroke="#000" stroke-width="0.09">Count</text>
<rect x="454.3" y="471.8" width="6.2" height="19.5" fill="#F2F2F2"/>
<circle cx="457.4" cy="474.9" r="1.2" fill="#000"/>
<text x="463" y="476.1" font-size="3.3" fill="#000" transform="rotate(0.1 463 476.1)" stroke="#000" stroke-width="0.09">10</text>
<circle cx="457.4" cy="481.3" r="1.7" fill="#000"/>
<text x="463" y="482.5" font-size="3.3" fill="#000" transform="rotate(0.1 463 482.5)" stroke="#000" stroke-width="0.09">15</text>
<circle cx="457.4" cy="488" r="2.2" fill="#000"/>
<text x="463" y="489.2" font-size="3.3" fill="#000" transform="rotate(0.1 463 489.2)" stroke="#000" stroke-width="0.09">20</text>
<text x="454.3" y="502.6" font-size="4.4" fill="#000" transform="rotate(0.1 454.3 502.6)" stroke="#000" stroke-width="0.09">pvalue</text>
<rect x="454.3" y="505.5" width="6.1" height="30.7" fill="url(#pvg)"/>
<text x="463" y="507" font-size="3.3" fill="#000" transform="rotate(0.1 463 507)" stroke="#000" stroke-width="0.09">0.000125</text>
<text x="463" y="513.2" font-size="3.3" fill="#000" transform="rotate(0.1 463 513.2)" stroke="#000" stroke-width="0.09">0.000100</text>
<text x="463" y="519.2" font-size="3.3" fill="#000" transform="rotate(0.1 463 519.2)" stroke="#000" stroke-width="0.09">0.000075</text>
<text x="463" y="525.4" font-size="3.3" fill="#000" transform="rotate(0.1 463 525.4)" stroke="#000" stroke-width="0.09">0.000050</text>
<text x="463" y="531.5" font-size="3.3" fill="#000" transform="rotate(0.1 463 531.5)" stroke="#000" stroke-width="0.09">0.000025</text>
<rect x="389.8" y="593.2" width="61.9" height="108.8" fill="#fff"/>
<line x1="389.8" y1="599.6" x2="451.7" y2="599.6" stroke="#DDD" stroke-width="0.6"/>
<line x1="389.8" y1="610.2" x2="451.7" y2="610.2" stroke="#DDD" stroke-width="0.6"/>
<line x1="389.8" y1="620.8" x2="451.7" y2="620.8" stroke="#DDD" stroke-width="0.6"/>
<line x1="389.8" y1="631.4" x2="451.7" y2="631.4" stroke="#DDD" stroke-width="0.6"/>
<line x1="389.8" y1="642" x2="451.7" y2="642" stroke="#DDD" stroke-width="0.6"/>
<line x1="389.8" y1="652.6" x2="451.7" y2="652.6" stroke="#DDD" stroke-width="0.6"/>
<line x1="389.8" y1="663.2" x2="451.7" y2="663.2" stroke="#DDD" stroke-width="0.6"/>
<line x1="389.8" y1="673.8" x2="451.7" y2="673.8" stroke="#DDD" stroke-width="0.6"/>
<line x1="389.8" y1="684.4" x2="451.7" y2="684.4" stroke="#DDD" stroke-width="0.6"/>
<line x1="389.8" y1="695" x2="451.7" y2="695" stroke="#DDD" stroke-width="0.6"/>
<line x1="400" y1="593.2" x2="400" y2="702" stroke="#A8A8A8" stroke-width="0.5"/>
<line x1="412.5" y1="593.2" x2="412.5" y2="702" stroke="#A8A8A8" stroke-width="0.5"/>
<line x1="424.9" y1="593.2" x2="424.9" y2="702" stroke="#A8A8A8" stroke-width="0.5"/>
<line x1="437.4" y1="593.2" x2="437.4" y2="702" stroke="#A8A8A8" stroke-width="0.5"/>
<line x1="449.9" y1="593.2" x2="449.9" y2="702" stroke="#A8A8A8" stroke-width="0.5"/>
<rect x="389.8" y="593.2" width="61.9" height="108.8" fill="none" stroke="#333" stroke-width="0.7"/>
<line x1="388.2" y1="599.6" x2="389.8" y2="599.6" stroke="#333" stroke-width="0.5"/>
<text x="387.7" y="600.9" font-size="3.56" text-anchor="end" fill="#000" transform="rotate(0.1 387.7 600.9)" stroke="#000" stroke-width="0.09">phospholipid transfer activity</text>
<line x1="388.2" y1="610.2" x2="389.8" y2="610.2" stroke="#333" stroke-width="0.5"/>
<text x="387.7" y="611.5" font-size="3.56" text-anchor="end" fill="#000" transform="rotate(0.1 387.7 611.5)" stroke="#000" stroke-width="0.09">ATP transmembrane transporter activity</text>
<line x1="388.2" y1="620.8" x2="389.8" y2="620.8" stroke="#333" stroke-width="0.5"/>
<text x="387.7" y="622.1" font-size="3.56" text-anchor="end" fill="#000" transform="rotate(0.1 387.7 622.1)" stroke="#000" stroke-width="0.09">adenine nucleotide transmembrane transporter activity</text>
<line x1="388.2" y1="631.4" x2="389.8" y2="631.4" stroke="#333" stroke-width="0.5"/>
<text x="387.7" y="632.7" font-size="3.56" text-anchor="end" fill="#000" transform="rotate(0.1 387.7 632.7)" stroke="#000" stroke-width="0.09">purine ribonucleotide transmembrane transporter activity</text>
<line x1="388.2" y1="642" x2="389.8" y2="642" stroke="#333" stroke-width="0.5"/>
<text x="387.7" y="643.3" font-size="3.56" text-anchor="end" fill="#000" transform="rotate(0.1 387.7 643.3)" stroke="#000" stroke-width="0.09">purine nucleotide transmembrane transporter activity</text>
<line x1="388.2" y1="652.6" x2="389.8" y2="652.6" stroke="#333" stroke-width="0.5"/>
<text x="387.7" y="653.9" font-size="3.56" text-anchor="end" fill="#000" transform="rotate(0.1 387.7 653.9)" stroke="#000" stroke-width="0.09">nucleotide transmembrane transporter activity</text>
<line x1="388.2" y1="663.2" x2="389.8" y2="663.2" stroke="#333" stroke-width="0.5"/>
<text x="387.7" y="663.1" font-size="3.56" text-anchor="end" fill="#000" transform="rotate(0.1 387.7 663.1)" stroke="#000" stroke-width="0.09">oxidoreductase activity, acting on the aldehyde or oxo group</text>
<text x="387.7" y="666.6" font-size="3.56" text-anchor="end" fill="#000" transform="rotate(0.1 387.7 666.6)" stroke="#000" stroke-width="0.09">of donors, NAD or NADP as acceptor</text>
<line x1="388.2" y1="673.8" x2="389.8" y2="673.8" stroke="#333" stroke-width="0.5"/>
<text x="387.7" y="675.1" font-size="3.56" text-anchor="end" fill="#000" transform="rotate(0.1 387.7 675.1)" stroke="#000" stroke-width="0.09">organophosphate ester transmembrane transporter activity</text>
<line x1="388.2" y1="684.4" x2="389.8" y2="684.4" stroke="#333" stroke-width="0.5"/>
<text x="387.7" y="685.7" font-size="3.56" text-anchor="end" fill="#000" transform="rotate(0.1 387.7 685.7)" stroke="#000" stroke-width="0.09">lipid transfer activity</text>
<line x1="388.2" y1="695" x2="389.8" y2="695" stroke="#333" stroke-width="0.5"/>
<text x="387.7" y="694.9" font-size="3.56" text-anchor="end" fill="#000" transform="rotate(0.1 387.7 694.9)" stroke="#000" stroke-width="0.09">oxidoreductase activity, acting on the aldehyde or oxo group</text>
<text x="387.7" y="698.4" font-size="3.56" text-anchor="end" fill="#000" transform="rotate(0.1 387.7 698.4)" stroke="#000" stroke-width="0.09">of donors</text>
<line x1="400" y1="702" x2="400" y2="703.4" stroke="#333" stroke-width="0.5"/>
<text x="400" y="706" font-size="3.6" text-anchor="middle" fill="#222" transform="rotate(0.1 400 706)" stroke="#222" stroke-width="0.09">2.8</text>
<line x1="412.5" y1="702" x2="412.5" y2="703.4" stroke="#333" stroke-width="0.5"/>
<text x="412.5" y="706" font-size="3.6" text-anchor="middle" fill="#222" transform="rotate(0.1 412.5 706)" stroke="#222" stroke-width="0.09">3.0</text>
<line x1="424.9" y1="702" x2="424.9" y2="703.4" stroke="#333" stroke-width="0.5"/>
<text x="424.9" y="706" font-size="3.6" text-anchor="middle" fill="#222" transform="rotate(0.1 424.9 706)" stroke="#222" stroke-width="0.09">3.2</text>
<line x1="437.4" y1="702" x2="437.4" y2="703.4" stroke="#333" stroke-width="0.5"/>
<text x="437.4" y="706" font-size="3.6" text-anchor="middle" fill="#222" transform="rotate(0.1 437.4 706)" stroke="#222" stroke-width="0.09">3.4</text>
<line x1="449.9" y1="702" x2="449.9" y2="703.4" stroke="#333" stroke-width="0.5"/>
<text x="449.9" y="706" font-size="3.6" text-anchor="middle" fill="#222" transform="rotate(0.1 449.9 706)" stroke="#222" stroke-width="0.09">3.6</text>
<circle cx="446.1" cy="599.6" r="2.1" fill="#FF0000"/>
<circle cx="432.7" cy="610.2" r="2.1" fill="#FF0000"/>
<circle cx="421.9" cy="620.8" r="2.1" fill="#FF0000"/>
<circle cx="421.9" cy="631.4" r="2.1" fill="#FF0000"/>
<circle cx="419" cy="642" r="2.1" fill="#F00010"/>
<circle cx="414.3" cy="652.6" r="2.1" fill="#D0103A"/>
<circle cx="409.6" cy="663.2" r="2.1" fill="#B01860"/>
<circle cx="403.2" cy="673.8" r="2.1" fill="#8E208A"/>
<circle cx="395.6" cy="684.4" r="2.1" fill="#2020FF"/>
<circle cx="393.9" cy="695" r="2.1" fill="#1010FF"/>
<text x="420.6" y="590.8" font-size="5.15" text-anchor="middle" fill="#000" transform="rotate(0.1 420.6 590.8)" stroke="#000" stroke-width="0.09">Molecular Function</text>
<text x="420.8" y="710.6" font-size="4.5" text-anchor="middle" fill="#000" transform="rotate(0.1 420.8 710.6)" stroke="#000" stroke-width="0.09">EnrichmentScore (−log10(pvalue))</text>
<text x="458.1" y="621.6" font-size="4.4" fill="#000" transform="rotate(0.1 458.1 621.6)" stroke="#000" stroke-width="0.09">Count</text>
<rect x="458.1" y="623.6" width="7" height="7.4" fill="#F2F2F2"/>
<circle cx="461.6" cy="627.4" r="2.1" fill="#000"/>
<text x="466.5" y="628.6" font-size="3.3" fill="#000" transform="rotate(0.1 466.5 628.6)" stroke="#000" stroke-width="0.09">3</text>
<text x="458.1" y="642.3" font-size="4.4" fill="#000" transform="rotate(0.1 458.1 642.3)" stroke="#000" stroke-width="0.09">pvalue</text>
<rect x="458.1" y="644" width="6.4" height="32.1" fill="url(#pvg)"/>
<text x="467" y="646.7" font-size="3.3" fill="#000" transform="rotate(0.1 467 646.7)" stroke="#000" stroke-width="0.09">0.0020</text>
<text x="467" y="655.7" font-size="3.3" fill="#000" transform="rotate(0.1 467 655.7)" stroke="#000" stroke-width="0.09">0.0015</text>
<text x="467" y="665.1" font-size="3.3" fill="#000" transform="rotate(0.1 467 665.1)" stroke="#000" stroke-width="0.09">0.0010</text>
<text x="467" y="673.8" font-size="3.3" fill="#000" transform="rotate(0.1 467 673.8)" stroke="#000" stroke-width="0.09">0.0005</text>
<text x="285.7" y="306.9" font-size="23" font-weight="bold" fill="#000" style="font-family:'Liberation Serif','Times New Roman',serif">D</text>
<path d="M623.7 346.3A50.6 46.7 0 0 1 564.4 297.7M624.6 354.2A58.0 53.5 0 0 1 564.4 297.7M624.4 362.1A66.3 61.2 0 0 1 564.4 297.7M623 370A75.8 70.0 0 0 1 564.4 297.7M620.5 377.6A87.0 80.3 0 0 1 564.4 297.7M617 384.9A100.4 92.6 0 0 1 564.4 297.7M612.4 391.6A116.9 107.8 0 0 1 564.4 297.7M606.8 397.8A137.9 127.3 0 0 1 564.4 297.7M600.5 403.1A166.0 153.2 0 0 1 564.4 297.7M593.4 407.7A205.8 189.9 0 0 1 564.4 297.7M585.7 411.3A267.2 246.5 0 0 1 564.4 297.7M577.5 414A375.6 346.5 0 0 1 564.4 297.7M569.1 415.6A622.3 574.1 0 0 1 564.4 297.7M560.5 416.2A1767.4 1630.6 0 0 1 564.4 297.7M551.9 415.7L564.4 297.7M543.4 414.2A662.0 610.8 0 0 0 564.4 297.7" stroke="#E76BF3" stroke-width="0.4" fill="none" stroke-opacity="0.9"/>
<path d="M535.2 411.6A679.8 627.2 0 0 0 573.2 298.8M527.5 408A396.2 365.5 0 0 0 573.2 298.8M520.3 403.6A277.7 256.2 0 0 0 573.2 298.8M513.9 398.3A212.2 195.8 0 0 0 573.2 298.8M508.3 392.2A170.4 157.2 0 0 0 573.2 298.8M503.6 385.5A141.1 130.2 0 0 0 573.2 298.8M617 384.9A86.5 79.8 0 0 1 573.2 298.8M612.4 391.6A99.8 92.1 0 0 1 573.2 298.8M577.5 414A264.2 243.8 0 0 1 573.2 298.8" stroke="#F8766D" stroke-width="0.4" fill="none" stroke-opacity="0.9"/>
<path d="M499.9 378.3A140.6 129.8 0 0 0 581.5 300.3M497.3 370.7A119.0 109.8 0 0 0 581.5 300.3M495.9 362.8A102.0 94.1 0 0 0 581.5 300.3M495.5 354.9A88.4 81.5 0 0 0 581.5 300.3M496.4 346.9A77.0 71.0 0 0 0 581.5 300.3M560.5 416.2A372.9 344.0 0 0 1 581.5 300.3M508.3 392.2A211.2 194.9 0 0 0 581.5 300.3M593.4 407.7A137.5 126.9 0 0 1 581.5 300.3M543.4 414.2A1710.7 1578.3 0 0 1 581.5 300.3" stroke="#D89000" stroke-width="0.4" fill="none" stroke-opacity="0.9"/>
<path d="M612.4 391.6A75.8 69.9 0 0 1 589.2 303.6M569.1 415.6A205.7 189.8 0 0 1 589.2 303.6M606.8 397.8A87.0 80.3 0 0 1 589.2 303.6M551.9 415.7A375.3 346.3 0 0 1 589.2 303.6M600.5 403.1A100.4 92.6 0 0 1 589.2 303.6M624.4 362.1A44.0 40.6 0 0 1 589.2 303.6M577.5 414A166.0 153.1 0 0 1 589.2 303.6M593.4 407.7A116.9 107.8 0 0 1 589.2 303.6M623 370A50.6 46.7 0 0 1 589.2 303.6" stroke="#9590FF" stroke-width="0.4" fill="none" stroke-opacity="0.9"/>
<path d="M498.3 339.2A87.7 80.9 0 0 0 596.6 307.1M501.4 331.7A76.4 70.5 0 0 0 596.6 307.1M535.2 411.6A638.1 588.8 0 0 1 596.6 307.1M527.5 408A1900.2 1753.1 0 0 1 596.6 307.1M520.3 403.6A1961.6 1809.7 0 0 0 596.6 307.1M513.9 398.3A645.0 595.1 0 0 0 596.6 307.1M508.3 392.2A383.9 354.1 0 0 0 596.6 307.1M503.6 385.5A271.5 250.4 0 0 0 596.6 307.1M623.7 346.3A27.3 25.2 0 0 1 596.6 307.1M543.4 414.2A381.4 351.9 0 0 1 596.6 307.1" stroke="#39B600" stroke-width="0.4" fill="none" stroke-opacity="0.9"/>
<path d="M505.5 324.7A76.9 70.9 0 0 0 603.2 312.8M510.6 318.3A67.2 62.0 0 0 0 603.2 312.8M516.6 312.5A58.7 54.2 0 0 0 603.2 312.8M499.9 378.3A275.1 253.8 0 0 0 603.2 312.8M497.3 370.7A210.6 194.3 0 0 0 603.2 312.8M495.9 362.8A169.3 156.2 0 0 0 603.2 312.8M495.5 354.9A140.3 129.5 0 0 0 603.2 312.8M496.4 346.9A118.7 109.5 0 0 0 603.2 312.8M577.5 414A116.8 107.7 0 0 1 603.2 312.8M551.9 415.7A205.5 189.6 0 0 1 603.2 312.8M593.4 407.7A86.9 80.2 0 0 1 603.2 312.8" stroke="#FF62BC" stroke-width="0.4" fill="none" stroke-opacity="0.9"/>
<path d="M523.4 307.6A58.8 54.3 0 0 0 609.3 318.5M530.8 303.5A51.4 47.4 0 0 0 609.3 318.5M535.2 411.6A265.8 245.2 0 0 1 609.3 318.5M527.5 408A372.9 344.0 0 0 1 609.3 318.5M520.3 403.6A615.1 567.5 0 0 1 609.3 318.5M513.9 398.3A1710.9 1578.5 0 0 1 609.3 318.5M508.3 392.2L609.3 318.5M503.6 385.5A670.4 618.5 0 0 0 609.3 318.5M498.3 339.2A119.0 109.7 0 0 0 609.3 318.5M501.4 331.7A102.0 94.1 0 0 0 609.3 318.5M560.5 416.2A137.5 126.9 0 0 1 609.3 318.5M624.6 354.2A22.0 20.3 0 0 1 609.3 318.5" stroke="#00BFC4" stroke-width="0.4" fill="none" stroke-opacity="0.9"/>
<path d="M620.5 377.6A32.2 29.7 0 0 1 614.8 324.6M569.1 415.6A100.2 92.4 0 0 1 614.8 324.6M551.9 415.7A137.6 127.0 0 0 1 614.8 324.6M623 370A27.0 24.9 0 0 1 614.8 324.6M560.5 416.2A116.6 107.6 0 0 1 614.8 324.6" stroke="#00B0F6" stroke-width="0.4" fill="none" stroke-opacity="0.9"/>
<path d="M620.5 377.6A27.0 24.9 0 0 1 619.2 331.6M623 370A22.0 20.3 0 0 1 619.2 331.6M551.9 415.7A116.5 107.4 0 0 1 619.2 331.6M569.1 415.6A86.7 80.0 0 0 1 619.2 331.6" stroke="#A3A500" stroke-width="0.4" fill="none" stroke-opacity="0.9"/>
<path d="M538.7 300.4A67.1 61.9 0 0 0 621.8 339M547 298.2A58.7 54.1 0 0 0 621.8 339M555.6 297.1A51.2 47.3 0 0 0 621.8 339M501.4 331.7A169.0 155.9 0 0 0 621.8 339M624.4 362.1A12.9 11.9 0 0 1 621.8 339M503.6 385.5A624.1 575.8 0 0 1 621.8 339M527.5 408A166.2 153.3 0 0 1 621.8 339M543.4 414.2A117.0 107.9 0 0 1 621.8 339M499.9 378.3A1781.8 1643.9 0 0 1 621.8 339M623 370A17.4 16.1 0 0 1 621.8 339M508.3 392.2A376.2 347.1 0 0 1 621.8 339M577.5 414A66.3 61.2 0 0 1 621.8 339" stroke="#00BF7D" stroke-width="0.4" fill="none" stroke-opacity="0.9"/>
<circle cx="623.7" cy="346.3" r="0.95" fill="#F00010"/>
<text x="625.9" y="346.6" font-size="1.6" fill="#222" transform="rotate(0.1 625.9 346.6)" stroke="#222" stroke-width="0.13">MCU</text>
<circle cx="624.6" cy="354.2" r="0.95" fill="#2020F0"/>
<text x="626.8" y="354.8" font-size="1.6" fill="#222" transform="rotate(0.1 626.8 354.8)" stroke="#222" stroke-width="0.13">BCL2</text>
<circle cx="624.4" cy="362.1" r="0.95" fill="#F00010"/>
<text x="626.6" y="363" font-size="1.6" fill="#222" transform="rotate(0.1 626.6 363)" stroke="#222" stroke-width="0.13">VDAC2</text>
<circle cx="623" cy="370" r="0.95" fill="#F00010"/>
<text x="625.2" y="371.2" font-size="1.6" fill="#222" transform="rotate(0.1 625.2 371.2)" stroke="#222" stroke-width="0.13">UCP2</text>
<circle cx="620.5" cy="377.6" r="0.95" fill="#F00010"/>
<text x="622.6" y="379.1" font-size="1.6" fill="#222" transform="rotate(0.1 622.6 379.1)" stroke="#222" stroke-width="0.13">SDHB</text>
<circle cx="617" cy="384.9" r="0.95" fill="#F00010"/>
<text x="618.9" y="386.6" font-size="1.6" fill="#222" transform="rotate(0.1 618.9 386.6)" stroke="#222" stroke-width="0.13">SIRT3</text>
<circle cx="612.4" cy="391.6" r="0.95" fill="#9A1A9A"/>
<text x="614.1" y="393.6" font-size="1.6" fill="#222" transform="rotate(0.1 614.1 393.6)" stroke="#222" stroke-width="0.13">MPV17</text>
<circle cx="606.8" cy="397.8" r="0.95" fill="#F00010"/>
<text x="608.4" y="400" font-size="1.6" fill="#222" transform="rotate(0.1 608.4 400)" stroke="#222" stroke-width="0.13">CHCHD3</text>
<circle cx="600.5" cy="403.1" r="0.95" fill="#F00010"/>
<text x="601.8" y="405.6" font-size="1.6" fill="#222" transform="rotate(0.1 601.8 405.6)" stroke="#222" stroke-width="0.13">RHOT2</text>
<circle cx="593.4" cy="407.7" r="0.95" fill="#F00010"/>
<text x="594.5" y="410.3" font-size="1.6" fill="#222" transform="rotate(0.1 594.5 410.3)" stroke="#222" stroke-width="0.13">MDH2</text>
<circle cx="585.7" cy="411.3" r="0.95" fill="#9A1A9A"/>
<text x="586.6" y="414" font-size="1.6" fill="#222" transform="rotate(0.1 586.6 414)" stroke="#222" stroke-width="0.13">SHMT2</text>
<circle cx="577.5" cy="414" r="0.95" fill="#F00010"/>
<text x="578.1" y="416.8" font-size="1.6" text-anchor="middle" fill="#222" transform="rotate(0.1 578.1 416.8)" stroke="#222" stroke-width="0.13">NLRX1</text>
<circle cx="569.1" cy="415.6" r="0.95" fill="#F00010"/>
<text x="569.4" y="418.5" font-size="1.6" text-anchor="middle" fill="#222" transform="rotate(0.1 569.4 418.5)" stroke="#222" stroke-width="0.13">SLC25A23</text>
<circle cx="560.5" cy="416.2" r="0.95" fill="#9A1A9A"/>
<text x="560.5" y="419.1" font-size="1.6" text-anchor="middle" fill="#222" transform="rotate(0.1 560.5 419.1)" stroke="#222" stroke-width="0.13">BAX</text>
<circle cx="551.9" cy="415.7" r="0.95" fill="#2020F0"/>
<text x="551.6" y="418.6" font-size="1.6" text-anchor="middle" fill="#222" transform="rotate(0.1 551.6 418.6)" stroke="#222" stroke-width="0.13">VDAC1</text>
<circle cx="543.4" cy="414.2" r="0.95" fill="#F00010"/>
<text x="542.8" y="417" font-size="1.6" text-anchor="middle" fill="#222" transform="rotate(0.1 542.8 417)" stroke="#222" stroke-width="0.13">SOD2</text>
<circle cx="535.2" cy="411.6" r="0.95" fill="#9A1A9A"/>
<text x="534.4" y="414.3" font-size="1.6" text-anchor="end" fill="#222" transform="rotate(0.1 534.4 414.3)" stroke="#222" stroke-width="0.13">SDHA</text>
<circle cx="527.5" cy="408" r="0.95" fill="#F00010"/>
<text x="526.4" y="410.6" font-size="1.6" text-anchor="end" fill="#222" transform="rotate(0.1 526.4 410.6)" stroke="#222" stroke-width="0.13">PPARGC1A</text>
<circle cx="520.3" cy="403.6" r="0.95" fill="#9A1A9A"/>
<text x="519" y="406" font-size="1.6" text-anchor="end" fill="#222" transform="rotate(0.1 519 406)" stroke="#222" stroke-width="0.13">PARK7</text>
<circle cx="513.9" cy="398.3" r="0.95" fill="#F00010"/>
<text x="512.3" y="400.5" font-size="1.6" text-anchor="end" fill="#222" transform="rotate(0.1 512.3 400.5)" stroke="#222" stroke-width="0.13">IMMT</text>
<circle cx="508.3" cy="392.2" r="0.95" fill="#F00010"/>
<text x="506.5" y="394.2" font-size="1.6" text-anchor="end" fill="#222" transform="rotate(0.1 506.5 394.2)" stroke="#222" stroke-width="0.13">RHOT1</text>
<circle cx="503.6" cy="385.5" r="0.95" fill="#F00010"/>
<text x="501.7" y="387.3" font-size="1.6" text-anchor="end" fill="#222" transform="rotate(0.1 501.7 387.3)" stroke="#222" stroke-width="0.13">GOT2</text>
<circle cx="499.9" cy="378.3" r="0.95" fill="#F00010"/>
<text x="497.9" y="379.8" font-size="1.6" text-anchor="end" fill="#222" transform="rotate(0.1 497.9 379.8)" stroke="#222" stroke-width="0.13">PCK2</text>
<circle cx="497.3" cy="370.7" r="0.95" fill="#F00010"/>
<text x="495.2" y="371.9" font-size="1.6" text-anchor="end" fill="#222" transform="rotate(0.1 495.2 371.9)" stroke="#222" stroke-width="0.13">CISD2</text>
<circle cx="495.9" cy="362.8" r="0.95" fill="#F00010"/>
<text x="493.7" y="363.8" font-size="1.6" text-anchor="end" fill="#222" transform="rotate(0.1 493.7 363.8)" stroke="#222" stroke-width="0.13">SLC25A5</text>
<circle cx="495.5" cy="354.9" r="0.95" fill="#F00010"/>
<text x="493.3" y="355.5" font-size="1.6" text-anchor="end" fill="#222" transform="rotate(0.1 493.3 355.5)" stroke="#222" stroke-width="0.13">MFN2</text>
<circle cx="496.4" cy="346.9" r="0.95" fill="#2020F0"/>
<text x="494.2" y="347.3" font-size="1.6" text-anchor="end" fill="#222" transform="rotate(0.1 494.2 347.3)" stroke="#222" stroke-width="0.13">PRKN</text>
<circle cx="498.3" cy="339.2" r="0.95" fill="#F00010"/>
<text x="496.2" y="339.2" font-size="1.6" text-anchor="end" fill="#222" transform="rotate(0.1 496.2 339.2)" stroke="#222" stroke-width="0.13">TIMM50</text>
<circle cx="501.4" cy="331.7" r="0.95" fill="#F00010"/>
<text x="499.4" y="331.5" font-size="1.6" text-anchor="end" fill="#222" transform="rotate(0.1 499.4 331.5)" stroke="#222" stroke-width="0.13">NDUFS1</text>
<circle cx="505.5" cy="324.7" r="0.95" fill="#9A1A9A"/>
<text x="503.7" y="324.2" font-size="1.6" text-anchor="end" fill="#222" transform="rotate(0.1 503.7 324.2)" stroke="#222" stroke-width="0.13">PDK4</text>
<circle cx="510.6" cy="318.3" r="0.95" fill="#F00010"/>
<text x="508.9" y="317.6" font-size="1.6" text-anchor="end" fill="#222" transform="rotate(0.1 508.9 317.6)" stroke="#222" stroke-width="0.13">CLPX</text>
<circle cx="516.6" cy="312.5" r="0.95" fill="#F00010"/>
<text x="515.1" y="311.6" font-size="1.6" text-anchor="end" fill="#222" transform="rotate(0.1 515.1 311.6)" stroke="#222" stroke-width="0.13">PHB2</text>
<circle cx="523.4" cy="307.6" r="0.95" fill="#F00010"/>
<text x="522.1" y="306.5" font-size="1.6" text-anchor="end" fill="#222" transform="rotate(0.1 522.1 306.5)" stroke="#222" stroke-width="0.13">FUNDC1</text>
<circle cx="530.8" cy="303.5" r="0.95" fill="#2020F0"/>
<text x="529.8" y="302.2" font-size="1.6" text-anchor="end" fill="#222" transform="rotate(0.1 529.8 302.2)" stroke="#222" stroke-width="0.13">GLUD1</text>
<circle cx="538.7" cy="300.4" r="0.95" fill="#2020F0"/>
<text x="538" y="299" font-size="1.6" text-anchor="end" fill="#222" transform="rotate(0.1 538 299)" stroke="#222" stroke-width="0.13">PC</text>
<circle cx="547" cy="298.2" r="0.95" fill="#9A1A9A"/>
<text x="546.6" y="296.8" font-size="1.6" text-anchor="middle" fill="#222" transform="rotate(0.1 546.6 296.8)" stroke="#222" stroke-width="0.13">CISD1</text>
<circle cx="555.6" cy="297.1" r="0.95" fill="#F00010"/>
<text x="555.4" y="295.7" font-size="1.6" text-anchor="middle" fill="#222" transform="rotate(0.1 555.4 295.7)" stroke="#222" stroke-width="0.13">SLC25A4</text>
<circle cx="564.4" cy="297.7" r="2.6" fill="#E0B56E"/>
<text x="562.8" y="296" font-size="1.48" text-anchor="middle" fill="#111" transform="rotate(0.1 562.8 296)" stroke="#111" stroke-width="0.13">mitochondrial transport</text>
<circle cx="573.2" cy="298.8" r="1.8" fill="#E0B56E"/>
<text x="566" y="299.3" font-size="1.48" text-anchor="middle" fill="#111" transform="rotate(0.1 566 299.3)" stroke="#111" stroke-width="0.13">aerobic respiration</text>
<circle cx="581.5" cy="300.3" r="1.8" fill="#E0B56E"/>
<text x="583.6" y="301.9" font-size="1.48" text-anchor="middle" fill="#111" transform="rotate(0.1 583.6 301.9)" stroke="#111" stroke-width="0.13">apoptotic mitochondrial changes</text>
<circle cx="589.2" cy="303.6" r="1.8" fill="#E0B56E"/>
<text x="587.5" y="305.4" font-size="1.48" text-anchor="middle" fill="#111" transform="rotate(0.1 587.5 305.4)" stroke="#111" stroke-width="0.13">mitochondrial transmembrane transport</text>
<circle cx="596.6" cy="307.1" r="1.9" fill="#E0B56E"/>
<text x="603.3" y="307.5" font-size="1.48" text-anchor="middle" fill="#111" transform="rotate(0.1 603.3 307.5)" stroke="#111" stroke-width="0.13">cellular respiration</text>
<circle cx="603.2" cy="312.8" r="2" fill="#E0B56E"/>
<text x="605" y="311.7" font-size="1.48" text-anchor="middle" fill="#111" transform="rotate(0.1 605 311.7)" stroke="#111" stroke-width="0.13">regulation of mitochondrion organization</text>
<circle cx="609.3" cy="318.5" r="2.1" fill="#E0B56E"/>
<text x="611" y="317.2" font-size="1.48" text-anchor="middle" fill="#111" transform="rotate(0.1 611 317.2)" stroke="#111" stroke-width="0.13">energy derivation by oxidation of organic compounds</text>
<circle cx="614.8" cy="324.6" r="1.3" fill="#E0B56E"/>
<text x="596.8" y="324.9" font-size="1.48" text-anchor="middle" fill="#111" transform="rotate(0.1 596.8 324.9)" stroke="#111" stroke-width="0.13">mitochondrial calcium ion transmembrane transport</text>
<circle cx="619.2" cy="331.6" r="1.2" fill="#E0B56E"/>
<text x="605.5" y="330.8" font-size="1.48" text-anchor="middle" fill="#111" transform="rotate(0.1 605.5 330.8)" stroke="#111" stroke-width="0.13">calcium import into the mitochondrion</text>
<circle cx="621.8" cy="339" r="2.1" fill="#E0B56E"/>
<text x="609.2" y="339.5" font-size="1.48" text-anchor="middle" fill="#111" transform="rotate(0.1 609.2 339.5)" stroke="#111" stroke-width="0.13">cellular response to chemical stress</text>
<text x="632" y="314.2" font-size="2" fill="#111" transform="rotate(0.1 632 314.2)" stroke="#111" stroke-width="0.13">Log2 fold change</text>
<defs><linearGradient id="lfg315" x1="0" y1="0" x2="0" y2="1"><stop offset="0" stop-color="#F00000"/><stop offset="0.15" stop-color="#EC0008"/><stop offset="0.3" stop-color="#D80030"/><stop offset="0.45" stop-color="#B80060"/><stop offset="0.6" stop-color="#900090"/><stop offset="0.8" stop-color="#5000D8"/><stop offset="1" stop-color="#0A00FF"/></linearGradient></defs>
<rect x="632" y="315.9" width="3.5" height="16.8" fill="url(#lfg315)"/>
<text x="636.9" y="317.1" font-size="1.7" fill="#111" transform="rotate(0.1 636.9 317.1)" stroke="#111" stroke-width="0.13">10</text>
<text x="636.9" y="320.2" font-size="1.7" fill="#111" transform="rotate(0.1 636.9 320.2)" stroke="#111" stroke-width="0.13">5</text>
<text x="636.9" y="323.4" font-size="1.7" fill="#111" transform="rotate(0.1 636.9 323.4)" stroke="#111" stroke-width="0.13">0</text>
<text x="636.9" y="326.6" font-size="1.7" fill="#111" transform="rotate(0.1 636.9 326.6)" stroke="#111" stroke-width="0.13">-5</text>
<text x="636.9" y="329.8" font-size="1.7" fill="#111" transform="rotate(0.1 636.9 329.8)" stroke="#111" stroke-width="0.13">-10</text>
<text x="636.9" y="332.9" font-size="1.7" fill="#111" transform="rotate(0.1 636.9 332.9)" stroke="#111" stroke-width="0.13">-15</text>
<text x="632" y="335.2" font-size="2" fill="#111" transform="rotate(0.1 632 335.2)" stroke="#111" stroke-width="0.13">size</text>
<circle cx="634.5" cy="338.7" r="0.6" fill="#000"/>
<text x="638.1" y="339.3" font-size="1.7" fill="#111" transform="rotate(0.1 638.1 339.3)" stroke="#111" stroke-width="0.13">4</text>
<circle cx="634.5" cy="341.9" r="0.8" fill="#000"/>
<text x="638.1" y="342.5" font-size="1.7" fill="#111" transform="rotate(0.1 638.1 342.5)" stroke="#111" stroke-width="0.13">6</text>
<circle cx="634.5" cy="345.3" r="1" fill="#000"/>
<text x="638.1" y="345.9" font-size="1.7" fill="#111" transform="rotate(0.1 638.1 345.9)" stroke="#111" stroke-width="0.13">8</text>
<circle cx="634.5" cy="348.8" r="1.2" fill="#000"/>
<text x="638.1" y="349.4" font-size="1.7" fill="#111" transform="rotate(0.1 638.1 349.4)" stroke="#111" stroke-width="0.13">10</text>
<circle cx="634.5" cy="352.4" r="1.4" fill="#000"/>
<text x="638.1" y="353" font-size="1.7" fill="#111" transform="rotate(0.1 638.1 353)" stroke="#111" stroke-width="0.13">12</text>
<circle cx="634.5" cy="356.2" r="1.6" fill="#000"/>
<text x="638.1" y="356.8" font-size="1.7" fill="#111" transform="rotate(0.1 638.1 356.8)" stroke="#111" stroke-width="0.13">14</text>
<circle cx="634.5" cy="360.7" r="1.9" fill="#000"/>
<text x="638.1" y="361.3" font-size="1.7" fill="#111" transform="rotate(0.1 638.1 361.3)" stroke="#111" stroke-width="0.13">16</text>
<text x="632" y="365" font-size="2" fill="#111" transform="rotate(0.1 632 365)" stroke="#111" stroke-width="0.13">category</text>
<line x1="632.3" y1="369.1" x2="635.6" y2="369.1" stroke="#F8766D" stroke-width="0.6" stroke-opacity="0.6"/>
<text x="637.1" y="369.7" font-size="1.87" fill="#111" transform="rotate(0.1 637.1 369.7)" stroke="#111" stroke-width="0.13">aerobic respiration</text>
<line x1="632.3" y1="372.3" x2="635.6" y2="372.3" stroke="#D89000" stroke-width="0.6" stroke-opacity="0.6"/>
<text x="637.1" y="372.9" font-size="1.87" fill="#111" transform="rotate(0.1 637.1 372.9)" stroke="#111" stroke-width="0.13">apoptotic mitochondrial changes</text>
<line x1="632.3" y1="375.5" x2="635.6" y2="375.5" stroke="#A3A500" stroke-width="0.6" stroke-opacity="0.6"/>
<text x="637.1" y="376.1" font-size="1.87" fill="#111" transform="rotate(0.1 637.1 376.1)" stroke="#111" stroke-width="0.13">calcium import into the mitochondrion</text>
<line x1="632.3" y1="378.9" x2="635.6" y2="378.9" stroke="#39B600" stroke-width="0.6" stroke-opacity="0.6"/>
<text x="637.1" y="379.5" font-size="1.87" fill="#111" transform="rotate(0.1 637.1 379.5)" stroke="#111" stroke-width="0.13">cellular respiration</text>
<line x1="632.3" y1="382.4" x2="635.6" y2="382.4" stroke="#00BF7D" stroke-width="0.6" stroke-opacity="0.6"/>
<text x="637.1" y="383" font-size="1.87" fill="#111" transform="rotate(0.1 637.1 383)" stroke="#111" stroke-width="0.13">cellular response to chemical stress</text>
<line x1="632.3" y1="385.6" x2="635.6" y2="385.6" stroke="#00BFC4" stroke-width="0.6" stroke-opacity="0.6"/>
<text x="637.1" y="386.2" font-size="1.87" fill="#111" transform="rotate(0.1 637.1 386.2)" stroke="#111" stroke-width="0.13">energy derivation by oxidation of organic compounds</text>
<line x1="632.3" y1="389.1" x2="635.6" y2="389.1" stroke="#00B0F6" stroke-width="0.6" stroke-opacity="0.6"/>
<text x="637.1" y="389.7" font-size="1.87" fill="#111" transform="rotate(0.1 637.1 389.7)" stroke="#111" stroke-width="0.13">mitochondrial calcium ion transmembrane transport</text>
<line x1="632.3" y1="392.4" x2="635.6" y2="392.4" stroke="#9590FF" stroke-width="0.6" stroke-opacity="0.6"/>
<text x="637.1" y="393" font-size="1.87" fill="#111" transform="rotate(0.1 637.1 393)" stroke="#111" stroke-width="0.13">mitochondrial transmembrane transport</text>
<line x1="632.3" y1="395.6" x2="635.6" y2="395.6" stroke="#E76BF3" stroke-width="0.6" stroke-opacity="0.6"/>
<text x="637.1" y="396.2" font-size="1.87" fill="#111" transform="rotate(0.1 637.1 396.2)" stroke="#111" stroke-width="0.13">mitochondrial transport</text>
<line x1="632.3" y1="398.9" x2="635.6" y2="398.9" stroke="#FF62BC" stroke-width="0.6" stroke-opacity="0.6"/>
<text x="637.1" y="399.5" font-size="1.87" fill="#111" transform="rotate(0.1 637.1 399.5)" stroke="#111" stroke-width="0.13">regulation of mitochondrion organization</text>
<path d="M616.5 470.9A34.6 32.2 0 0 1 563.9 444.2M619.5 476.1A38.8 36.1 0 0 1 563.9 444.2M622 481.5A43.3 40.3 0 0 1 563.9 444.2M623.8 487.2A48.0 44.7 0 0 1 563.9 444.2M625.1 493A53.2 49.5 0 0 1 563.9 444.2M625.7 498.9A58.7 54.6 0 0 1 563.9 444.2M625.7 504.8A64.8 60.3 0 0 1 563.9 444.2M625.1 510.7A71.5 66.5 0 0 1 563.9 444.2M623.9 516.5A78.9 73.5 0 0 1 563.9 444.2M622.1 522.2A87.3 81.3 0 0 1 563.9 444.2M619.7 527.6A96.9 90.2 0 0 1 563.9 444.2M616.7 532.9A108.1 100.6 0 0 1 563.9 444.2M613.2 537.8A121.2 112.8 0 0 1 563.9 444.2M609.1 542.4A137.0 127.4 0 0 1 563.9 444.2M604.6 546.6A156.4 145.5 0 0 1 563.9 444.2M599.7 550.3A181.0 168.5 0 0 1 563.9 444.2M594.5 553.6A213.5 198.7 0 0 1 563.9 444.2M588.9 556.4A258.6 240.6 0 0 1 563.9 444.2M583 558.7A325.6 302.9 0 0 1 563.9 444.2M576.9 560.5A436.5 406.2 0 0 1 563.9 444.2M570.7 561.6A657.1 611.5 0 0 1 563.9 444.2M564.4 562.2A1315.9 1224.6 0 0 1 563.9 444.2M505.5 533.1A121.3 112.8 0 0 0 563.9 444.2M496.9 511A79.0 73.5 0 0 0 563.9 444.2" stroke="#00BF7D" stroke-width="0.38" fill="none" stroke-opacity="0.9"/>
<path d="M558 562.2A1220.1 1135.4 0 0 1 570.5 444.5M551.7 561.7L570.5 444.5M545.4 560.5A1435.1 1335.4 0 0 0 570.5 444.5M539.3 558.8A685.7 638.1 0 0 0 570.5 444.5M533.4 556.6A449.1 417.9 0 0 0 570.5 444.5M527.8 553.8A332.6 309.5 0 0 0 570.5 444.5M522.5 550.5A263.1 244.8 0 0 0 570.5 444.5M517.6 546.8A216.7 201.6 0 0 0 570.5 444.5M513.1 542.6A183.4 170.6 0 0 0 570.5 444.5M509.1 538A158.2 147.2 0 0 0 570.5 444.5M505.5 533.1A138.4 128.8 0 0 0 570.5 444.5M502.5 527.9A122.4 113.9 0 0 0 570.5 444.5M500 522.5A109.1 101.5 0 0 0 570.5 444.5M623.9 516.5A70.9 66.0 0 0 1 570.5 444.5M599.7 550.3A154.7 143.9 0 0 1 570.5 444.5" stroke="#00BFC4" stroke-width="0.38" fill="none" stroke-opacity="0.9"/>
<path d="M505.5 533.1A158.0 147.0 0 0 0 576.5 445.5M513.1 542.6A216.4 201.4 0 0 0 576.5 445.5M502.5 527.9A138.3 128.7 0 0 0 576.5 445.5M545.4 560.5L576.5 445.5M500 522.5A122.3 113.8 0 0 0 576.5 445.5M527.8 553.8A447.8 416.7 0 0 0 576.5 445.5M517.6 546.8A262.7 244.4 0 0 0 576.5 445.5M533.4 556.6A682.9 635.5 0 0 0 576.5 445.5M539.3 558.8A1422.7 1323.9 0 0 0 576.5 445.5M522.5 550.5A331.9 308.9 0 0 0 576.5 445.5M551.7 561.7A1229.3 1143.9 0 0 1 576.5 445.5M558 562.2A634.6 590.5 0 0 1 576.5 445.5M509.1 538A183.1 170.4 0 0 0 576.5 445.5" stroke="#E76BF3" stroke-width="0.38" fill="none" stroke-opacity="0.9"/>
<path d="M505.5 533.1A183.3 170.6 0 0 0 582.3 447.5M513.1 542.6A263.0 244.8 0 0 0 582.3 447.5M502.5 527.9A158.2 147.2 0 0 0 582.3 447.5M545.4 560.5A1221.3 1136.5 0 0 1 582.3 447.5M500 522.5A138.4 128.8 0 0 0 582.3 447.5M527.8 553.8A685.4 637.8 0 0 0 582.3 447.5M517.6 546.8A332.5 309.5 0 0 0 582.3 447.5M533.4 556.6A1433.4 1333.9 0 0 0 582.3 447.5M539.3 558.8L582.3 447.5M522.5 550.5A448.9 417.7 0 0 0 582.3 447.5M551.7 561.7A632.5 588.5 0 0 1 582.3 447.5M558 562.2A425.3 395.8 0 0 1 582.3 447.5M509.1 538A216.6 201.6 0 0 0 582.3 447.5" stroke="#FF62BC" stroke-width="0.38" fill="none" stroke-opacity="0.9"/>
<path d="M498.2 516.8A138.8 129.1 0 0 0 588.4 449.1M496.9 511A122.7 114.2 0 0 0 588.4 449.1M496.3 505.1A109.3 101.7 0 0 0 588.4 449.1M496.3 499.2A98.0 91.2 0 0 0 588.4 449.1M496.9 493.3A88.3 82.1 0 0 0 588.4 449.1M498.1 487.5A79.8 74.2 0 0 0 588.4 449.1M499.9 481.8A72.2 67.2 0 0 0 588.4 449.1M502.4 476.4A65.4 60.9 0 0 0 588.4 449.1M505.3 471.1A59.3 55.2 0 0 0 588.4 449.1M508.9 466.2A53.7 50.0 0 0 0 588.4 449.1M512.9 461.6A48.6 45.2 0 0 0 588.4 449.1M517.4 457.4A43.8 40.7 0 0 0 588.4 449.1M609.1 542.4A86.5 80.5 0 0 1 588.4 449.1M622.1 522.2A58.1 54.1 0 0 1 588.4 449.1M594.5 553.6A119.8 111.5 0 0 1 588.4 449.1M599.7 550.3A106.9 99.5 0 0 1 588.4 449.1M619.5 476.1A22.8 21.2 0 0 1 588.4 449.1M564.4 562.2A253.3 235.7 0 0 1 588.4 449.1M623.9 516.5A52.6 49.0 0 0 1 588.4 449.1M604.6 546.6A95.9 89.3 0 0 1 588.4 449.1" stroke="#A3A500" stroke-width="0.38" fill="none" stroke-opacity="0.9"/>
<path d="M522.3 453.7A43.8 40.7 0 0 0 593.9 451.8M527.6 450.4A39.3 36.6 0 0 0 593.9 451.8M533.2 447.6A35.1 32.6 0 0 0 593.9 451.8M570.7 561.6A178.2 165.8 0 0 1 593.9 451.8M498.2 516.8A158.7 147.7 0 0 0 593.9 451.8M505.3 471.1A65.5 60.9 0 0 0 593.9 451.8M599.7 550.3A95.9 89.2 0 0 1 593.9 451.8" stroke="#39B600" stroke-width="0.38" fill="none" stroke-opacity="0.9"/>
<path d="M539 445.3A35.1 32.6 0 0 0 599.1 455M545.1 443.5A31.1 28.9 0 0 0 599.1 455M623.8 487.2A22.8 21.2 0 0 1 599.1 455M619.5 476.1A15.9 14.8 0 0 1 599.1 455M619.7 527.6A52.6 48.9 0 0 1 599.1 455M522.3 453.7A48.6 45.2 0 0 0 599.1 455M527.6 450.4A43.8 40.8 0 0 0 599.1 455M533.2 447.6A39.3 36.6 0 0 0 599.1 455" stroke="#9590FF" stroke-width="0.38" fill="none" stroke-opacity="0.9"/>
<path d="M551.3 442.4A31.1 29.0 0 0 0 604 458.7M509.1 538A702.0 653.2 0 0 0 604 458.7M522.5 550.5A1172.2 1090.8 0 0 1 604 458.7M545.4 560.5A252.1 234.6 0 0 1 604 458.7M512.9 461.6A65.6 61.0 0 0 0 604 458.7" stroke="#F8766D" stroke-width="0.38" fill="none" stroke-opacity="0.9"/>
<path d="M551.3 442.4A34.9 32.5 0 0 0 608.1 462.6M509.1 538A1415.2 1316.9 0 0 0 608.1 462.6M522.5 550.5A636.1 591.9 0 0 1 608.1 462.6M545.4 560.5A211.1 196.4 0 0 1 608.1 462.6M512.9 461.6A72.0 67.0 0 0 0 608.1 462.6" stroke="#D89000" stroke-width="0.38" fill="none" stroke-opacity="0.9"/>
<path d="M557.7 441.8A34.9 32.4 0 0 0 612.3 466.8M625.7 498.9A19.5 18.1 0 0 1 612.3 466.8M619.5 476.1A6.2 5.8 0 0 1 612.3 466.8M619.7 527.6A38.6 35.9 0 0 1 612.3 466.8M613.2 537.8A47.8 44.5 0 0 1 612.3 466.8M623.8 487.2A12.7 11.8 0 0 1 612.3 466.8M625.1 493A16.0 14.9 0 0 1 612.3 466.8" stroke="#00B0F6" stroke-width="0.38" fill="none" stroke-opacity="0.9"/>
<circle cx="616.5" cy="470.9" r="0.95" fill="#2020F0"/>
<text x="618.4" y="470.4" font-size="1.6" fill="#222" transform="rotate(0.1 618.4 470.4)" stroke="#222" stroke-width="0.13">MICU2</text>
<circle cx="619.5" cy="476.1" r="0.95" fill="#2020F0"/>
<text x="621.5" y="475.8" font-size="1.6" fill="#222" transform="rotate(0.1 621.5 475.8)" stroke="#222" stroke-width="0.13">BID</text>
<circle cx="622" cy="481.5" r="0.95" fill="#2020F0"/>
<text x="624" y="481.5" font-size="1.6" fill="#222" transform="rotate(0.1 624 481.5)" stroke="#222" stroke-width="0.13">TOMM40</text>
<circle cx="623.8" cy="487.2" r="0.95" fill="#F00010"/>
<text x="625.9" y="487.3" font-size="1.6" fill="#222" transform="rotate(0.1 625.9 487.3)" stroke="#222" stroke-width="0.13">COX4I1</text>
<circle cx="625.1" cy="493" r="0.95" fill="#9A1A9A"/>
<text x="627.2" y="493.4" font-size="1.6" fill="#222" transform="rotate(0.1 627.2 493.4)" stroke="#222" stroke-width="0.13">ATP5B</text>
<circle cx="625.7" cy="498.9" r="0.95" fill="#F00010"/>
<text x="627.9" y="499.5" font-size="1.6" fill="#222" transform="rotate(0.1 627.9 499.5)" stroke="#222" stroke-width="0.13">HSPD1</text>
<circle cx="625.7" cy="504.8" r="0.95" fill="#F00010"/>
<text x="627.9" y="505.6" font-size="1.6" fill="#222" transform="rotate(0.1 627.9 505.6)" stroke="#222" stroke-width="0.13">DNM1L</text>
<circle cx="625.1" cy="510.7" r="0.95" fill="#9A1A9A"/>
<text x="627.3" y="511.7" font-size="1.6" fill="#222" transform="rotate(0.1 627.3 511.7)" stroke="#222" stroke-width="0.13">MTX1</text>
<circle cx="623.9" cy="516.5" r="0.95" fill="#F00010"/>
<text x="626" y="517.7" font-size="1.6" fill="#222" transform="rotate(0.1 626 517.7)" stroke="#222" stroke-width="0.13">ACAT1</text>
<circle cx="622.1" cy="522.2" r="0.95" fill="#F00010"/>
<text x="624.1" y="523.6" font-size="1.6" fill="#222" transform="rotate(0.1 624.1 523.6)" stroke="#222" stroke-width="0.13">IDH2</text>
<circle cx="619.7" cy="527.6" r="0.95" fill="#F00010"/>
<text x="621.6" y="529.3" font-size="1.6" fill="#222" transform="rotate(0.1 621.6 529.3)" stroke="#222" stroke-width="0.13">TXNRD2</text>
<circle cx="616.7" cy="532.9" r="0.95" fill="#F00010"/>
<text x="618.6" y="534.7" font-size="1.6" fill="#222" transform="rotate(0.1 618.6 534.7)" stroke="#222" stroke-width="0.13">TRAF3</text>
<circle cx="613.2" cy="537.8" r="0.95" fill="#F00010"/>
<text x="614.9" y="539.8" font-size="1.6" fill="#222" transform="rotate(0.1 614.9 539.8)" stroke="#222" stroke-width="0.13">MICU1</text>
<circle cx="609.1" cy="542.4" r="0.95" fill="#F00010"/>
<text x="610.8" y="544.5" font-size="1.6" fill="#222" transform="rotate(0.1 610.8 544.5)" stroke="#222" stroke-width="0.13">BAK1</text>
<circle cx="604.6" cy="546.6" r="0.95" fill="#F00010"/>
<text x="606.1" y="548.9" font-size="1.6" fill="#222" transform="rotate(0.1 606.1 548.9)" stroke="#222" stroke-width="0.13">TOMM20</text>
<circle cx="599.7" cy="550.3" r="0.95" fill="#F00010"/>
<text x="601.1" y="552.8" font-size="1.6" fill="#222" transform="rotate(0.1 601.1 552.8)" stroke="#222" stroke-width="0.13">UCP3</text>
<circle cx="594.5" cy="553.6" r="0.95" fill="#2020F0"/>
<text x="595.6" y="556.2" font-size="1.6" fill="#222" transform="rotate(0.1 595.6 556.2)" stroke="#222" stroke-width="0.13">ATP5A1</text>
<circle cx="588.9" cy="556.4" r="0.95" fill="#F00010"/>
<text x="589.8" y="559.1" font-size="1.6" fill="#222" transform="rotate(0.1 589.8 559.1)" stroke="#222" stroke-width="0.13">AIFM1</text>
<circle cx="583" cy="558.7" r="0.95" fill="#F00010"/>
<text x="583.7" y="561.5" font-size="1.6" fill="#222" transform="rotate(0.1 583.7 561.5)" stroke="#222" stroke-width="0.13">FIS1</text>
<circle cx="576.9" cy="560.5" r="0.95" fill="#9A1A9A"/>
<text x="577.5" y="563.3" font-size="1.6" text-anchor="middle" fill="#222" transform="rotate(0.1 577.5 563.3)" stroke="#222" stroke-width="0.13">SAMM50</text>
<circle cx="570.7" cy="561.6" r="0.95" fill="#F00010"/>
<text x="571" y="564.5" font-size="1.6" text-anchor="middle" fill="#222" transform="rotate(0.1 571 564.5)" stroke="#222" stroke-width="0.13">TSPO</text>
<circle cx="564.4" cy="562.2" r="0.95" fill="#9A1A9A"/>
<text x="564.5" y="565.1" font-size="1.6" text-anchor="middle" fill="#222" transform="rotate(0.1 564.5 565.1)" stroke="#222" stroke-width="0.13">CS</text>
<circle cx="558" cy="562.2" r="0.95" fill="#F00010"/>
<text x="557.9" y="565.1" font-size="1.6" text-anchor="middle" fill="#222" transform="rotate(0.1 557.9 565.1)" stroke="#222" stroke-width="0.13">MTHFD2</text>
<circle cx="551.7" cy="561.7" r="0.95" fill="#2020F0"/>
<text x="551.3" y="564.5" font-size="1.6" text-anchor="middle" fill="#222" transform="rotate(0.1 551.3 564.5)" stroke="#222" stroke-width="0.13">MAVS</text>
<circle cx="545.4" cy="560.5" r="0.95" fill="#F00010"/>
<text x="544.9" y="563.4" font-size="1.6" text-anchor="middle" fill="#222" transform="rotate(0.1 544.9 563.4)" stroke="#222" stroke-width="0.13">MCU</text>
<circle cx="539.3" cy="558.8" r="0.95" fill="#F00010"/>
<text x="538.6" y="561.6" font-size="1.6" text-anchor="end" fill="#222" transform="rotate(0.1 538.6 561.6)" stroke="#222" stroke-width="0.13">BCL2</text>
<circle cx="533.4" cy="556.6" r="0.95" fill="#F00010"/>
<text x="532.5" y="559.3" font-size="1.6" text-anchor="end" fill="#222" transform="rotate(0.1 532.5 559.3)" stroke="#222" stroke-width="0.13">VDAC2</text>
<circle cx="527.8" cy="553.8" r="0.95" fill="#F00010"/>
<text x="526.7" y="556.4" font-size="1.6" text-anchor="end" fill="#222" transform="rotate(0.1 526.7 556.4)" stroke="#222" stroke-width="0.13">UCP2</text>
<circle cx="522.5" cy="550.5" r="0.95" fill="#F00010"/>
<text x="521.2" y="553" font-size="1.6" text-anchor="end" fill="#222" transform="rotate(0.1 521.2 553)" stroke="#222" stroke-width="0.13">SDHB</text>
<circle cx="517.6" cy="546.8" r="0.95" fill="#F00010"/>
<text x="516.1" y="549.1" font-size="1.6" text-anchor="end" fill="#222" transform="rotate(0.1 516.1 549.1)" stroke="#222" stroke-width="0.13">SIRT3</text>
<circle cx="513.1" cy="542.6" r="0.95" fill="#F00010"/>
<text x="511.5" y="544.8" font-size="1.6" text-anchor="end" fill="#222" transform="rotate(0.1 511.5 544.8)" stroke="#222" stroke-width="0.13">MPV17</text>
<circle cx="509.1" cy="538" r="0.95" fill="#2020F0"/>
<text x="507.3" y="540.1" font-size="1.6" text-anchor="end" fill="#222" transform="rotate(0.1 507.3 540.1)" stroke="#222" stroke-width="0.13">CHCHD3</text>
<circle cx="505.5" cy="533.1" r="0.95" fill="#F00010"/>
<text x="503.6" y="535" font-size="1.6" text-anchor="end" fill="#222" transform="rotate(0.1 503.6 535)" stroke="#222" stroke-width="0.13">RHOT2</text>
<circle cx="502.5" cy="527.9" r="0.95" fill="#F00010"/>
<text x="500.5" y="529.6" font-size="1.6" text-anchor="end" fill="#222" transform="rotate(0.1 500.5 529.6)" stroke="#222" stroke-width="0.13">MDH2</text>
<circle cx="500" cy="522.5" r="0.95" fill="#9A1A9A"/>
<text x="498" y="523.9" font-size="1.6" text-anchor="end" fill="#222" transform="rotate(0.1 498 523.9)" stroke="#222" stroke-width="0.13">SHMT2</text>
<circle cx="498.2" cy="516.8" r="0.95" fill="#F00010"/>
<text x="496" y="518" font-size="1.6" text-anchor="end" fill="#222" transform="rotate(0.1 496 518)" stroke="#222" stroke-width="0.13">NLRX1</text>
<circle cx="496.9" cy="511" r="0.95" fill="#F00010"/>
<text x="494.8" y="512" font-size="1.6" text-anchor="end" fill="#222" transform="rotate(0.1 494.8 512)" stroke="#222" stroke-width="0.13">SLC25A23</text>
<circle cx="496.3" cy="505.1" r="0.95" fill="#F00010"/>
<text x="494.1" y="505.9" font-size="1.6" text-anchor="end" fill="#222" transform="rotate(0.1 494.1 505.9)" stroke="#222" stroke-width="0.13">BAX</text>
<circle cx="496.3" cy="499.2" r="0.95" fill="#F00010"/>
<text x="494.1" y="499.8" font-size="1.6" text-anchor="end" fill="#222" transform="rotate(0.1 494.1 499.8)" stroke="#222" stroke-width="0.13">VDAC1</text>
<circle cx="496.9" cy="493.3" r="0.95" fill="#F00010"/>
<text x="494.7" y="493.7" font-size="1.6" text-anchor="end" fill="#222" transform="rotate(0.1 494.7 493.7)" stroke="#222" stroke-width="0.13">SOD2</text>
<circle cx="498.1" cy="487.5" r="0.95" fill="#F00010"/>
<text x="496" y="487.7" font-size="1.6" text-anchor="end" fill="#222" transform="rotate(0.1 496 487.7)" stroke="#222" stroke-width="0.13">SDHA</text>
<circle cx="499.9" cy="481.8" r="0.95" fill="#2020F0"/>
<text x="497.9" y="481.8" font-size="1.6" text-anchor="end" fill="#222" transform="rotate(0.1 497.9 481.8)" stroke="#222" stroke-width="0.13">PPARGC1A</text>
<circle cx="502.4" cy="476.4" r="0.95" fill="#F00010"/>
<text x="500.4" y="476.1" font-size="1.6" text-anchor="end" fill="#222" transform="rotate(0.1 500.4 476.1)" stroke="#222" stroke-width="0.13">PARK7</text>
<circle cx="505.3" cy="471.1" r="0.95" fill="#F00010"/>
<text x="503.4" y="470.7" font-size="1.6" text-anchor="end" fill="#222" transform="rotate(0.1 503.4 470.7)" stroke="#222" stroke-width="0.13">IMMT</text>
<circle cx="508.9" cy="466.2" r="0.95" fill="#F00010"/>
<text x="507.1" y="465.6" font-size="1.6" text-anchor="end" fill="#222" transform="rotate(0.1 507.1 465.6)" stroke="#222" stroke-width="0.13">RHOT1</text>
<circle cx="512.9" cy="461.6" r="0.95" fill="#F00010"/>
<text x="511.2" y="460.8" font-size="1.6" text-anchor="end" fill="#222" transform="rotate(0.1 511.2 460.8)" stroke="#222" stroke-width="0.13">GOT2</text>
<circle cx="517.4" cy="457.4" r="0.95" fill="#9A1A9A"/>
<text x="515.9" y="456.5" font-size="1.6" text-anchor="end" fill="#222" transform="rotate(0.1 515.9 456.5)" stroke="#222" stroke-width="0.13">PCK2</text>
<circle cx="522.3" cy="453.7" r="0.95" fill="#F00010"/>
<text x="521" y="452.6" font-size="1.6" text-anchor="end" fill="#222" transform="rotate(0.1 521 452.6)" stroke="#222" stroke-width="0.13">CISD2</text>
<circle cx="527.6" cy="450.4" r="0.95" fill="#F00010"/>
<text x="526.4" y="449.2" font-size="1.6" text-anchor="end" fill="#222" transform="rotate(0.1 526.4 449.2)" stroke="#222" stroke-width="0.13">SLC25A5</text>
<circle cx="533.2" cy="447.6" r="0.95" fill="#9A1A9A"/>
<text x="532.2" y="446.3" font-size="1.6" text-anchor="end" fill="#222" transform="rotate(0.1 532.2 446.3)" stroke="#222" stroke-width="0.13">MFN2</text>
<circle cx="539" cy="445.3" r="0.95" fill="#F00010"/>
<text x="538.3" y="443.9" font-size="1.6" text-anchor="end" fill="#222" transform="rotate(0.1 538.3 443.9)" stroke="#222" stroke-width="0.13">PRKN</text>
<circle cx="545.1" cy="443.5" r="0.95" fill="#F00010"/>
<text x="544.6" y="442.1" font-size="1.6" text-anchor="middle" fill="#222" transform="rotate(0.1 544.6 442.1)" stroke="#222" stroke-width="0.13">TIMM50</text>
<circle cx="551.3" cy="442.4" r="0.95" fill="#2020F0"/>
<text x="551" y="440.9" font-size="1.6" text-anchor="middle" fill="#222" transform="rotate(0.1 551 440.9)" stroke="#222" stroke-width="0.13">NDUFS1</text>
<circle cx="557.7" cy="441.8" r="0.95" fill="#F00010"/>
<text x="557.6" y="440.3" font-size="1.6" text-anchor="middle" fill="#222" transform="rotate(0.1 557.6 440.3)" stroke="#222" stroke-width="0.13">PDK4</text>
<circle cx="563.9" cy="444.2" r="2.4" fill="#E0B56E"/>
<text x="562.4" y="442.7" font-size="1.48" text-anchor="middle" fill="#111" transform="rotate(0.1 562.4 442.7)" stroke="#111" stroke-width="0.13">mitochondrial matrix</text>
<circle cx="570.5" cy="444.5" r="1.8" fill="#E0B56E"/>
<text x="580.8" y="443.6" font-size="1.48" text-anchor="middle" fill="#111" transform="rotate(0.1 580.8 443.6)" stroke="#111" stroke-width="0.13">mitochondrial outer membrane</text>
<circle cx="576.5" cy="445.5" r="1.6" fill="#E0B56E"/>
<text x="586.3" y="446.3" font-size="1.48" text-anchor="middle" fill="#111" transform="rotate(0.1 586.3 446.3)" stroke="#111" stroke-width="0.13">organelle outer membrane</text>
<circle cx="582.3" cy="447.5" r="1.6" fill="#E0B56E"/>
<text x="581" y="448.9" font-size="1.48" text-anchor="middle" fill="#111" transform="rotate(0.1 581 448.9)" stroke="#111" stroke-width="0.13">outer membrane</text>
<circle cx="588.4" cy="449.1" r="2.1" fill="#E0B56E"/>
<text x="583.4" y="451.7" font-size="1.48" text-anchor="middle" fill="#111" transform="rotate(0.1 583.4 451.7)" stroke="#111" stroke-width="0.13">mitochondrial inner membrane</text>
<circle cx="593.9" cy="451.8" r="1.2" fill="#E0B56E"/>
<text x="595.5" y="453.9" font-size="1.48" text-anchor="middle" fill="#111" transform="rotate(0.1 595.5 453.9)" stroke="#111" stroke-width="0.13">mitochondrial intermembrane space</text>
<circle cx="599.1" cy="455" r="1.3" fill="#E0B56E"/>
<text x="600.8" y="456.9" font-size="1.48" text-anchor="middle" fill="#111" transform="rotate(0.1 600.8 456.9)" stroke="#111" stroke-width="0.13">organelle envelope lumen</text>
<circle cx="604" cy="458.7" r="1.1" fill="#E0B56E"/>
<text x="605.4" y="460.7" font-size="1.48" text-anchor="middle" fill="#111" transform="rotate(0.1 605.4 460.7)" stroke="#111" stroke-width="0.13">integral component of mitochondrial membrane</text>
<circle cx="608.1" cy="462.6" r="1.1" fill="#E0B56E"/>
<text x="591.6" y="463.8" font-size="1.48" text-anchor="middle" fill="#111" transform="rotate(0.1 591.6 463.8)" stroke="#111" stroke-width="0.13">intrinsic component of mitochondrial membrane</text>
<circle cx="612.3" cy="466.8" r="1.2" fill="#E0B56E"/>
<text x="613.9" y="466.1" font-size="1.48" text-anchor="middle" fill="#111" transform="rotate(0.1 613.9 466.1)" stroke="#111" stroke-width="0.13">mitochondrial protein complex</text>
<text x="633.1" y="468.1" font-size="2" fill="#111" transform="rotate(0.1 633.1 468.1)" stroke="#111" stroke-width="0.13">log2FC</text>
<defs><linearGradient id="lfg470" x1="0" y1="0" x2="0" y2="1"><stop offset="0" stop-color="#F00000"/><stop offset="0.15" stop-color="#EC0008"/><stop offset="0.3" stop-color="#D80030"/><stop offset="0.45" stop-color="#B80060"/><stop offset="0.6" stop-color="#900090"/><stop offset="0.8" stop-color="#5000D8"/><stop offset="1" stop-color="#0A00FF"/></linearGradient></defs>
<rect x="633.1" y="470.1" width="3.8" height="16.1" fill="url(#lfg470)"/>
<text x="638.3" y="471.4" font-size="1.7" fill="#111" transform="rotate(0.1 638.3 471.4)" stroke="#111" stroke-width="0.13">10</text>
<text x="638.3" y="474.1" font-size="1.7" fill="#111" transform="rotate(0.1 638.3 474.1)" stroke="#111" stroke-width="0.13">7.5</text>
<text x="638.3" y="476.8" font-size="1.7" fill="#111" transform="rotate(0.1 638.3 476.8)" stroke="#111" stroke-width="0.13">5</text>
<text x="638.3" y="479.5" font-size="1.7" fill="#111" transform="rotate(0.1 638.3 479.5)" stroke="#111" stroke-width="0.13">2.5</text>
<text x="638.3" y="482.2" font-size="1.7" fill="#111" transform="rotate(0.1 638.3 482.2)" stroke="#111" stroke-width="0.13">0</text>
<text x="638.3" y="484.9" font-size="1.7" fill="#111" transform="rotate(0.1 638.3 484.9)" stroke="#111" stroke-width="0.13">-2.5</text>
<text x="638.3" y="486.6" font-size="1.7" fill="#111" transform="rotate(0.1 638.3 486.6)" stroke="#111" stroke-width="0.13">-5</text>
<text x="633.1" y="488.9" font-size="2" fill="#111" transform="rotate(0.1 633.1 488.9)" stroke="#111" stroke-width="0.13">category</text>
<line x1="633.4" y1="492.4" x2="636.7" y2="492.4" stroke="#F8766D" stroke-width="0.6" stroke-opacity="0.6"/>
<text x="638.2" y="493" font-size="1.87" fill="#111" transform="rotate(0.1 638.2 493)" stroke="#111" stroke-width="0.13">integral component of mitochondrial membrane</text>
<line x1="633.4" y1="495.7" x2="636.7" y2="495.7" stroke="#D89000" stroke-width="0.6" stroke-opacity="0.6"/>
<text x="638.2" y="496.3" font-size="1.87" fill="#111" transform="rotate(0.1 638.2 496.3)" stroke="#111" stroke-width="0.13">intrinsic component of mitochondrial membrane</text>
<line x1="633.4" y1="499" x2="636.7" y2="499" stroke="#A3A500" stroke-width="0.6" stroke-opacity="0.6"/>
<text x="638.2" y="499.6" font-size="1.87" fill="#111" transform="rotate(0.1 638.2 499.6)" stroke="#111" stroke-width="0.13">mitochondrial inner membrane</text>
<line x1="633.4" y1="502.4" x2="636.7" y2="502.4" stroke="#39B600" stroke-width="0.6" stroke-opacity="0.6"/>
<text x="638.2" y="503" font-size="1.87" fill="#111" transform="rotate(0.1 638.2 503)" stroke="#111" stroke-width="0.13">mitochondrial intermembrane space</text>
<line x1="633.4" y1="505.7" x2="636.7" y2="505.7" stroke="#00BF7D" stroke-width="0.6" stroke-opacity="0.6"/>
<text x="638.2" y="506.3" font-size="1.87" fill="#111" transform="rotate(0.1 638.2 506.3)" stroke="#111" stroke-width="0.13">mitochondrial matrix</text>
<line x1="633.4" y1="508.9" x2="636.7" y2="508.9" stroke="#00BFC4" stroke-width="0.6" stroke-opacity="0.6"/>
<text x="638.2" y="509.5" font-size="1.87" fill="#111" transform="rotate(0.1 638.2 509.5)" stroke="#111" stroke-width="0.13">mitochondrial outer membrane</text>
<line x1="633.4" y1="512.3" x2="636.7" y2="512.3" stroke="#00B0F6" stroke-width="0.6" stroke-opacity="0.6"/>
<text x="638.2" y="512.9" font-size="1.87" fill="#111" transform="rotate(0.1 638.2 512.9)" stroke="#111" stroke-width="0.13">mitochondrial protein complex</text>
<line x1="633.4" y1="515.5" x2="636.7" y2="515.5" stroke="#9590FF" stroke-width="0.6" stroke-opacity="0.6"/>
<text x="638.2" y="516.1" font-size="1.87" fill="#111" transform="rotate(0.1 638.2 516.1)" stroke="#111" stroke-width="0.13">organelle envelope lumen</text>
<line x1="633.4" y1="518.8" x2="636.7" y2="518.8" stroke="#E76BF3" stroke-width="0.6" stroke-opacity="0.6"/>
<text x="638.2" y="519.4" font-size="1.87" fill="#111" transform="rotate(0.1 638.2 519.4)" stroke="#111" stroke-width="0.13">organelle outer membrane</text>
<line x1="633.4" y1="522.1" x2="636.7" y2="522.1" stroke="#FF62BC" stroke-width="0.6" stroke-opacity="0.6"/>
<text x="638.2" y="522.7" font-size="1.87" fill="#111" transform="rotate(0.1 638.2 522.7)" stroke="#111" stroke-width="0.13">outer membrane</text>
<text x="633.1" y="526.3" font-size="2" fill="#111" transform="rotate(0.1 633.1 526.3)" stroke="#111" stroke-width="0.13">size</text>
<circle cx="635.1" cy="530" r="1.1" fill="#000"/>
<text x="639" y="530.6" font-size="1.7" fill="#111" transform="rotate(0.1 639 530.6)" stroke="#111" stroke-width="0.13">10</text>
<circle cx="635.1" cy="533.6" r="1.4" fill="#000"/>
<text x="639" y="534.2" font-size="1.7" fill="#111" transform="rotate(0.1 639 534.2)" stroke="#111" stroke-width="0.13">15</text>
<circle cx="635.1" cy="537.4" r="1.7" fill="#000"/>
<text x="639" y="538" font-size="1.7" fill="#111" transform="rotate(0.1 639 538)" stroke="#111" stroke-width="0.13">20</text>
<path d="M520.7 695.6A249.1 233.0 0 0 0 569.9 589.9M506.4 680.7A142.0 132.9 0 0 0 569.9 589.9M539.3 705.9A803.6 751.6 0 0 0 569.9 589.9" stroke="#9590FF" stroke-width="0.5" fill="none" stroke-opacity="0.9"/>
<path d="M501 624.9A68.2 63.8 0 0 0 589.6 596M496.1 644A96.1 89.9 0 0 0 589.6 596M513 608.5A48.7 45.5 0 0 0 589.6 596" stroke="#D89000" stroke-width="0.5" fill="none" stroke-opacity="0.9"/>
<path d="M501 624.9A96.8 90.6 0 0 0 606.5 608.5M496.1 644A144.2 134.9 0 0 0 606.5 608.5M498.3 663.6A251.1 234.8 0 0 0 606.5 608.5" stroke="#F8766D" stroke-width="0.5" fill="none" stroke-opacity="0.9"/>
<path d="M501 624.9A142.1 132.9 0 0 0 617.7 624.4M496.1 644A243.9 228.2 0 0 0 617.7 624.4M498.3 663.6A723.9 677.1 0 0 0 617.7 624.4" stroke="#FF62BC" stroke-width="0.5" fill="none" stroke-opacity="0.9"/>
<path d="M501 624.9A244.5 228.7 0 0 0 622.9 643.5M496.1 644A716.1 669.8 0 0 0 622.9 643.5M498.3 663.6A804.7 752.7 0 0 1 622.9 643.5" stroke="#E76BF3" stroke-width="0.5" fill="none" stroke-opacity="0.9"/>
<path d="M501 624.9A725.4 678.4 0 0 0 621.4 663.2M496.1 644A809.1 756.8 0 0 1 621.4 663.2M549.1 589.9A96.0 89.8 0 0 0 621.4 663.2" stroke="#39B600" stroke-width="0.5" fill="none" stroke-opacity="0.9"/>
<path d="M529.4 596.4A244.0 228.2 0 0 0 613.1 681.2M513 608.5A707.1 661.4 0 0 0 613.1 681.2M549.1 589.9A142.6 133.4 0 0 0 613.1 681.2" stroke="#00B0F6" stroke-width="0.5" fill="none" stroke-opacity="0.9"/>
<path d="M513 608.5A811.1 758.6 0 0 1 598.4 695.4M501 624.9A253.1 236.7 0 0 1 598.4 695.4M529.4 596.4A728.7 681.6 0 0 0 598.4 695.4" stroke="#00BF7D" stroke-width="0.5" fill="none" stroke-opacity="0.9"/>
<path d="M506.4 680.7A49.6 46.4 0 0 1 579.8 705.2M520.7 695.6A34.1 31.9 0 0 1 579.8 705.2M539.3 705.9A21.2 19.9 0 0 1 579.8 705.2" stroke="#A3A500" stroke-width="0.5" fill="none" stroke-opacity="0.9"/>
<path d="M549.1 589.9A783.2 732.6 0 0 1 559.6 708.1M529.4 596.4A253.7 237.3 0 0 1 559.6 708.1M513 608.5A146.0 136.5 0 0 1 559.6 708.1" stroke="#00BFC4" stroke-width="0.5" fill="none" stroke-opacity="0.9"/>
<circle cx="549.1" cy="589.9" r="0.95" fill="#F00010"/>
<text x="548.7" y="588.4" font-size="1.6" text-anchor="middle" fill="#222" transform="rotate(0.1 548.7 588.4)" stroke="#222" stroke-width="0.13">PLTP</text>
<circle cx="529.4" cy="596.4" r="0.95" fill="#9A1A9A"/>
<text x="528.3" y="595.2" font-size="1.6" text-anchor="end" fill="#222" transform="rotate(0.1 528.3 595.2)" stroke="#222" stroke-width="0.13">SLC25A4</text>
<circle cx="513" cy="608.5" r="0.95" fill="#2020F0"/>
<text x="511.3" y="607.8" font-size="1.6" text-anchor="end" fill="#222" transform="rotate(0.1 511.3 607.8)" stroke="#222" stroke-width="0.13">ALDH2</text>
<circle cx="501" cy="624.9" r="0.95" fill="#F00010"/>
<text x="499" y="624.8" font-size="1.6" text-anchor="end" fill="#222" transform="rotate(0.1 499 624.8)" stroke="#222" stroke-width="0.13">SLC25A5</text>
<circle cx="496.1" cy="644" r="0.95" fill="#F00010"/>
<text x="493.9" y="644.5" font-size="1.6" text-anchor="end" fill="#222" transform="rotate(0.1 493.9 644.5)" stroke="#222" stroke-width="0.13">SLC25A31</text>
<circle cx="498.3" cy="663.6" r="0.95" fill="#2020F0"/>
<text x="496.2" y="664.8" font-size="1.6" text-anchor="end" fill="#222" transform="rotate(0.1 496.2 664.8)" stroke="#222" stroke-width="0.13">ALDH1L2</text>
<circle cx="506.4" cy="680.7" r="0.95" fill="#F00010"/>
<text x="504.5" y="682.5" font-size="1.6" text-anchor="end" fill="#222" transform="rotate(0.1 504.5 682.5)" stroke="#222" stroke-width="0.13">SLC35B2</text>
<circle cx="520.7" cy="695.6" r="0.95" fill="#9A1A9A"/>
<text x="519.3" y="698" font-size="1.6" text-anchor="end" fill="#222" transform="rotate(0.1 519.3 698)" stroke="#222" stroke-width="0.13">STARD3</text>
<circle cx="539.3" cy="705.9" r="0.95" fill="#F00010"/>
<text x="538.6" y="708.7" font-size="1.6" text-anchor="end" fill="#222" transform="rotate(0.1 538.6 708.7)" stroke="#222" stroke-width="0.13">ALDH3A2</text>
<circle cx="569.9" cy="589.9" r="1.6" fill="#E0B56E"/>
<text x="571.6" y="588.8" font-size="1.48" text-anchor="middle" fill="#111" transform="rotate(0.1 571.6 588.8)" stroke="#111" stroke-width="0.13">phospholipid transfer activity</text>
<circle cx="589.6" cy="596" r="1.6" fill="#E0B56E"/>
<text x="591.5" y="595.4" font-size="1.48" text-anchor="middle" fill="#111" transform="rotate(0.1 591.5 595.4)" stroke="#111" stroke-width="0.13">ATP transmembrane transporter activity</text>
<circle cx="606.5" cy="608.5" r="1.6" fill="#E0B56E"/>
<text x="607.8" y="607.4" font-size="1.48" text-anchor="middle" fill="#111" transform="rotate(0.1 607.8 607.4)" stroke="#111" stroke-width="0.13">adenine nucleotide transmembrane transporter activity</text>
<circle cx="617.7" cy="624.4" r="1.6" fill="#E0B56E"/>
<text x="598.4" y="624.9" font-size="1.48" text-anchor="middle" fill="#111" transform="rotate(0.1 598.4 624.9)" stroke="#111" stroke-width="0.13">purine ribonucleotide transmembrane transporter activity</text>
<circle cx="622.9" cy="643.5" r="1.6" fill="#E0B56E"/>
<text x="604.7" y="644" font-size="1.48" text-anchor="middle" fill="#111" transform="rotate(0.1 604.7 644)" stroke="#111" stroke-width="0.13">purine nucleotide transmembrane transporter activity</text>
<circle cx="621.4" cy="663.2" r="1.6" fill="#E0B56E"/>
<text x="605.2" y="663.7" font-size="1.48" text-anchor="middle" fill="#111" transform="rotate(0.1 605.2 663.7)" stroke="#111" stroke-width="0.13">nucleotide transmembrane transporter activity</text>
<circle cx="613.1" cy="681.2" r="1.6" fill="#E0B56E"/>
<text x="580.8" y="681.7" font-size="1.48" text-anchor="middle" fill="#111" transform="rotate(0.1 580.8 681.7)" stroke="#111" stroke-width="0.13">oxidoreductase activity, acting on the aldehyde or oxo group of donors, NAD or NADP as acceptor</text>
<circle cx="598.4" cy="695.4" r="1.6" fill="#E0B56E"/>
<text x="596.7" y="697.6" font-size="1.48" text-anchor="middle" fill="#111" transform="rotate(0.1 596.7 697.6)" stroke="#111" stroke-width="0.13">organophosphate ester transmembrane transporter activity</text>
<circle cx="579.8" cy="705.2" r="1.6" fill="#E0B56E"/>
<text x="581.4" y="704.2" font-size="1.48" text-anchor="middle" fill="#111" transform="rotate(0.1 581.4 704.2)" stroke="#111" stroke-width="0.13">lipid transfer activity</text>
<circle cx="559.6" cy="708.1" r="1.6" fill="#E0B56E"/>
<text x="561.7" y="706.8" font-size="1.48" text-anchor="middle" fill="#111" transform="rotate(0.1 561.7 706.8)" stroke="#111" stroke-width="0.13">oxidoreductase activity, acting on the aldehyde or oxo group of donors</text>
<text x="630.1" y="617.6" font-size="2" fill="#111" transform="rotate(0.1 630.1 617.6)" stroke="#111" stroke-width="0.13">log2FC</text>
<defs><linearGradient id="lfg619" x1="0" y1="0" x2="0" y2="1"><stop offset="0" stop-color="#F00000"/><stop offset="0.15" stop-color="#EC0008"/><stop offset="0.3" stop-color="#D80030"/><stop offset="0.45" stop-color="#B80060"/><stop offset="0.6" stop-color="#900090"/><stop offset="0.8" stop-color="#5000D8"/><stop offset="1" stop-color="#0A00FF"/></linearGradient></defs>
<rect x="630.1" y="619.5" width="3.9" height="16.5" fill="url(#lfg619)"/>
<text x="635.4" y="620.6" font-size="1.7" fill="#111" transform="rotate(0.1 635.4 620.6)" stroke="#111" stroke-width="0.13">10</text>
<text x="635.4" y="625.1" font-size="1.7" fill="#111" transform="rotate(0.1 635.4 625.1)" stroke="#111" stroke-width="0.13">8</text>
<text x="635.4" y="629.6" font-size="1.7" fill="#111" transform="rotate(0.1 635.4 629.6)" stroke="#111" stroke-width="0.13">6</text>
<text x="635.4" y="633.6" font-size="1.7" fill="#111" transform="rotate(0.1 635.4 633.6)" stroke="#111" stroke-width="0.13">4</text>
<text x="635.4" y="636.4" font-size="1.7" fill="#111" transform="rotate(0.1 635.4 636.4)" stroke="#111" stroke-width="0.13">2</text>
<text x="630.1" y="646.4" font-size="2" fill="#111" transform="rotate(0.1 630.1 646.4)" stroke="#111" stroke-width="0.13">category</text>
<line x1="630.4" y1="650" x2="633.7" y2="650" stroke="#F8766D" stroke-width="0.6" stroke-opacity="0.6"/>
<text x="635.2" y="650.6" font-size="1.87" fill="#111" transform="rotate(0.1 635.2 650.6)" stroke="#111" stroke-width="0.13">adenine nucleotide transmembrane transporter activity</text>
<line x1="630.4" y1="653.4" x2="633.7" y2="653.4" stroke="#D89000" stroke-width="0.6" stroke-opacity="0.6"/>
<text x="635.2" y="654" font-size="1.87" fill="#111" transform="rotate(0.1 635.2 654)" stroke="#111" stroke-width="0.13">ATP transmembrane transporter activity</text>
<line x1="630.4" y1="656.6" x2="633.7" y2="656.6" stroke="#A3A500" stroke-width="0.6" stroke-opacity="0.6"/>
<text x="635.2" y="657.2" font-size="1.87" fill="#111" transform="rotate(0.1 635.2 657.2)" stroke="#111" stroke-width="0.13">lipid transfer activity</text>
<line x1="630.4" y1="660" x2="633.7" y2="660" stroke="#39B600" stroke-width="0.6" stroke-opacity="0.6"/>
<text x="635.2" y="660.6" font-size="1.87" fill="#111" transform="rotate(0.1 635.2 660.6)" stroke="#111" stroke-width="0.13">nucleotide transmembrane transporter activity</text>
<line x1="630.4" y1="663.5" x2="633.7" y2="663.5" stroke="#00BF7D" stroke-width="0.6" stroke-opacity="0.6"/>
<text x="635.2" y="664.1" font-size="1.87" fill="#111" transform="rotate(0.1 635.2 664.1)" stroke="#111" stroke-width="0.13">organophosphate ester transmembrane transporter activity</text>
<line x1="630.4" y1="666.3" x2="633.7" y2="666.3" stroke="#00BFC4" stroke-width="0.6" stroke-opacity="0.6"/>
<text x="635.2" y="666" font-size="1.87" fill="#111" transform="rotate(0.1 635.2 666)" stroke="#111" stroke-width="0.13">oxidoreductase activity, acting on the aldehyde or oxo group</text>
<text x="635.2" y="667.8" font-size="1.87" fill="#111" transform="rotate(0.1 635.2 667.8)" stroke="#111" stroke-width="0.13">of donors</text>
<line x1="630.4" y1="670.2" x2="633.7" y2="670.2" stroke="#00B0F6" stroke-width="0.6" stroke-opacity="0.6"/>
<text x="635.2" y="669.9" font-size="1.87" fill="#111" transform="rotate(0.1 635.2 669.9)" stroke="#111" stroke-width="0.13">oxidoreductase activity, acting on the aldehyde or oxo group</text>
<text x="635.2" y="671.7" font-size="1.87" fill="#111" transform="rotate(0.1 635.2 671.7)" stroke="#111" stroke-width="0.13">of donors, NAD or NADP as acceptor</text>
<line x1="630.4" y1="673.6" x2="633.7" y2="673.6" stroke="#9590FF" stroke-width="0.6" stroke-opacity="0.6"/>
<text x="635.2" y="674.2" font-size="1.87" fill="#111" transform="rotate(0.1 635.2 674.2)" stroke="#111" stroke-width="0.13">phospholipid transfer activity</text>
<line x1="630.4" y1="676.9" x2="633.7" y2="676.9" stroke="#E76BF3" stroke-width="0.6" stroke-opacity="0.6"/>
<text x="635.2" y="677.5" font-size="1.87" fill="#111" transform="rotate(0.1 635.2 677.5)" stroke="#111" stroke-width="0.13">purine nucleotide transmembrane transporter activity</text>
<line x1="630.4" y1="680.3" x2="633.7" y2="680.3" stroke="#FF62BC" stroke-width="0.6" stroke-opacity="0.6"/>
<text x="635.2" y="680.9" font-size="1.87" fill="#111" transform="rotate(0.1 635.2 680.9)" stroke="#111" stroke-width="0.13">purine ribonucleotide transmembrane transporter activity</text>
<text x="630.1" y="638.6" font-size="2" fill="#111" transform="rotate(0.1 630.1 638.6)" stroke="#111" stroke-width="0.13">size</text>
<circle cx="632.1" cy="642.3" r="1.5" fill="#000"/>
<text x="636" y="642.9" font-size="1.7" fill="#111" transform="rotate(0.1 636 642.9)" stroke="#111" stroke-width="0.13">3</text>
</svg>
</body></html>
